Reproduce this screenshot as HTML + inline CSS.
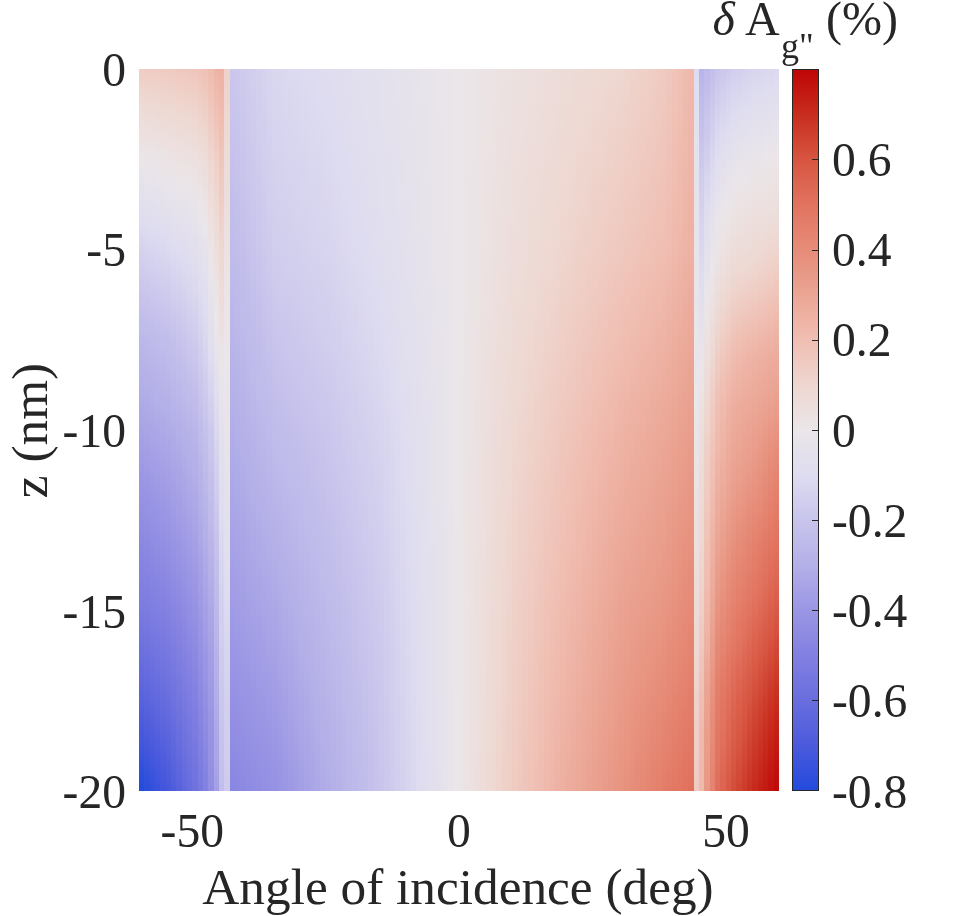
<!DOCTYPE html>
<html><head><meta charset="utf-8"><style>
html,body{margin:0;padding:0;background:#fff;}
body{width:958px;height:916px;overflow:hidden;position:relative;font-family:"Liberation Serif","Times New Roman",serif;color:#262626;}
svg{position:absolute;left:0;top:0;}
.t{position:absolute;font-size:48px;line-height:1;white-space:nowrap;}
</style></head><body>
<svg width="958" height="916" viewBox="0 0 958 916" shape-rendering="crispEdges">
<defs><linearGradient id="g0" x1="0" y1="0" x2="0" y2="1"><stop offset="0.000" stop-color="#efcdc4"/><stop offset="0.031" stop-color="#eed6ce"/><stop offset="0.062" stop-color="#eddcd8"/><stop offset="0.094" stop-color="#ece1e0"/><stop offset="0.125" stop-color="#ebe6e9"/><stop offset="0.156" stop-color="#e6e2eb"/><stop offset="0.188" stop-color="#e2dfee"/><stop offset="0.219" stop-color="#dddbf0"/><stop offset="0.250" stop-color="#d5d2ee"/><stop offset="0.281" stop-color="#cfcbed"/><stop offset="0.312" stop-color="#c8c4ec"/><stop offset="0.344" stop-color="#c2beeb"/><stop offset="0.375" stop-color="#bcb8ea"/><stop offset="0.406" stop-color="#b8b4e9"/><stop offset="0.438" stop-color="#b3afe8"/><stop offset="0.469" stop-color="#ada9e7"/><stop offset="0.500" stop-color="#a8a3e6"/><stop offset="0.531" stop-color="#a29de5"/><stop offset="0.562" stop-color="#9c97e4"/><stop offset="0.594" stop-color="#9792e3"/><stop offset="0.625" stop-color="#918de3"/><stop offset="0.656" stop-color="#8b88e2"/><stop offset="0.688" stop-color="#8683e1"/><stop offset="0.719" stop-color="#807fe1"/><stop offset="0.750" stop-color="#7a7be0"/><stop offset="0.781" stop-color="#7275df"/><stop offset="0.812" stop-color="#6a6fde"/><stop offset="0.844" stop-color="#6168dd"/><stop offset="0.875" stop-color="#5762dd"/><stop offset="0.906" stop-color="#4c5bdc"/><stop offset="0.938" stop-color="#3f56dc"/><stop offset="0.969" stop-color="#3150dc"/><stop offset="1.000" stop-color="#234bdc"/></linearGradient><linearGradient id="g1" x1="0" y1="0" x2="0" y2="1"><stop offset="0.000" stop-color="#efccc3"/><stop offset="0.031" stop-color="#eed5ce"/><stop offset="0.062" stop-color="#eddbd7"/><stop offset="0.094" stop-color="#ece0df"/><stop offset="0.125" stop-color="#ebe5e8"/><stop offset="0.156" stop-color="#e7e3eb"/><stop offset="0.188" stop-color="#e3e0ee"/><stop offset="0.219" stop-color="#dedcf0"/><stop offset="0.250" stop-color="#d7d4ef"/><stop offset="0.281" stop-color="#d0cded"/><stop offset="0.312" stop-color="#c9c5ec"/><stop offset="0.344" stop-color="#c3bfeb"/><stop offset="0.375" stop-color="#bdb9ea"/><stop offset="0.406" stop-color="#b9b5e9"/><stop offset="0.438" stop-color="#b4b0e8"/><stop offset="0.469" stop-color="#afaae7"/><stop offset="0.500" stop-color="#a9a5e6"/><stop offset="0.531" stop-color="#a49fe5"/><stop offset="0.562" stop-color="#9e99e4"/><stop offset="0.594" stop-color="#9894e4"/><stop offset="0.625" stop-color="#938fe3"/><stop offset="0.656" stop-color="#8d8ae2"/><stop offset="0.688" stop-color="#8885e2"/><stop offset="0.719" stop-color="#8280e1"/><stop offset="0.750" stop-color="#7c7ce0"/><stop offset="0.781" stop-color="#7576df"/><stop offset="0.812" stop-color="#6d71de"/><stop offset="0.844" stop-color="#646bde"/><stop offset="0.875" stop-color="#5b64dd"/><stop offset="0.906" stop-color="#515edc"/><stop offset="0.938" stop-color="#4558dc"/><stop offset="0.969" stop-color="#3853dc"/><stop offset="1.000" stop-color="#2a4edc"/></linearGradient><linearGradient id="g2" x1="0" y1="0" x2="0" y2="1"><stop offset="0.000" stop-color="#efccc3"/><stop offset="0.031" stop-color="#eed4cd"/><stop offset="0.062" stop-color="#eddbd6"/><stop offset="0.094" stop-color="#ece0de"/><stop offset="0.125" stop-color="#ebe5e7"/><stop offset="0.156" stop-color="#e8e3eb"/><stop offset="0.188" stop-color="#e3e0ed"/><stop offset="0.219" stop-color="#dfddf0"/><stop offset="0.250" stop-color="#d8d5ef"/><stop offset="0.281" stop-color="#d1ceee"/><stop offset="0.312" stop-color="#cbc7ec"/><stop offset="0.344" stop-color="#c4c0eb"/><stop offset="0.375" stop-color="#bebaea"/><stop offset="0.406" stop-color="#bab6e9"/><stop offset="0.438" stop-color="#b5b1e8"/><stop offset="0.469" stop-color="#b0ace7"/><stop offset="0.500" stop-color="#aaa6e6"/><stop offset="0.531" stop-color="#a5a1e6"/><stop offset="0.562" stop-color="#a09be5"/><stop offset="0.594" stop-color="#9a95e4"/><stop offset="0.625" stop-color="#9591e3"/><stop offset="0.656" stop-color="#8f8ce3"/><stop offset="0.688" stop-color="#8a87e2"/><stop offset="0.719" stop-color="#8482e1"/><stop offset="0.750" stop-color="#7e7de1"/><stop offset="0.781" stop-color="#7778e0"/><stop offset="0.812" stop-color="#6f72df"/><stop offset="0.844" stop-color="#676dde"/><stop offset="0.875" stop-color="#5e67dd"/><stop offset="0.906" stop-color="#5560dd"/><stop offset="0.938" stop-color="#4b5adc"/><stop offset="0.969" stop-color="#3e55dc"/><stop offset="1.000" stop-color="#3150dc"/></linearGradient><linearGradient id="g3" x1="0" y1="0" x2="0" y2="1"><stop offset="0.000" stop-color="#efccc2"/><stop offset="0.031" stop-color="#eed4cc"/><stop offset="0.062" stop-color="#eddad5"/><stop offset="0.094" stop-color="#ecdfde"/><stop offset="0.125" stop-color="#ebe4e6"/><stop offset="0.156" stop-color="#e8e4eb"/><stop offset="0.188" stop-color="#e4e0ed"/><stop offset="0.219" stop-color="#dfddef"/><stop offset="0.250" stop-color="#d9d7ef"/><stop offset="0.281" stop-color="#d3d0ee"/><stop offset="0.312" stop-color="#ccc8ed"/><stop offset="0.344" stop-color="#c6c2ec"/><stop offset="0.375" stop-color="#c0bcea"/><stop offset="0.406" stop-color="#bbb7e9"/><stop offset="0.438" stop-color="#b7b3e9"/><stop offset="0.469" stop-color="#b2aee8"/><stop offset="0.500" stop-color="#aca8e7"/><stop offset="0.531" stop-color="#a7a2e6"/><stop offset="0.562" stop-color="#a29de5"/><stop offset="0.594" stop-color="#9c97e4"/><stop offset="0.625" stop-color="#9792e4"/><stop offset="0.656" stop-color="#918ee3"/><stop offset="0.688" stop-color="#8c89e2"/><stop offset="0.719" stop-color="#8684e1"/><stop offset="0.750" stop-color="#807fe1"/><stop offset="0.781" stop-color="#797ae0"/><stop offset="0.812" stop-color="#7274df"/><stop offset="0.844" stop-color="#6a6fde"/><stop offset="0.875" stop-color="#6269de"/><stop offset="0.906" stop-color="#5963dd"/><stop offset="0.938" stop-color="#4f5ddc"/><stop offset="0.969" stop-color="#4558dc"/><stop offset="1.000" stop-color="#3953dc"/></linearGradient><linearGradient id="g4" x1="0" y1="0" x2="0" y2="1"><stop offset="0.000" stop-color="#efcbc2"/><stop offset="0.031" stop-color="#eed3cc"/><stop offset="0.062" stop-color="#eddad4"/><stop offset="0.094" stop-color="#ecdfdd"/><stop offset="0.125" stop-color="#ebe4e5"/><stop offset="0.156" stop-color="#e9e4ea"/><stop offset="0.188" stop-color="#e4e1ec"/><stop offset="0.219" stop-color="#e0deef"/><stop offset="0.250" stop-color="#dad8ef"/><stop offset="0.281" stop-color="#d4d1ee"/><stop offset="0.312" stop-color="#cdcaed"/><stop offset="0.344" stop-color="#c7c3ec"/><stop offset="0.375" stop-color="#c1bdeb"/><stop offset="0.406" stop-color="#bcb8ea"/><stop offset="0.438" stop-color="#b8b4e9"/><stop offset="0.469" stop-color="#b3afe8"/><stop offset="0.500" stop-color="#aea9e7"/><stop offset="0.531" stop-color="#a8a4e6"/><stop offset="0.562" stop-color="#a39fe5"/><stop offset="0.594" stop-color="#9e99e4"/><stop offset="0.625" stop-color="#9994e4"/><stop offset="0.656" stop-color="#938fe3"/><stop offset="0.688" stop-color="#8e8ae2"/><stop offset="0.719" stop-color="#8885e2"/><stop offset="0.750" stop-color="#8280e1"/><stop offset="0.781" stop-color="#7b7be0"/><stop offset="0.812" stop-color="#7476df"/><stop offset="0.844" stop-color="#6d71de"/><stop offset="0.875" stop-color="#656cde"/><stop offset="0.906" stop-color="#5d66dd"/><stop offset="0.938" stop-color="#5460dd"/><stop offset="0.969" stop-color="#4b5adc"/><stop offset="1.000" stop-color="#4056dc"/></linearGradient><linearGradient id="g5" x1="0" y1="0" x2="0" y2="1"><stop offset="0.000" stop-color="#efcac1"/><stop offset="0.031" stop-color="#eed3cb"/><stop offset="0.062" stop-color="#eed9d4"/><stop offset="0.094" stop-color="#eddedc"/><stop offset="0.125" stop-color="#ece3e4"/><stop offset="0.156" stop-color="#e9e5ea"/><stop offset="0.188" stop-color="#e5e2ec"/><stop offset="0.219" stop-color="#e1deee"/><stop offset="0.250" stop-color="#dcdaf0"/><stop offset="0.281" stop-color="#d5d2ee"/><stop offset="0.312" stop-color="#cfcbed"/><stop offset="0.344" stop-color="#c8c4ec"/><stop offset="0.375" stop-color="#c2beeb"/><stop offset="0.406" stop-color="#bebaea"/><stop offset="0.438" stop-color="#b9b5e9"/><stop offset="0.469" stop-color="#b4b0e8"/><stop offset="0.500" stop-color="#afabe7"/><stop offset="0.531" stop-color="#aaa6e6"/><stop offset="0.562" stop-color="#a5a0e6"/><stop offset="0.594" stop-color="#a09be5"/><stop offset="0.625" stop-color="#9b96e4"/><stop offset="0.656" stop-color="#9591e3"/><stop offset="0.688" stop-color="#908ce3"/><stop offset="0.719" stop-color="#8a87e2"/><stop offset="0.750" stop-color="#8482e1"/><stop offset="0.781" stop-color="#7e7de0"/><stop offset="0.812" stop-color="#7778e0"/><stop offset="0.844" stop-color="#7073df"/><stop offset="0.875" stop-color="#696ede"/><stop offset="0.906" stop-color="#6168dd"/><stop offset="0.938" stop-color="#5863dd"/><stop offset="0.969" stop-color="#505edc"/><stop offset="1.000" stop-color="#4758dc"/></linearGradient><linearGradient id="g6" x1="0" y1="0" x2="0" y2="1"><stop offset="0.000" stop-color="#efcac0"/><stop offset="0.031" stop-color="#eed2ca"/><stop offset="0.062" stop-color="#eed9d3"/><stop offset="0.094" stop-color="#eddedb"/><stop offset="0.125" stop-color="#ece2e3"/><stop offset="0.156" stop-color="#eae5ea"/><stop offset="0.188" stop-color="#e6e2ec"/><stop offset="0.219" stop-color="#e2dfee"/><stop offset="0.250" stop-color="#dedcf0"/><stop offset="0.281" stop-color="#d7d5ef"/><stop offset="0.312" stop-color="#d1ceee"/><stop offset="0.344" stop-color="#cac7ec"/><stop offset="0.375" stop-color="#c4c0eb"/><stop offset="0.406" stop-color="#c0bcea"/><stop offset="0.438" stop-color="#bbb7e9"/><stop offset="0.469" stop-color="#b7b3e9"/><stop offset="0.500" stop-color="#b2ade8"/><stop offset="0.531" stop-color="#ada8e7"/><stop offset="0.562" stop-color="#a8a3e6"/><stop offset="0.594" stop-color="#a39ee5"/><stop offset="0.625" stop-color="#9e99e4"/><stop offset="0.656" stop-color="#9894e4"/><stop offset="0.688" stop-color="#938fe3"/><stop offset="0.719" stop-color="#8e8ae2"/><stop offset="0.750" stop-color="#8885e2"/><stop offset="0.781" stop-color="#8280e1"/><stop offset="0.812" stop-color="#7b7be0"/><stop offset="0.844" stop-color="#7476df"/><stop offset="0.875" stop-color="#6e72df"/><stop offset="0.906" stop-color="#676dde"/><stop offset="0.938" stop-color="#5f68dd"/><stop offset="0.969" stop-color="#5862dd"/><stop offset="1.000" stop-color="#505ddc"/></linearGradient><linearGradient id="g7" x1="0" y1="0" x2="0" y2="1"><stop offset="0.000" stop-color="#efc8bf"/><stop offset="0.031" stop-color="#efd1c8"/><stop offset="0.062" stop-color="#eed8d2"/><stop offset="0.094" stop-color="#edddda"/><stop offset="0.125" stop-color="#ece2e2"/><stop offset="0.156" stop-color="#ebe6e9"/><stop offset="0.188" stop-color="#e7e3eb"/><stop offset="0.219" stop-color="#e3e0ed"/><stop offset="0.250" stop-color="#dfddf0"/><stop offset="0.281" stop-color="#d9d7ef"/><stop offset="0.312" stop-color="#d3d0ee"/><stop offset="0.344" stop-color="#cdc9ed"/><stop offset="0.375" stop-color="#c7c3ec"/><stop offset="0.406" stop-color="#c2beeb"/><stop offset="0.438" stop-color="#bdb9ea"/><stop offset="0.469" stop-color="#b9b5e9"/><stop offset="0.500" stop-color="#b4b0e8"/><stop offset="0.531" stop-color="#afabe7"/><stop offset="0.562" stop-color="#aaa6e6"/><stop offset="0.594" stop-color="#a6a1e6"/><stop offset="0.625" stop-color="#a19ce5"/><stop offset="0.656" stop-color="#9c97e4"/><stop offset="0.688" stop-color="#9692e3"/><stop offset="0.719" stop-color="#918de3"/><stop offset="0.750" stop-color="#8c88e2"/><stop offset="0.781" stop-color="#8583e1"/><stop offset="0.812" stop-color="#7f7ee1"/><stop offset="0.844" stop-color="#797ae0"/><stop offset="0.875" stop-color="#7375df"/><stop offset="0.906" stop-color="#6d71de"/><stop offset="0.938" stop-color="#666cde"/><stop offset="0.969" stop-color="#5f67dd"/><stop offset="1.000" stop-color="#5862dd"/></linearGradient><linearGradient id="g8" x1="0" y1="0" x2="0" y2="1"><stop offset="0.000" stop-color="#efc8bd"/><stop offset="0.031" stop-color="#efd0c7"/><stop offset="0.062" stop-color="#eed7d1"/><stop offset="0.094" stop-color="#eddcd9"/><stop offset="0.125" stop-color="#ece1e1"/><stop offset="0.156" stop-color="#ebe6e8"/><stop offset="0.188" stop-color="#e7e3eb"/><stop offset="0.219" stop-color="#e4e0ed"/><stop offset="0.250" stop-color="#e0ddef"/><stop offset="0.281" stop-color="#dbd9ef"/><stop offset="0.312" stop-color="#d5d2ee"/><stop offset="0.344" stop-color="#cfcced"/><stop offset="0.375" stop-color="#c9c5ec"/><stop offset="0.406" stop-color="#c4c0eb"/><stop offset="0.438" stop-color="#c0bcea"/><stop offset="0.469" stop-color="#bbb7e9"/><stop offset="0.500" stop-color="#b6b2e8"/><stop offset="0.531" stop-color="#b2aee8"/><stop offset="0.562" stop-color="#ada9e7"/><stop offset="0.594" stop-color="#a9a4e6"/><stop offset="0.625" stop-color="#a49fe5"/><stop offset="0.656" stop-color="#9f9ae5"/><stop offset="0.688" stop-color="#9a95e4"/><stop offset="0.719" stop-color="#9490e3"/><stop offset="0.750" stop-color="#8f8be3"/><stop offset="0.781" stop-color="#8986e2"/><stop offset="0.812" stop-color="#8481e1"/><stop offset="0.844" stop-color="#7e7de0"/><stop offset="0.875" stop-color="#7879e0"/><stop offset="0.906" stop-color="#7275df"/><stop offset="0.938" stop-color="#6c71de"/><stop offset="0.969" stop-color="#666cde"/><stop offset="1.000" stop-color="#5f68dd"/></linearGradient><linearGradient id="g9" x1="0" y1="0" x2="0" y2="1"><stop offset="0.000" stop-color="#efc6bc"/><stop offset="0.031" stop-color="#efcfc6"/><stop offset="0.062" stop-color="#eed7d0"/><stop offset="0.094" stop-color="#eddcd8"/><stop offset="0.125" stop-color="#ece1e0"/><stop offset="0.156" stop-color="#ebe5e7"/><stop offset="0.188" stop-color="#e8e4ea"/><stop offset="0.219" stop-color="#e5e1ec"/><stop offset="0.250" stop-color="#e1deee"/><stop offset="0.281" stop-color="#dddbf0"/><stop offset="0.312" stop-color="#d7d5ef"/><stop offset="0.344" stop-color="#d2cfee"/><stop offset="0.375" stop-color="#ccc8ed"/><stop offset="0.406" stop-color="#c7c3ec"/><stop offset="0.438" stop-color="#c2beeb"/><stop offset="0.469" stop-color="#bdb9ea"/><stop offset="0.500" stop-color="#b8b4e9"/><stop offset="0.531" stop-color="#b4b0e8"/><stop offset="0.562" stop-color="#b0ace7"/><stop offset="0.594" stop-color="#aca7e7"/><stop offset="0.625" stop-color="#a7a2e6"/><stop offset="0.656" stop-color="#a29de5"/><stop offset="0.688" stop-color="#9d98e4"/><stop offset="0.719" stop-color="#9893e4"/><stop offset="0.750" stop-color="#928fe3"/><stop offset="0.781" stop-color="#8d8ae2"/><stop offset="0.812" stop-color="#8885e2"/><stop offset="0.844" stop-color="#8280e1"/><stop offset="0.875" stop-color="#7d7ce0"/><stop offset="0.906" stop-color="#7879e0"/><stop offset="0.938" stop-color="#7275df"/><stop offset="0.969" stop-color="#6d71de"/><stop offset="1.000" stop-color="#676dde"/></linearGradient><linearGradient id="g10" x1="0" y1="0" x2="0" y2="1"><stop offset="0.000" stop-color="#efc6bb"/><stop offset="0.031" stop-color="#efcec5"/><stop offset="0.062" stop-color="#eed6ce"/><stop offset="0.094" stop-color="#eddbd7"/><stop offset="0.125" stop-color="#ece0df"/><stop offset="0.156" stop-color="#ebe4e6"/><stop offset="0.188" stop-color="#e9e4ea"/><stop offset="0.219" stop-color="#e5e2ec"/><stop offset="0.250" stop-color="#e2dfee"/><stop offset="0.281" stop-color="#dfdcf0"/><stop offset="0.312" stop-color="#dad7ef"/><stop offset="0.344" stop-color="#d4d1ee"/><stop offset="0.375" stop-color="#cfcbed"/><stop offset="0.406" stop-color="#c9c5ec"/><stop offset="0.438" stop-color="#c4c0eb"/><stop offset="0.469" stop-color="#bfbbea"/><stop offset="0.500" stop-color="#bab6e9"/><stop offset="0.531" stop-color="#b6b2e8"/><stop offset="0.562" stop-color="#b3afe8"/><stop offset="0.594" stop-color="#aeaae7"/><stop offset="0.625" stop-color="#aaa6e6"/><stop offset="0.656" stop-color="#a5a0e6"/><stop offset="0.688" stop-color="#a09be5"/><stop offset="0.719" stop-color="#9b96e4"/><stop offset="0.750" stop-color="#9692e3"/><stop offset="0.781" stop-color="#918de3"/><stop offset="0.812" stop-color="#8c89e2"/><stop offset="0.844" stop-color="#8784e2"/><stop offset="0.875" stop-color="#8280e1"/><stop offset="0.906" stop-color="#7d7ce0"/><stop offset="0.938" stop-color="#7879e0"/><stop offset="0.969" stop-color="#7375df"/><stop offset="1.000" stop-color="#6e72df"/></linearGradient><linearGradient id="g11" x1="0" y1="0" x2="0" y2="1"><stop offset="0.000" stop-color="#f0c3b8"/><stop offset="0.031" stop-color="#efcbc1"/><stop offset="0.062" stop-color="#eed3cb"/><stop offset="0.094" stop-color="#eed9d3"/><stop offset="0.125" stop-color="#eddedb"/><stop offset="0.156" stop-color="#ece2e2"/><stop offset="0.188" stop-color="#ebe6e8"/><stop offset="0.219" stop-color="#e8e4eb"/><stop offset="0.250" stop-color="#e4e1ec"/><stop offset="0.281" stop-color="#e1dfee"/><stop offset="0.312" stop-color="#dedcf0"/><stop offset="0.344" stop-color="#d9d7ef"/><stop offset="0.375" stop-color="#d4d1ee"/><stop offset="0.406" stop-color="#cfcced"/><stop offset="0.438" stop-color="#cac6ec"/><stop offset="0.469" stop-color="#c5c1eb"/><stop offset="0.500" stop-color="#c0bcea"/><stop offset="0.531" stop-color="#bcb8ea"/><stop offset="0.562" stop-color="#b8b4e9"/><stop offset="0.594" stop-color="#b5b1e8"/><stop offset="0.625" stop-color="#b0ace7"/><stop offset="0.656" stop-color="#aca7e7"/><stop offset="0.688" stop-color="#a7a2e6"/><stop offset="0.719" stop-color="#a29de5"/><stop offset="0.750" stop-color="#9e99e4"/><stop offset="0.781" stop-color="#9994e4"/><stop offset="0.812" stop-color="#9490e3"/><stop offset="0.844" stop-color="#8f8ce3"/><stop offset="0.875" stop-color="#8b88e2"/><stop offset="0.906" stop-color="#8684e1"/><stop offset="0.938" stop-color="#8180e1"/><stop offset="0.969" stop-color="#7d7ce0"/><stop offset="1.000" stop-color="#7879e0"/></linearGradient><linearGradient id="g12" x1="0" y1="0" x2="0" y2="1"><stop offset="0.000" stop-color="#f0c0b5"/><stop offset="0.031" stop-color="#efc8be"/><stop offset="0.062" stop-color="#efd0c7"/><stop offset="0.094" stop-color="#eed7d0"/><stop offset="0.125" stop-color="#eddcd8"/><stop offset="0.156" stop-color="#ecdfde"/><stop offset="0.188" stop-color="#ece3e4"/><stop offset="0.219" stop-color="#eae6e9"/><stop offset="0.250" stop-color="#e7e3eb"/><stop offset="0.281" stop-color="#e4e1ed"/><stop offset="0.312" stop-color="#e1deee"/><stop offset="0.344" stop-color="#dedcf0"/><stop offset="0.375" stop-color="#dad7ef"/><stop offset="0.406" stop-color="#d5d2ee"/><stop offset="0.438" stop-color="#d0cced"/><stop offset="0.469" stop-color="#cbc7ec"/><stop offset="0.500" stop-color="#c6c2ec"/><stop offset="0.531" stop-color="#c2beeb"/><stop offset="0.562" stop-color="#bebaea"/><stop offset="0.594" stop-color="#bab6e9"/><stop offset="0.625" stop-color="#b6b2e8"/><stop offset="0.656" stop-color="#b2aee8"/><stop offset="0.688" stop-color="#aeaae7"/><stop offset="0.719" stop-color="#a9a5e6"/><stop offset="0.750" stop-color="#a5a0e6"/><stop offset="0.781" stop-color="#a19ce5"/><stop offset="0.812" stop-color="#9c97e4"/><stop offset="0.844" stop-color="#9893e4"/><stop offset="0.875" stop-color="#948fe3"/><stop offset="0.906" stop-color="#8f8ce3"/><stop offset="0.938" stop-color="#8b88e2"/><stop offset="0.969" stop-color="#8684e2"/><stop offset="1.000" stop-color="#8280e1"/></linearGradient><linearGradient id="g13" x1="0" y1="0" x2="0" y2="1"><stop offset="0.000" stop-color="#f0bcaf"/><stop offset="0.031" stop-color="#f0c2b7"/><stop offset="0.062" stop-color="#efc9c0"/><stop offset="0.094" stop-color="#efd0c8"/><stop offset="0.125" stop-color="#eed7d0"/><stop offset="0.156" stop-color="#eddad6"/><stop offset="0.188" stop-color="#eddedb"/><stop offset="0.219" stop-color="#ece1e1"/><stop offset="0.250" stop-color="#ebe4e6"/><stop offset="0.281" stop-color="#eae5ea"/><stop offset="0.312" stop-color="#e7e3eb"/><stop offset="0.344" stop-color="#e4e1ec"/><stop offset="0.375" stop-color="#e2dfee"/><stop offset="0.406" stop-color="#dedcf0"/><stop offset="0.438" stop-color="#d8d6ef"/><stop offset="0.469" stop-color="#d2cfee"/><stop offset="0.500" stop-color="#ccc9ed"/><stop offset="0.531" stop-color="#c9c5ec"/><stop offset="0.562" stop-color="#c5c1eb"/><stop offset="0.594" stop-color="#c2beeb"/><stop offset="0.625" stop-color="#bebaea"/><stop offset="0.656" stop-color="#bab6e9"/><stop offset="0.688" stop-color="#b6b2e8"/><stop offset="0.719" stop-color="#b2ade8"/><stop offset="0.750" stop-color="#aca8e7"/><stop offset="0.781" stop-color="#a9a4e6"/><stop offset="0.812" stop-color="#a5a0e6"/><stop offset="0.844" stop-color="#a19ce5"/><stop offset="0.875" stop-color="#9e99e4"/><stop offset="0.906" stop-color="#9a95e4"/><stop offset="0.938" stop-color="#9793e4"/><stop offset="0.969" stop-color="#9490e3"/><stop offset="1.000" stop-color="#918de3"/></linearGradient><linearGradient id="g14" x1="0" y1="0" x2="0" y2="1"><stop offset="0.000" stop-color="#eeb4a6"/><stop offset="0.031" stop-color="#efbbae"/><stop offset="0.062" stop-color="#f0c2b6"/><stop offset="0.094" stop-color="#efc9bf"/><stop offset="0.125" stop-color="#efd0c7"/><stop offset="0.156" stop-color="#eed4cd"/><stop offset="0.188" stop-color="#eed8d2"/><stop offset="0.219" stop-color="#eddcd8"/><stop offset="0.250" stop-color="#ecdedc"/><stop offset="0.281" stop-color="#ece1e1"/><stop offset="0.312" stop-color="#ebe4e5"/><stop offset="0.344" stop-color="#ebe6e9"/><stop offset="0.375" stop-color="#e8e4ea"/><stop offset="0.406" stop-color="#e5e2ec"/><stop offset="0.438" stop-color="#e2dfee"/><stop offset="0.469" stop-color="#dfdcf0"/><stop offset="0.500" stop-color="#dad7ef"/><stop offset="0.531" stop-color="#d6d3ee"/><stop offset="0.562" stop-color="#d2cfee"/><stop offset="0.594" stop-color="#cecbed"/><stop offset="0.625" stop-color="#cac6ec"/><stop offset="0.656" stop-color="#c6c2ec"/><stop offset="0.688" stop-color="#c3bfeb"/><stop offset="0.719" stop-color="#c0bcea"/><stop offset="0.750" stop-color="#bcb8ea"/><stop offset="0.781" stop-color="#bab6e9"/><stop offset="0.812" stop-color="#b7b3e9"/><stop offset="0.844" stop-color="#b4b0e8"/><stop offset="0.875" stop-color="#b2ade8"/><stop offset="0.906" stop-color="#aeaae7"/><stop offset="0.938" stop-color="#aba7e7"/><stop offset="0.969" stop-color="#a8a4e6"/><stop offset="1.000" stop-color="#a5a0e6"/></linearGradient><linearGradient id="g15" x1="0" y1="0" x2="0" y2="1"><stop offset="0.000" stop-color="#eeb2a3"/><stop offset="0.031" stop-color="#eeb6a9"/><stop offset="0.062" stop-color="#f0bcaf"/><stop offset="0.094" stop-color="#f0c0b5"/><stop offset="0.125" stop-color="#efc6bb"/><stop offset="0.156" stop-color="#efcac0"/><stop offset="0.188" stop-color="#efcec6"/><stop offset="0.219" stop-color="#eed3cb"/><stop offset="0.250" stop-color="#eed7d0"/><stop offset="0.281" stop-color="#eddad4"/><stop offset="0.312" stop-color="#eddcd9"/><stop offset="0.344" stop-color="#ecdfdd"/><stop offset="0.375" stop-color="#ece2e2"/><stop offset="0.406" stop-color="#ebe4e6"/><stop offset="0.438" stop-color="#eae5ea"/><stop offset="0.469" stop-color="#e7e3eb"/><stop offset="0.500" stop-color="#e4e1ec"/><stop offset="0.531" stop-color="#e3e0ed"/><stop offset="0.562" stop-color="#e1deee"/><stop offset="0.594" stop-color="#e0ddef"/><stop offset="0.625" stop-color="#dedcf0"/><stop offset="0.656" stop-color="#dbd9f0"/><stop offset="0.688" stop-color="#d8d6ef"/><stop offset="0.719" stop-color="#d6d3ee"/><stop offset="0.750" stop-color="#d3d0ee"/><stop offset="0.781" stop-color="#d1ceee"/><stop offset="0.812" stop-color="#cfcbed"/><stop offset="0.844" stop-color="#ccc9ed"/><stop offset="0.875" stop-color="#cac6ec"/><stop offset="0.906" stop-color="#c8c4ec"/><stop offset="0.938" stop-color="#c6c2ec"/><stop offset="0.969" stop-color="#c4c0eb"/><stop offset="1.000" stop-color="#c2beeb"/></linearGradient><linearGradient id="g16" x1="0" y1="0" x2="0" y2="1"><stop offset="0.000" stop-color="#eed2ca"/><stop offset="0.031" stop-color="#eed5ce"/><stop offset="0.062" stop-color="#eed8d1"/><stop offset="0.094" stop-color="#eddad4"/><stop offset="0.125" stop-color="#eddcd8"/><stop offset="0.156" stop-color="#edddda"/><stop offset="0.188" stop-color="#ecdedc"/><stop offset="0.219" stop-color="#ece0df"/><stop offset="0.250" stop-color="#ece2e2"/><stop offset="0.281" stop-color="#ece3e3"/><stop offset="0.312" stop-color="#ebe4e5"/><stop offset="0.344" stop-color="#ebe5e7"/><stop offset="0.375" stop-color="#ebe6e9"/><stop offset="0.406" stop-color="#eae6e9"/><stop offset="0.438" stop-color="#eae5ea"/><stop offset="0.469" stop-color="#e9e4ea"/><stop offset="0.500" stop-color="#e8e4ea"/><stop offset="0.531" stop-color="#e7e3eb"/><stop offset="0.562" stop-color="#e6e2ec"/><stop offset="0.594" stop-color="#e4e1ec"/><stop offset="0.625" stop-color="#e3e0ed"/><stop offset="0.656" stop-color="#e2dfee"/><stop offset="0.688" stop-color="#e0deef"/><stop offset="0.719" stop-color="#dedcf0"/><stop offset="0.750" stop-color="#dcdaf0"/><stop offset="0.781" stop-color="#dad7ef"/><stop offset="0.812" stop-color="#d7d5ef"/><stop offset="0.844" stop-color="#d5d2ee"/><stop offset="0.875" stop-color="#d3d0ee"/><stop offset="0.906" stop-color="#d2cfee"/><stop offset="0.938" stop-color="#d1ceee"/><stop offset="0.969" stop-color="#d0cced"/><stop offset="1.000" stop-color="#cfcbed"/></linearGradient><linearGradient id="g17" x1="0" y1="0" x2="0" y2="1"><stop offset="0.000" stop-color="#cac6ec"/><stop offset="0.031" stop-color="#c9c5ec"/><stop offset="0.062" stop-color="#c8c4ec"/><stop offset="0.094" stop-color="#c6c2ec"/><stop offset="0.125" stop-color="#c5c1eb"/><stop offset="0.156" stop-color="#c4c0eb"/><stop offset="0.188" stop-color="#c2beeb"/><stop offset="0.219" stop-color="#c1bdeb"/><stop offset="0.250" stop-color="#c0bcea"/><stop offset="0.281" stop-color="#bebaea"/><stop offset="0.312" stop-color="#bcb8ea"/><stop offset="0.344" stop-color="#bbb7e9"/><stop offset="0.375" stop-color="#b9b5e9"/><stop offset="0.406" stop-color="#b7b3e9"/><stop offset="0.438" stop-color="#b6b2e8"/><stop offset="0.469" stop-color="#b4b0e8"/><stop offset="0.500" stop-color="#b2ade8"/><stop offset="0.531" stop-color="#afabe7"/><stop offset="0.562" stop-color="#ada9e7"/><stop offset="0.594" stop-color="#aba7e7"/><stop offset="0.625" stop-color="#a9a4e6"/><stop offset="0.656" stop-color="#a7a2e6"/><stop offset="0.688" stop-color="#a4a0e6"/><stop offset="0.719" stop-color="#a29de5"/><stop offset="0.750" stop-color="#a09be5"/><stop offset="0.781" stop-color="#9d98e4"/><stop offset="0.812" stop-color="#9a95e4"/><stop offset="0.844" stop-color="#9893e4"/><stop offset="0.875" stop-color="#9590e3"/><stop offset="0.906" stop-color="#928ee3"/><stop offset="0.938" stop-color="#8f8ce3"/><stop offset="0.969" stop-color="#8c89e2"/><stop offset="1.000" stop-color="#8a87e2"/></linearGradient><linearGradient id="g18" x1="0" y1="0" x2="0" y2="1"><stop offset="0.000" stop-color="#ccc8ed"/><stop offset="0.031" stop-color="#cbc7ed"/><stop offset="0.062" stop-color="#c9c6ec"/><stop offset="0.094" stop-color="#c8c4ec"/><stop offset="0.125" stop-color="#c7c3ec"/><stop offset="0.156" stop-color="#c6c2ec"/><stop offset="0.188" stop-color="#c4c0eb"/><stop offset="0.219" stop-color="#c3bfeb"/><stop offset="0.250" stop-color="#c2beeb"/><stop offset="0.281" stop-color="#c0bcea"/><stop offset="0.312" stop-color="#bebaea"/><stop offset="0.344" stop-color="#bdb9ea"/><stop offset="0.375" stop-color="#bbb7e9"/><stop offset="0.406" stop-color="#b9b5e9"/><stop offset="0.438" stop-color="#b7b3e9"/><stop offset="0.469" stop-color="#b6b2e8"/><stop offset="0.500" stop-color="#b4b0e8"/><stop offset="0.531" stop-color="#b1ade8"/><stop offset="0.562" stop-color="#afabe7"/><stop offset="0.594" stop-color="#ada9e7"/><stop offset="0.625" stop-color="#aba6e6"/><stop offset="0.656" stop-color="#a8a4e6"/><stop offset="0.688" stop-color="#a6a2e6"/><stop offset="0.719" stop-color="#a49fe5"/><stop offset="0.750" stop-color="#a29de5"/><stop offset="0.781" stop-color="#9f9ae5"/><stop offset="0.812" stop-color="#9c97e4"/><stop offset="0.844" stop-color="#9994e4"/><stop offset="0.875" stop-color="#9692e3"/><stop offset="0.906" stop-color="#948fe3"/><stop offset="0.938" stop-color="#918de3"/><stop offset="0.969" stop-color="#8e8ae2"/><stop offset="1.000" stop-color="#8b88e2"/></linearGradient><linearGradient id="g19" x1="0" y1="0" x2="0" y2="1"><stop offset="0.000" stop-color="#cecbed"/><stop offset="0.031" stop-color="#cdc9ed"/><stop offset="0.062" stop-color="#cbc8ed"/><stop offset="0.094" stop-color="#cac6ec"/><stop offset="0.125" stop-color="#c9c5ec"/><stop offset="0.156" stop-color="#c8c4ec"/><stop offset="0.188" stop-color="#c6c2ec"/><stop offset="0.219" stop-color="#c5c1eb"/><stop offset="0.250" stop-color="#c4c0eb"/><stop offset="0.281" stop-color="#c2beeb"/><stop offset="0.312" stop-color="#c0bcea"/><stop offset="0.344" stop-color="#bfbbea"/><stop offset="0.375" stop-color="#bdb9ea"/><stop offset="0.406" stop-color="#bbb7e9"/><stop offset="0.438" stop-color="#b9b5e9"/><stop offset="0.469" stop-color="#b7b3e9"/><stop offset="0.500" stop-color="#b6b2e8"/><stop offset="0.531" stop-color="#b4b0e8"/><stop offset="0.562" stop-color="#b1ade8"/><stop offset="0.594" stop-color="#afabe7"/><stop offset="0.625" stop-color="#aca8e7"/><stop offset="0.656" stop-color="#aaa6e6"/><stop offset="0.688" stop-color="#a8a3e6"/><stop offset="0.719" stop-color="#a5a1e6"/><stop offset="0.750" stop-color="#a39ee5"/><stop offset="0.781" stop-color="#a09ce5"/><stop offset="0.812" stop-color="#9e99e4"/><stop offset="0.844" stop-color="#9b96e4"/><stop offset="0.875" stop-color="#9893e4"/><stop offset="0.906" stop-color="#9591e3"/><stop offset="0.938" stop-color="#928ee3"/><stop offset="0.969" stop-color="#8f8ce3"/><stop offset="1.000" stop-color="#8d89e2"/></linearGradient><linearGradient id="g20" x1="0" y1="0" x2="0" y2="1"><stop offset="0.000" stop-color="#d0cded"/><stop offset="0.031" stop-color="#cfcbed"/><stop offset="0.062" stop-color="#cdcaed"/><stop offset="0.094" stop-color="#ccc9ed"/><stop offset="0.125" stop-color="#cbc7ed"/><stop offset="0.156" stop-color="#cac6ec"/><stop offset="0.188" stop-color="#c8c4ec"/><stop offset="0.219" stop-color="#c7c3ec"/><stop offset="0.250" stop-color="#c6c2ec"/><stop offset="0.281" stop-color="#c4c0eb"/><stop offset="0.312" stop-color="#c2beeb"/><stop offset="0.344" stop-color="#c0bcea"/><stop offset="0.375" stop-color="#bfbbea"/><stop offset="0.406" stop-color="#bdb9ea"/><stop offset="0.438" stop-color="#bbb7e9"/><stop offset="0.469" stop-color="#b9b5e9"/><stop offset="0.500" stop-color="#b7b3e9"/><stop offset="0.531" stop-color="#b5b1e8"/><stop offset="0.562" stop-color="#b3afe8"/><stop offset="0.594" stop-color="#b1ade7"/><stop offset="0.625" stop-color="#aeaae7"/><stop offset="0.656" stop-color="#aca8e7"/><stop offset="0.688" stop-color="#aaa5e6"/><stop offset="0.719" stop-color="#a7a3e6"/><stop offset="0.750" stop-color="#a5a0e6"/><stop offset="0.781" stop-color="#a29de5"/><stop offset="0.812" stop-color="#9f9ae5"/><stop offset="0.844" stop-color="#9c97e4"/><stop offset="0.875" stop-color="#9995e4"/><stop offset="0.906" stop-color="#9792e3"/><stop offset="0.938" stop-color="#9490e3"/><stop offset="0.969" stop-color="#918de3"/><stop offset="1.000" stop-color="#8e8be2"/></linearGradient><linearGradient id="g21" x1="0" y1="0" x2="0" y2="1"><stop offset="0.000" stop-color="#d2cfee"/><stop offset="0.031" stop-color="#d1cdee"/><stop offset="0.062" stop-color="#cfcced"/><stop offset="0.094" stop-color="#cecbed"/><stop offset="0.125" stop-color="#cdc9ed"/><stop offset="0.156" stop-color="#ccc8ed"/><stop offset="0.188" stop-color="#cac7ec"/><stop offset="0.219" stop-color="#c9c5ec"/><stop offset="0.250" stop-color="#c8c4ec"/><stop offset="0.281" stop-color="#c6c2ec"/><stop offset="0.312" stop-color="#c4c0eb"/><stop offset="0.344" stop-color="#c2beeb"/><stop offset="0.375" stop-color="#c0bcea"/><stop offset="0.406" stop-color="#bfbbea"/><stop offset="0.438" stop-color="#bdb9ea"/><stop offset="0.469" stop-color="#bbb7e9"/><stop offset="0.500" stop-color="#b9b5e9"/><stop offset="0.531" stop-color="#b7b3e9"/><stop offset="0.562" stop-color="#b5b1e8"/><stop offset="0.594" stop-color="#b3afe8"/><stop offset="0.625" stop-color="#b0ace7"/><stop offset="0.656" stop-color="#aeaae7"/><stop offset="0.688" stop-color="#aba7e7"/><stop offset="0.719" stop-color="#a9a4e6"/><stop offset="0.750" stop-color="#a6a2e6"/><stop offset="0.781" stop-color="#a39fe5"/><stop offset="0.812" stop-color="#a19ce5"/><stop offset="0.844" stop-color="#9e99e4"/><stop offset="0.875" stop-color="#9b96e4"/><stop offset="0.906" stop-color="#9894e4"/><stop offset="0.938" stop-color="#9591e3"/><stop offset="0.969" stop-color="#938fe3"/><stop offset="1.000" stop-color="#908ce3"/></linearGradient><linearGradient id="g22" x1="0" y1="0" x2="0" y2="1"><stop offset="0.000" stop-color="#d4d1ee"/><stop offset="0.031" stop-color="#d3d0ee"/><stop offset="0.062" stop-color="#d1ceee"/><stop offset="0.094" stop-color="#d0cded"/><stop offset="0.125" stop-color="#cfcced"/><stop offset="0.156" stop-color="#cecaed"/><stop offset="0.188" stop-color="#cdc9ed"/><stop offset="0.219" stop-color="#cbc8ed"/><stop offset="0.250" stop-color="#cac6ec"/><stop offset="0.281" stop-color="#c8c4ec"/><stop offset="0.312" stop-color="#c6c2ec"/><stop offset="0.344" stop-color="#c4c0eb"/><stop offset="0.375" stop-color="#c2beeb"/><stop offset="0.406" stop-color="#c0bcea"/><stop offset="0.438" stop-color="#bfbbea"/><stop offset="0.469" stop-color="#bdb9ea"/><stop offset="0.500" stop-color="#bbb7e9"/><stop offset="0.531" stop-color="#b9b5e9"/><stop offset="0.562" stop-color="#b7b3e9"/><stop offset="0.594" stop-color="#b5b1e8"/><stop offset="0.625" stop-color="#b2aee8"/><stop offset="0.656" stop-color="#b0abe7"/><stop offset="0.688" stop-color="#ada9e7"/><stop offset="0.719" stop-color="#aaa6e6"/><stop offset="0.750" stop-color="#a8a3e6"/><stop offset="0.781" stop-color="#a5a0e6"/><stop offset="0.812" stop-color="#a29de5"/><stop offset="0.844" stop-color="#9f9be5"/><stop offset="0.875" stop-color="#9d98e4"/><stop offset="0.906" stop-color="#9a95e4"/><stop offset="0.938" stop-color="#9792e4"/><stop offset="0.969" stop-color="#9490e3"/><stop offset="1.000" stop-color="#918de3"/></linearGradient><linearGradient id="g23" x1="0" y1="0" x2="0" y2="1"><stop offset="0.000" stop-color="#d6d3ee"/><stop offset="0.031" stop-color="#d5d2ee"/><stop offset="0.062" stop-color="#d3d0ee"/><stop offset="0.094" stop-color="#d2cfee"/><stop offset="0.125" stop-color="#d1ceee"/><stop offset="0.156" stop-color="#d0cded"/><stop offset="0.188" stop-color="#cfcbed"/><stop offset="0.219" stop-color="#cecaed"/><stop offset="0.250" stop-color="#ccc9ed"/><stop offset="0.281" stop-color="#cac6ec"/><stop offset="0.312" stop-color="#c8c4ec"/><stop offset="0.344" stop-color="#c6c2ec"/><stop offset="0.375" stop-color="#c4c0eb"/><stop offset="0.406" stop-color="#c2beeb"/><stop offset="0.438" stop-color="#c0bcea"/><stop offset="0.469" stop-color="#bebaea"/><stop offset="0.500" stop-color="#bcb8ea"/><stop offset="0.531" stop-color="#bab6e9"/><stop offset="0.562" stop-color="#b8b4e9"/><stop offset="0.594" stop-color="#b6b2e8"/><stop offset="0.625" stop-color="#b4b0e8"/><stop offset="0.656" stop-color="#b1ade8"/><stop offset="0.688" stop-color="#afaae7"/><stop offset="0.719" stop-color="#aca8e7"/><stop offset="0.750" stop-color="#a9a5e6"/><stop offset="0.781" stop-color="#a7a2e6"/><stop offset="0.812" stop-color="#a49fe5"/><stop offset="0.844" stop-color="#a19ce5"/><stop offset="0.875" stop-color="#9e99e4"/><stop offset="0.906" stop-color="#9b96e4"/><stop offset="0.938" stop-color="#9894e4"/><stop offset="0.969" stop-color="#9691e3"/><stop offset="1.000" stop-color="#938fe3"/></linearGradient><linearGradient id="g24" x1="0" y1="0" x2="0" y2="1"><stop offset="0.000" stop-color="#d8d5ef"/><stop offset="0.031" stop-color="#d7d4ef"/><stop offset="0.062" stop-color="#d5d3ee"/><stop offset="0.094" stop-color="#d4d1ee"/><stop offset="0.125" stop-color="#d3d0ee"/><stop offset="0.156" stop-color="#d2cfee"/><stop offset="0.188" stop-color="#d1ceee"/><stop offset="0.219" stop-color="#d0cced"/><stop offset="0.250" stop-color="#cfcbed"/><stop offset="0.281" stop-color="#ccc9ed"/><stop offset="0.312" stop-color="#cac6ec"/><stop offset="0.344" stop-color="#c8c4ec"/><stop offset="0.375" stop-color="#c6c2ec"/><stop offset="0.406" stop-color="#c4c0eb"/><stop offset="0.438" stop-color="#c2beeb"/><stop offset="0.469" stop-color="#c0bcea"/><stop offset="0.500" stop-color="#bebaea"/><stop offset="0.531" stop-color="#bcb8ea"/><stop offset="0.562" stop-color="#bab6e9"/><stop offset="0.594" stop-color="#b8b4e9"/><stop offset="0.625" stop-color="#b6b2e8"/><stop offset="0.656" stop-color="#b3afe8"/><stop offset="0.688" stop-color="#b0ace7"/><stop offset="0.719" stop-color="#aea9e7"/><stop offset="0.750" stop-color="#aba7e7"/><stop offset="0.781" stop-color="#a8a4e6"/><stop offset="0.812" stop-color="#a5a1e6"/><stop offset="0.844" stop-color="#a29ee5"/><stop offset="0.875" stop-color="#a09be5"/><stop offset="0.906" stop-color="#9d98e4"/><stop offset="0.938" stop-color="#9a95e4"/><stop offset="0.969" stop-color="#9793e4"/><stop offset="1.000" stop-color="#9490e3"/></linearGradient><linearGradient id="g25" x1="0" y1="0" x2="0" y2="1"><stop offset="0.000" stop-color="#dad7ef"/><stop offset="0.031" stop-color="#d8d6ef"/><stop offset="0.062" stop-color="#d7d5ef"/><stop offset="0.094" stop-color="#d6d4ef"/><stop offset="0.125" stop-color="#d5d2ee"/><stop offset="0.156" stop-color="#d4d1ee"/><stop offset="0.188" stop-color="#d3d0ee"/><stop offset="0.219" stop-color="#d2cfee"/><stop offset="0.250" stop-color="#d1ceee"/><stop offset="0.281" stop-color="#cfcbed"/><stop offset="0.312" stop-color="#ccc9ed"/><stop offset="0.344" stop-color="#cac6ec"/><stop offset="0.375" stop-color="#c8c4ec"/><stop offset="0.406" stop-color="#c6c2ec"/><stop offset="0.438" stop-color="#c4c0eb"/><stop offset="0.469" stop-color="#c2beeb"/><stop offset="0.500" stop-color="#c0bcea"/><stop offset="0.531" stop-color="#bebaea"/><stop offset="0.562" stop-color="#bcb8ea"/><stop offset="0.594" stop-color="#b9b5e9"/><stop offset="0.625" stop-color="#b7b3e9"/><stop offset="0.656" stop-color="#b5b1e8"/><stop offset="0.688" stop-color="#b2aee8"/><stop offset="0.719" stop-color="#afabe7"/><stop offset="0.750" stop-color="#aca8e7"/><stop offset="0.781" stop-color="#aaa5e6"/><stop offset="0.812" stop-color="#a7a2e6"/><stop offset="0.844" stop-color="#a49fe5"/><stop offset="0.875" stop-color="#a19ce5"/><stop offset="0.906" stop-color="#9e9ae5"/><stop offset="0.938" stop-color="#9c97e4"/><stop offset="0.969" stop-color="#9994e4"/><stop offset="1.000" stop-color="#9692e3"/></linearGradient><linearGradient id="g26" x1="0" y1="0" x2="0" y2="1"><stop offset="0.000" stop-color="#dad8ef"/><stop offset="0.031" stop-color="#d9d7ef"/><stop offset="0.062" stop-color="#d8d6ef"/><stop offset="0.094" stop-color="#d7d4ef"/><stop offset="0.125" stop-color="#d6d3ef"/><stop offset="0.156" stop-color="#d5d2ee"/><stop offset="0.188" stop-color="#d4d1ee"/><stop offset="0.219" stop-color="#d3d0ee"/><stop offset="0.250" stop-color="#d1ceee"/><stop offset="0.281" stop-color="#cfcced"/><stop offset="0.312" stop-color="#cdcaed"/><stop offset="0.344" stop-color="#cbc7ed"/><stop offset="0.375" stop-color="#c9c5ec"/><stop offset="0.406" stop-color="#c7c3ec"/><stop offset="0.438" stop-color="#c5c1eb"/><stop offset="0.469" stop-color="#c3bfeb"/><stop offset="0.500" stop-color="#c1bdeb"/><stop offset="0.531" stop-color="#bfbbea"/><stop offset="0.562" stop-color="#bdb9ea"/><stop offset="0.594" stop-color="#bab6e9"/><stop offset="0.625" stop-color="#b8b4e9"/><stop offset="0.656" stop-color="#b6b2e8"/><stop offset="0.688" stop-color="#b4b0e8"/><stop offset="0.719" stop-color="#b1ade8"/><stop offset="0.750" stop-color="#aeaae7"/><stop offset="0.781" stop-color="#aca7e7"/><stop offset="0.812" stop-color="#a9a5e6"/><stop offset="0.844" stop-color="#a6a2e6"/><stop offset="0.875" stop-color="#a49fe5"/><stop offset="0.906" stop-color="#a19ce5"/><stop offset="0.938" stop-color="#9e99e5"/><stop offset="0.969" stop-color="#9b96e4"/><stop offset="1.000" stop-color="#9994e4"/></linearGradient><linearGradient id="g27" x1="0" y1="0" x2="0" y2="1"><stop offset="0.000" stop-color="#dbd9ef"/><stop offset="0.031" stop-color="#dad7ef"/><stop offset="0.062" stop-color="#d9d6ef"/><stop offset="0.094" stop-color="#d8d5ef"/><stop offset="0.125" stop-color="#d7d4ef"/><stop offset="0.156" stop-color="#d5d3ee"/><stop offset="0.188" stop-color="#d4d1ee"/><stop offset="0.219" stop-color="#d3d0ee"/><stop offset="0.250" stop-color="#d2cfee"/><stop offset="0.281" stop-color="#d0cded"/><stop offset="0.312" stop-color="#cecaed"/><stop offset="0.344" stop-color="#ccc8ed"/><stop offset="0.375" stop-color="#cac6ec"/><stop offset="0.406" stop-color="#c8c4ec"/><stop offset="0.438" stop-color="#c6c2ec"/><stop offset="0.469" stop-color="#c4c0eb"/><stop offset="0.500" stop-color="#c2beeb"/><stop offset="0.531" stop-color="#c0bcea"/><stop offset="0.562" stop-color="#bebaea"/><stop offset="0.594" stop-color="#bcb8ea"/><stop offset="0.625" stop-color="#bab6e9"/><stop offset="0.656" stop-color="#b8b4e9"/><stop offset="0.688" stop-color="#b5b1e8"/><stop offset="0.719" stop-color="#b3afe8"/><stop offset="0.750" stop-color="#b0ace7"/><stop offset="0.781" stop-color="#aeaae7"/><stop offset="0.812" stop-color="#aba7e7"/><stop offset="0.844" stop-color="#a9a4e6"/><stop offset="0.875" stop-color="#a6a1e6"/><stop offset="0.906" stop-color="#a39fe5"/><stop offset="0.938" stop-color="#a19ce5"/><stop offset="0.969" stop-color="#9e99e4"/><stop offset="1.000" stop-color="#9c97e4"/></linearGradient><linearGradient id="g28" x1="0" y1="0" x2="0" y2="1"><stop offset="0.000" stop-color="#dcd9f0"/><stop offset="0.031" stop-color="#dad8ef"/><stop offset="0.062" stop-color="#d9d7ef"/><stop offset="0.094" stop-color="#d8d6ef"/><stop offset="0.125" stop-color="#d7d5ef"/><stop offset="0.156" stop-color="#d6d3ef"/><stop offset="0.188" stop-color="#d5d2ee"/><stop offset="0.219" stop-color="#d4d1ee"/><stop offset="0.250" stop-color="#d3d0ee"/><stop offset="0.281" stop-color="#d1ceee"/><stop offset="0.312" stop-color="#cfcbed"/><stop offset="0.344" stop-color="#cdc9ed"/><stop offset="0.375" stop-color="#cbc7ec"/><stop offset="0.406" stop-color="#c9c5ec"/><stop offset="0.438" stop-color="#c7c3ec"/><stop offset="0.469" stop-color="#c5c1eb"/><stop offset="0.500" stop-color="#c3bfeb"/><stop offset="0.531" stop-color="#c1bdeb"/><stop offset="0.562" stop-color="#bfbbea"/><stop offset="0.594" stop-color="#bdb9ea"/><stop offset="0.625" stop-color="#bbb7e9"/><stop offset="0.656" stop-color="#b9b5e9"/><stop offset="0.688" stop-color="#b7b3e9"/><stop offset="0.719" stop-color="#b5b1e8"/><stop offset="0.750" stop-color="#b2aee8"/><stop offset="0.781" stop-color="#b0ace7"/><stop offset="0.812" stop-color="#ada9e7"/><stop offset="0.844" stop-color="#aba7e7"/><stop offset="0.875" stop-color="#a8a4e6"/><stop offset="0.906" stop-color="#a6a1e6"/><stop offset="0.938" stop-color="#a39fe5"/><stop offset="0.969" stop-color="#a19ce5"/><stop offset="1.000" stop-color="#9e99e5"/></linearGradient><linearGradient id="g29" x1="0" y1="0" x2="0" y2="1"><stop offset="0.000" stop-color="#dcdaf0"/><stop offset="0.031" stop-color="#dbd9ef"/><stop offset="0.062" stop-color="#dad8ef"/><stop offset="0.094" stop-color="#d9d6ef"/><stop offset="0.125" stop-color="#d8d5ef"/><stop offset="0.156" stop-color="#d7d4ef"/><stop offset="0.188" stop-color="#d6d3ee"/><stop offset="0.219" stop-color="#d5d2ee"/><stop offset="0.250" stop-color="#d3d0ee"/><stop offset="0.281" stop-color="#d1ceee"/><stop offset="0.312" stop-color="#cfcced"/><stop offset="0.344" stop-color="#cecaed"/><stop offset="0.375" stop-color="#ccc8ed"/><stop offset="0.406" stop-color="#cac6ec"/><stop offset="0.438" stop-color="#c8c4ec"/><stop offset="0.469" stop-color="#c6c2ec"/><stop offset="0.500" stop-color="#c4c0eb"/><stop offset="0.531" stop-color="#c2beeb"/><stop offset="0.562" stop-color="#c0bcea"/><stop offset="0.594" stop-color="#bebaea"/><stop offset="0.625" stop-color="#bcb8ea"/><stop offset="0.656" stop-color="#bab6e9"/><stop offset="0.688" stop-color="#b8b4e9"/><stop offset="0.719" stop-color="#b6b2e8"/><stop offset="0.750" stop-color="#b4b0e8"/><stop offset="0.781" stop-color="#b2aee8"/><stop offset="0.812" stop-color="#b0abe7"/><stop offset="0.844" stop-color="#ada9e7"/><stop offset="0.875" stop-color="#aba6e7"/><stop offset="0.906" stop-color="#a8a4e6"/><stop offset="0.938" stop-color="#a6a1e6"/><stop offset="0.969" stop-color="#a39fe5"/><stop offset="1.000" stop-color="#a19ce5"/></linearGradient><linearGradient id="g30" x1="0" y1="0" x2="0" y2="1"><stop offset="0.000" stop-color="#dddbf0"/><stop offset="0.031" stop-color="#dcdaf0"/><stop offset="0.062" stop-color="#dbd8ef"/><stop offset="0.094" stop-color="#dad7ef"/><stop offset="0.125" stop-color="#d8d6ef"/><stop offset="0.156" stop-color="#d7d5ef"/><stop offset="0.188" stop-color="#d6d4ef"/><stop offset="0.219" stop-color="#d5d2ee"/><stop offset="0.250" stop-color="#d4d1ee"/><stop offset="0.281" stop-color="#d2cfee"/><stop offset="0.312" stop-color="#d0cdee"/><stop offset="0.344" stop-color="#cecbed"/><stop offset="0.375" stop-color="#ccc9ed"/><stop offset="0.406" stop-color="#cac7ec"/><stop offset="0.438" stop-color="#c9c5ec"/><stop offset="0.469" stop-color="#c7c3ec"/><stop offset="0.500" stop-color="#c5c1eb"/><stop offset="0.531" stop-color="#c3bfeb"/><stop offset="0.562" stop-color="#c1bdeb"/><stop offset="0.594" stop-color="#bfbbea"/><stop offset="0.625" stop-color="#bebaea"/><stop offset="0.656" stop-color="#bcb8ea"/><stop offset="0.688" stop-color="#bab6e9"/><stop offset="0.719" stop-color="#b8b4e9"/><stop offset="0.750" stop-color="#b6b2e8"/><stop offset="0.781" stop-color="#b4b0e8"/><stop offset="0.812" stop-color="#b2aee8"/><stop offset="0.844" stop-color="#afabe7"/><stop offset="0.875" stop-color="#ada9e7"/><stop offset="0.906" stop-color="#aba6e7"/><stop offset="0.938" stop-color="#a8a4e6"/><stop offset="0.969" stop-color="#a6a2e6"/><stop offset="1.000" stop-color="#a49fe5"/></linearGradient><linearGradient id="g31" x1="0" y1="0" x2="0" y2="1"><stop offset="0.000" stop-color="#dedcf0"/><stop offset="0.031" stop-color="#dcdaf0"/><stop offset="0.062" stop-color="#dbd9f0"/><stop offset="0.094" stop-color="#dad8ef"/><stop offset="0.125" stop-color="#d9d7ef"/><stop offset="0.156" stop-color="#d8d6ef"/><stop offset="0.188" stop-color="#d7d4ef"/><stop offset="0.219" stop-color="#d6d3ef"/><stop offset="0.250" stop-color="#d5d2ee"/><stop offset="0.281" stop-color="#d3d0ee"/><stop offset="0.312" stop-color="#d1ceee"/><stop offset="0.344" stop-color="#cfcced"/><stop offset="0.375" stop-color="#cdcaed"/><stop offset="0.406" stop-color="#cbc8ed"/><stop offset="0.438" stop-color="#cac6ec"/><stop offset="0.469" stop-color="#c8c4ec"/><stop offset="0.500" stop-color="#c6c2ec"/><stop offset="0.531" stop-color="#c4c0eb"/><stop offset="0.562" stop-color="#c2beeb"/><stop offset="0.594" stop-color="#c1bdeb"/><stop offset="0.625" stop-color="#bfbbea"/><stop offset="0.656" stop-color="#bdb9ea"/><stop offset="0.688" stop-color="#bbb7e9"/><stop offset="0.719" stop-color="#b9b5e9"/><stop offset="0.750" stop-color="#b8b4e9"/><stop offset="0.781" stop-color="#b6b2e8"/><stop offset="0.812" stop-color="#b4b0e8"/><stop offset="0.844" stop-color="#b2aee8"/><stop offset="0.875" stop-color="#b0abe7"/><stop offset="0.906" stop-color="#ada9e7"/><stop offset="0.938" stop-color="#aba7e7"/><stop offset="0.969" stop-color="#a9a4e6"/><stop offset="1.000" stop-color="#a6a2e6"/></linearGradient><linearGradient id="g32" x1="0" y1="0" x2="0" y2="1"><stop offset="0.000" stop-color="#dedcf0"/><stop offset="0.031" stop-color="#dddbf0"/><stop offset="0.062" stop-color="#dcdaf0"/><stop offset="0.094" stop-color="#dbd9ef"/><stop offset="0.125" stop-color="#dad7ef"/><stop offset="0.156" stop-color="#d9d6ef"/><stop offset="0.188" stop-color="#d8d5ef"/><stop offset="0.219" stop-color="#d7d4ef"/><stop offset="0.250" stop-color="#d5d3ee"/><stop offset="0.281" stop-color="#d4d1ee"/><stop offset="0.312" stop-color="#d2cfee"/><stop offset="0.344" stop-color="#d0cded"/><stop offset="0.375" stop-color="#cecbed"/><stop offset="0.406" stop-color="#ccc9ed"/><stop offset="0.438" stop-color="#cbc7ec"/><stop offset="0.469" stop-color="#c9c5ec"/><stop offset="0.500" stop-color="#c7c3ec"/><stop offset="0.531" stop-color="#c5c1eb"/><stop offset="0.562" stop-color="#c4c0eb"/><stop offset="0.594" stop-color="#c2beeb"/><stop offset="0.625" stop-color="#c0bcea"/><stop offset="0.656" stop-color="#bebaea"/><stop offset="0.688" stop-color="#bdb9ea"/><stop offset="0.719" stop-color="#bbb7e9"/><stop offset="0.750" stop-color="#b9b5e9"/><stop offset="0.781" stop-color="#b7b3e9"/><stop offset="0.812" stop-color="#b6b2e8"/><stop offset="0.844" stop-color="#b4b0e8"/><stop offset="0.875" stop-color="#b2aee8"/><stop offset="0.906" stop-color="#b0ace7"/><stop offset="0.938" stop-color="#aea9e7"/><stop offset="0.969" stop-color="#aba7e7"/><stop offset="1.000" stop-color="#a9a5e6"/></linearGradient><linearGradient id="g33" x1="0" y1="0" x2="0" y2="1"><stop offset="0.000" stop-color="#dfdcf0"/><stop offset="0.031" stop-color="#dedcf0"/><stop offset="0.062" stop-color="#dddbf0"/><stop offset="0.094" stop-color="#dcd9f0"/><stop offset="0.125" stop-color="#dad8ef"/><stop offset="0.156" stop-color="#d9d7ef"/><stop offset="0.188" stop-color="#d8d6ef"/><stop offset="0.219" stop-color="#d7d5ef"/><stop offset="0.250" stop-color="#d6d3ef"/><stop offset="0.281" stop-color="#d4d1ee"/><stop offset="0.312" stop-color="#d3d0ee"/><stop offset="0.344" stop-color="#d1ceee"/><stop offset="0.375" stop-color="#cfcced"/><stop offset="0.406" stop-color="#cdcaed"/><stop offset="0.438" stop-color="#ccc8ed"/><stop offset="0.469" stop-color="#cac6ec"/><stop offset="0.500" stop-color="#c8c4ec"/><stop offset="0.531" stop-color="#c6c2ec"/><stop offset="0.562" stop-color="#c5c1eb"/><stop offset="0.594" stop-color="#c3bfeb"/><stop offset="0.625" stop-color="#c1bdeb"/><stop offset="0.656" stop-color="#c0bcea"/><stop offset="0.688" stop-color="#bebaea"/><stop offset="0.719" stop-color="#bcb8ea"/><stop offset="0.750" stop-color="#bbb7e9"/><stop offset="0.781" stop-color="#b9b5e9"/><stop offset="0.812" stop-color="#b8b4e9"/><stop offset="0.844" stop-color="#b6b2e8"/><stop offset="0.875" stop-color="#b4b0e8"/><stop offset="0.906" stop-color="#b2aee8"/><stop offset="0.938" stop-color="#b0ace7"/><stop offset="0.969" stop-color="#aeaae7"/><stop offset="1.000" stop-color="#aca8e7"/></linearGradient><linearGradient id="g34" x1="0" y1="0" x2="0" y2="1"><stop offset="0.000" stop-color="#dfddf0"/><stop offset="0.031" stop-color="#dedcf0"/><stop offset="0.062" stop-color="#dddbf0"/><stop offset="0.094" stop-color="#dcdaf0"/><stop offset="0.125" stop-color="#dbd9ef"/><stop offset="0.156" stop-color="#dad8ef"/><stop offset="0.188" stop-color="#d9d6ef"/><stop offset="0.219" stop-color="#d8d5ef"/><stop offset="0.250" stop-color="#d7d4ef"/><stop offset="0.281" stop-color="#d5d2ee"/><stop offset="0.312" stop-color="#d3d0ee"/><stop offset="0.344" stop-color="#d2ceee"/><stop offset="0.375" stop-color="#d0cded"/><stop offset="0.406" stop-color="#cecbed"/><stop offset="0.438" stop-color="#cdc9ed"/><stop offset="0.469" stop-color="#cbc7ed"/><stop offset="0.500" stop-color="#c9c5ec"/><stop offset="0.531" stop-color="#c7c3ec"/><stop offset="0.562" stop-color="#c6c2ec"/><stop offset="0.594" stop-color="#c4c0eb"/><stop offset="0.625" stop-color="#c3bfeb"/><stop offset="0.656" stop-color="#c1bdeb"/><stop offset="0.688" stop-color="#c0bcea"/><stop offset="0.719" stop-color="#bebaea"/><stop offset="0.750" stop-color="#bcb8ea"/><stop offset="0.781" stop-color="#bbb7e9"/><stop offset="0.812" stop-color="#b9b5e9"/><stop offset="0.844" stop-color="#b8b4e9"/><stop offset="0.875" stop-color="#b6b2e8"/><stop offset="0.906" stop-color="#b5b1e8"/><stop offset="0.938" stop-color="#b3afe8"/><stop offset="0.969" stop-color="#b1ade7"/><stop offset="1.000" stop-color="#afabe7"/></linearGradient><linearGradient id="g35" x1="0" y1="0" x2="0" y2="1"><stop offset="0.000" stop-color="#dfddef"/><stop offset="0.031" stop-color="#dfdcf0"/><stop offset="0.062" stop-color="#dedcf0"/><stop offset="0.094" stop-color="#dddbf0"/><stop offset="0.125" stop-color="#dcdaf0"/><stop offset="0.156" stop-color="#dbd8ef"/><stop offset="0.188" stop-color="#dad7ef"/><stop offset="0.219" stop-color="#d8d6ef"/><stop offset="0.250" stop-color="#d7d5ef"/><stop offset="0.281" stop-color="#d6d3ee"/><stop offset="0.312" stop-color="#d4d1ee"/><stop offset="0.344" stop-color="#d2cfee"/><stop offset="0.375" stop-color="#d1ceee"/><stop offset="0.406" stop-color="#cfcced"/><stop offset="0.438" stop-color="#cecaed"/><stop offset="0.469" stop-color="#ccc8ed"/><stop offset="0.500" stop-color="#cac6ec"/><stop offset="0.531" stop-color="#c9c5ec"/><stop offset="0.562" stop-color="#c7c3ec"/><stop offset="0.594" stop-color="#c6c2ec"/><stop offset="0.625" stop-color="#c4c0eb"/><stop offset="0.656" stop-color="#c2beeb"/><stop offset="0.688" stop-color="#c1bdeb"/><stop offset="0.719" stop-color="#c0bcea"/><stop offset="0.750" stop-color="#bebaea"/><stop offset="0.781" stop-color="#bcb8ea"/><stop offset="0.812" stop-color="#bbb7e9"/><stop offset="0.844" stop-color="#bab6e9"/><stop offset="0.875" stop-color="#b8b4e9"/><stop offset="0.906" stop-color="#b6b2e8"/><stop offset="0.938" stop-color="#b5b1e8"/><stop offset="0.969" stop-color="#b3afe8"/><stop offset="1.000" stop-color="#b2ade8"/></linearGradient><linearGradient id="g36" x1="0" y1="0" x2="0" y2="1"><stop offset="0.000" stop-color="#e0ddef"/><stop offset="0.031" stop-color="#dfddef"/><stop offset="0.062" stop-color="#dfdcf0"/><stop offset="0.094" stop-color="#dedcf0"/><stop offset="0.125" stop-color="#dddbf0"/><stop offset="0.156" stop-color="#dcdaf0"/><stop offset="0.188" stop-color="#dbd8ef"/><stop offset="0.219" stop-color="#dad7ef"/><stop offset="0.250" stop-color="#d8d6ef"/><stop offset="0.281" stop-color="#d7d4ef"/><stop offset="0.312" stop-color="#d5d2ee"/><stop offset="0.344" stop-color="#d4d1ee"/><stop offset="0.375" stop-color="#d2cfee"/><stop offset="0.406" stop-color="#d0cdee"/><stop offset="0.438" stop-color="#cfcbed"/><stop offset="0.469" stop-color="#cdcaed"/><stop offset="0.500" stop-color="#ccc8ed"/><stop offset="0.531" stop-color="#cac6ec"/><stop offset="0.562" stop-color="#c8c4ec"/><stop offset="0.594" stop-color="#c7c3ec"/><stop offset="0.625" stop-color="#c5c1eb"/><stop offset="0.656" stop-color="#c4c0eb"/><stop offset="0.688" stop-color="#c2beeb"/><stop offset="0.719" stop-color="#c1bdeb"/><stop offset="0.750" stop-color="#c0bcea"/><stop offset="0.781" stop-color="#bebaea"/><stop offset="0.812" stop-color="#bdb9ea"/><stop offset="0.844" stop-color="#bbb7e9"/><stop offset="0.875" stop-color="#bab6e9"/><stop offset="0.906" stop-color="#b8b4e9"/><stop offset="0.938" stop-color="#b7b3e9"/><stop offset="0.969" stop-color="#b6b2e8"/><stop offset="1.000" stop-color="#b4b0e8"/></linearGradient><linearGradient id="g37" x1="0" y1="0" x2="0" y2="1"><stop offset="0.000" stop-color="#e0deef"/><stop offset="0.031" stop-color="#e0ddef"/><stop offset="0.062" stop-color="#dfddef"/><stop offset="0.094" stop-color="#dedcf0"/><stop offset="0.125" stop-color="#dedcf0"/><stop offset="0.156" stop-color="#dddbf0"/><stop offset="0.188" stop-color="#dcd9f0"/><stop offset="0.219" stop-color="#dbd8ef"/><stop offset="0.250" stop-color="#dad7ef"/><stop offset="0.281" stop-color="#d8d5ef"/><stop offset="0.312" stop-color="#d6d4ef"/><stop offset="0.344" stop-color="#d5d2ee"/><stop offset="0.375" stop-color="#d3d0ee"/><stop offset="0.406" stop-color="#d2ceee"/><stop offset="0.438" stop-color="#d0cded"/><stop offset="0.469" stop-color="#cecbed"/><stop offset="0.500" stop-color="#cdc9ed"/><stop offset="0.531" stop-color="#cbc8ed"/><stop offset="0.562" stop-color="#cac6ec"/><stop offset="0.594" stop-color="#c8c4ec"/><stop offset="0.625" stop-color="#c7c3ec"/><stop offset="0.656" stop-color="#c5c1eb"/><stop offset="0.688" stop-color="#c4c0eb"/><stop offset="0.719" stop-color="#c3bfeb"/><stop offset="0.750" stop-color="#c1bdeb"/><stop offset="0.781" stop-color="#c0bcea"/><stop offset="0.812" stop-color="#bebaea"/><stop offset="0.844" stop-color="#bdb9ea"/><stop offset="0.875" stop-color="#bcb8ea"/><stop offset="0.906" stop-color="#bab6e9"/><stop offset="0.938" stop-color="#b9b5e9"/><stop offset="0.969" stop-color="#b8b4e9"/><stop offset="1.000" stop-color="#b6b2e8"/></linearGradient><linearGradient id="g38" x1="0" y1="0" x2="0" y2="1"><stop offset="0.000" stop-color="#e1deee"/><stop offset="0.031" stop-color="#e0deef"/><stop offset="0.062" stop-color="#e0ddef"/><stop offset="0.094" stop-color="#dfddef"/><stop offset="0.125" stop-color="#dedcf0"/><stop offset="0.156" stop-color="#dedcf0"/><stop offset="0.188" stop-color="#dddbf0"/><stop offset="0.219" stop-color="#dcdaf0"/><stop offset="0.250" stop-color="#dbd8ef"/><stop offset="0.281" stop-color="#d9d7ef"/><stop offset="0.312" stop-color="#d8d5ef"/><stop offset="0.344" stop-color="#d6d3ef"/><stop offset="0.375" stop-color="#d4d2ee"/><stop offset="0.406" stop-color="#d3d0ee"/><stop offset="0.438" stop-color="#d1ceee"/><stop offset="0.469" stop-color="#d0cced"/><stop offset="0.500" stop-color="#cecbed"/><stop offset="0.531" stop-color="#cdc9ed"/><stop offset="0.562" stop-color="#cbc7ed"/><stop offset="0.594" stop-color="#cac6ec"/><stop offset="0.625" stop-color="#c8c4ec"/><stop offset="0.656" stop-color="#c7c3ec"/><stop offset="0.688" stop-color="#c6c2ec"/><stop offset="0.719" stop-color="#c4c0eb"/><stop offset="0.750" stop-color="#c3bfeb"/><stop offset="0.781" stop-color="#c2beeb"/><stop offset="0.812" stop-color="#c0bcea"/><stop offset="0.844" stop-color="#bfbbea"/><stop offset="0.875" stop-color="#bebaea"/><stop offset="0.906" stop-color="#bcb8ea"/><stop offset="0.938" stop-color="#bbb7e9"/><stop offset="0.969" stop-color="#bab6e9"/><stop offset="1.000" stop-color="#b9b5e9"/></linearGradient><linearGradient id="g39" x1="0" y1="0" x2="0" y2="1"><stop offset="0.000" stop-color="#e1dfee"/><stop offset="0.031" stop-color="#e1deee"/><stop offset="0.062" stop-color="#e0deef"/><stop offset="0.094" stop-color="#e0ddef"/><stop offset="0.125" stop-color="#dfddef"/><stop offset="0.156" stop-color="#dedcf0"/><stop offset="0.188" stop-color="#dedcf0"/><stop offset="0.219" stop-color="#dddbf0"/><stop offset="0.250" stop-color="#dcdaf0"/><stop offset="0.281" stop-color="#dad8ef"/><stop offset="0.312" stop-color="#d9d6ef"/><stop offset="0.344" stop-color="#d7d5ef"/><stop offset="0.375" stop-color="#d6d3ee"/><stop offset="0.406" stop-color="#d4d1ee"/><stop offset="0.438" stop-color="#d3d0ee"/><stop offset="0.469" stop-color="#d1ceee"/><stop offset="0.500" stop-color="#cfcced"/><stop offset="0.531" stop-color="#cecbed"/><stop offset="0.562" stop-color="#cdc9ed"/><stop offset="0.594" stop-color="#cbc7ed"/><stop offset="0.625" stop-color="#cac6ec"/><stop offset="0.656" stop-color="#c8c4ec"/><stop offset="0.688" stop-color="#c7c3ec"/><stop offset="0.719" stop-color="#c6c2ec"/><stop offset="0.750" stop-color="#c4c0eb"/><stop offset="0.781" stop-color="#c3bfeb"/><stop offset="0.812" stop-color="#c2beeb"/><stop offset="0.844" stop-color="#c1bdeb"/><stop offset="0.875" stop-color="#c0bcea"/><stop offset="0.906" stop-color="#bebaea"/><stop offset="0.938" stop-color="#bdb9ea"/><stop offset="0.969" stop-color="#bcb8ea"/><stop offset="1.000" stop-color="#bbb7e9"/></linearGradient><linearGradient id="g40" x1="0" y1="0" x2="0" y2="1"><stop offset="0.000" stop-color="#e2dfee"/><stop offset="0.031" stop-color="#e1dfee"/><stop offset="0.062" stop-color="#e1deef"/><stop offset="0.094" stop-color="#e0deef"/><stop offset="0.125" stop-color="#e0ddef"/><stop offset="0.156" stop-color="#dfddef"/><stop offset="0.188" stop-color="#dedcf0"/><stop offset="0.219" stop-color="#dedcf0"/><stop offset="0.250" stop-color="#dddbf0"/><stop offset="0.281" stop-color="#dbd9f0"/><stop offset="0.312" stop-color="#dad8ef"/><stop offset="0.344" stop-color="#d8d6ef"/><stop offset="0.375" stop-color="#d7d4ef"/><stop offset="0.406" stop-color="#d5d3ee"/><stop offset="0.438" stop-color="#d4d1ee"/><stop offset="0.469" stop-color="#d2cfee"/><stop offset="0.500" stop-color="#d1ceee"/><stop offset="0.531" stop-color="#cfcced"/><stop offset="0.562" stop-color="#cecbed"/><stop offset="0.594" stop-color="#cdc9ed"/><stop offset="0.625" stop-color="#cbc8ed"/><stop offset="0.656" stop-color="#cac6ec"/><stop offset="0.688" stop-color="#c9c5ec"/><stop offset="0.719" stop-color="#c7c3ec"/><stop offset="0.750" stop-color="#c6c2ec"/><stop offset="0.781" stop-color="#c5c1eb"/><stop offset="0.812" stop-color="#c4c0eb"/><stop offset="0.844" stop-color="#c3bfeb"/><stop offset="0.875" stop-color="#c2beeb"/><stop offset="0.906" stop-color="#c0bcea"/><stop offset="0.938" stop-color="#bfbbea"/><stop offset="0.969" stop-color="#bebaea"/><stop offset="1.000" stop-color="#bdb9ea"/></linearGradient><linearGradient id="g41" x1="0" y1="0" x2="0" y2="1"><stop offset="0.000" stop-color="#e2dfee"/><stop offset="0.031" stop-color="#e2dfee"/><stop offset="0.062" stop-color="#e1dfee"/><stop offset="0.094" stop-color="#e1deef"/><stop offset="0.125" stop-color="#e0deef"/><stop offset="0.156" stop-color="#e0ddef"/><stop offset="0.188" stop-color="#dfddef"/><stop offset="0.219" stop-color="#dfdcf0"/><stop offset="0.250" stop-color="#dedcf0"/><stop offset="0.281" stop-color="#dddaf0"/><stop offset="0.312" stop-color="#dbd9ef"/><stop offset="0.344" stop-color="#dad7ef"/><stop offset="0.375" stop-color="#d8d6ef"/><stop offset="0.406" stop-color="#d7d4ef"/><stop offset="0.438" stop-color="#d5d2ee"/><stop offset="0.469" stop-color="#d4d1ee"/><stop offset="0.500" stop-color="#d2cfee"/><stop offset="0.531" stop-color="#d1ceee"/><stop offset="0.562" stop-color="#cfcced"/><stop offset="0.594" stop-color="#cecbed"/><stop offset="0.625" stop-color="#cdc9ed"/><stop offset="0.656" stop-color="#ccc8ed"/><stop offset="0.688" stop-color="#cac6ec"/><stop offset="0.719" stop-color="#c9c5ec"/><stop offset="0.750" stop-color="#c8c4ec"/><stop offset="0.781" stop-color="#c7c3ec"/><stop offset="0.812" stop-color="#c6c2ec"/><stop offset="0.844" stop-color="#c4c0eb"/><stop offset="0.875" stop-color="#c3bfeb"/><stop offset="0.906" stop-color="#c2beeb"/><stop offset="0.938" stop-color="#c1bdeb"/><stop offset="0.969" stop-color="#c0bcea"/><stop offset="1.000" stop-color="#bfbbea"/></linearGradient><linearGradient id="g42" x1="0" y1="0" x2="0" y2="1"><stop offset="0.000" stop-color="#e3e0ed"/><stop offset="0.031" stop-color="#e2dfee"/><stop offset="0.062" stop-color="#e2dfee"/><stop offset="0.094" stop-color="#e1dfee"/><stop offset="0.125" stop-color="#e1deee"/><stop offset="0.156" stop-color="#e0deef"/><stop offset="0.188" stop-color="#e0ddef"/><stop offset="0.219" stop-color="#dfddef"/><stop offset="0.250" stop-color="#dfdcf0"/><stop offset="0.281" stop-color="#dedcf0"/><stop offset="0.312" stop-color="#dcdaf0"/><stop offset="0.344" stop-color="#dbd8ef"/><stop offset="0.375" stop-color="#d9d7ef"/><stop offset="0.406" stop-color="#d8d5ef"/><stop offset="0.438" stop-color="#d6d4ef"/><stop offset="0.469" stop-color="#d5d2ee"/><stop offset="0.500" stop-color="#d3d0ee"/><stop offset="0.531" stop-color="#d2cfee"/><stop offset="0.562" stop-color="#d1ceee"/><stop offset="0.594" stop-color="#d0cced"/><stop offset="0.625" stop-color="#cecbed"/><stop offset="0.656" stop-color="#cdcaed"/><stop offset="0.688" stop-color="#ccc8ed"/><stop offset="0.719" stop-color="#cbc7ec"/><stop offset="0.750" stop-color="#c9c5ec"/><stop offset="0.781" stop-color="#c8c4ec"/><stop offset="0.812" stop-color="#c7c3ec"/><stop offset="0.844" stop-color="#c6c2ec"/><stop offset="0.875" stop-color="#c5c1eb"/><stop offset="0.906" stop-color="#c4c0eb"/><stop offset="0.938" stop-color="#c3bfeb"/><stop offset="0.969" stop-color="#c2beeb"/><stop offset="1.000" stop-color="#c1bdeb"/></linearGradient><linearGradient id="g43" x1="0" y1="0" x2="0" y2="1"><stop offset="0.000" stop-color="#e3e0ed"/><stop offset="0.031" stop-color="#e3e0ed"/><stop offset="0.062" stop-color="#e2dfee"/><stop offset="0.094" stop-color="#e2dfee"/><stop offset="0.125" stop-color="#e1dfee"/><stop offset="0.156" stop-color="#e1deee"/><stop offset="0.188" stop-color="#e0deef"/><stop offset="0.219" stop-color="#e0ddef"/><stop offset="0.250" stop-color="#dfddef"/><stop offset="0.281" stop-color="#dedcf0"/><stop offset="0.312" stop-color="#dddbf0"/><stop offset="0.344" stop-color="#dcdaf0"/><stop offset="0.375" stop-color="#dad8ef"/><stop offset="0.406" stop-color="#d9d7ef"/><stop offset="0.438" stop-color="#d8d5ef"/><stop offset="0.469" stop-color="#d6d3ef"/><stop offset="0.500" stop-color="#d5d2ee"/><stop offset="0.531" stop-color="#d4d1ee"/><stop offset="0.562" stop-color="#d2cfee"/><stop offset="0.594" stop-color="#d1ceee"/><stop offset="0.625" stop-color="#d0cded"/><stop offset="0.656" stop-color="#cfcbed"/><stop offset="0.688" stop-color="#cecaed"/><stop offset="0.719" stop-color="#ccc9ed"/><stop offset="0.750" stop-color="#cbc7ed"/><stop offset="0.781" stop-color="#cac6ec"/><stop offset="0.812" stop-color="#c9c5ec"/><stop offset="0.844" stop-color="#c8c4ec"/><stop offset="0.875" stop-color="#c7c3ec"/><stop offset="0.906" stop-color="#c6c2ec"/><stop offset="0.938" stop-color="#c5c1eb"/><stop offset="0.969" stop-color="#c4c0eb"/><stop offset="1.000" stop-color="#c4c0eb"/></linearGradient><linearGradient id="g44" x1="0" y1="0" x2="0" y2="1"><stop offset="0.000" stop-color="#e4e1ed"/><stop offset="0.031" stop-color="#e3e0ed"/><stop offset="0.062" stop-color="#e3e0ed"/><stop offset="0.094" stop-color="#e2dfee"/><stop offset="0.125" stop-color="#e2dfee"/><stop offset="0.156" stop-color="#e1dfee"/><stop offset="0.188" stop-color="#e1deee"/><stop offset="0.219" stop-color="#e0deef"/><stop offset="0.250" stop-color="#e0deef"/><stop offset="0.281" stop-color="#dfddef"/><stop offset="0.312" stop-color="#dedcf0"/><stop offset="0.344" stop-color="#dddbf0"/><stop offset="0.375" stop-color="#dcd9f0"/><stop offset="0.406" stop-color="#dad8ef"/><stop offset="0.438" stop-color="#d9d6ef"/><stop offset="0.469" stop-color="#d7d5ef"/><stop offset="0.500" stop-color="#d6d3ef"/><stop offset="0.531" stop-color="#d5d2ee"/><stop offset="0.562" stop-color="#d4d1ee"/><stop offset="0.594" stop-color="#d3d0ee"/><stop offset="0.625" stop-color="#d1ceee"/><stop offset="0.656" stop-color="#d0cdee"/><stop offset="0.688" stop-color="#cfcced"/><stop offset="0.719" stop-color="#cecbed"/><stop offset="0.750" stop-color="#cdc9ed"/><stop offset="0.781" stop-color="#ccc8ed"/><stop offset="0.812" stop-color="#cbc7ed"/><stop offset="0.844" stop-color="#cac6ec"/><stop offset="0.875" stop-color="#c9c5ec"/><stop offset="0.906" stop-color="#c8c4ec"/><stop offset="0.938" stop-color="#c7c3ec"/><stop offset="0.969" stop-color="#c7c3ec"/><stop offset="1.000" stop-color="#c6c2ec"/></linearGradient><linearGradient id="g45" x1="0" y1="0" x2="0" y2="1"><stop offset="0.000" stop-color="#e4e1ec"/><stop offset="0.031" stop-color="#e4e1ed"/><stop offset="0.062" stop-color="#e4e0ed"/><stop offset="0.094" stop-color="#e3e0ed"/><stop offset="0.125" stop-color="#e3e0ee"/><stop offset="0.156" stop-color="#e2dfee"/><stop offset="0.188" stop-color="#e2dfee"/><stop offset="0.219" stop-color="#e1deee"/><stop offset="0.250" stop-color="#e1deef"/><stop offset="0.281" stop-color="#e0ddef"/><stop offset="0.312" stop-color="#dfddef"/><stop offset="0.344" stop-color="#dedcf0"/><stop offset="0.375" stop-color="#dddbf0"/><stop offset="0.406" stop-color="#dcd9f0"/><stop offset="0.438" stop-color="#dad8ef"/><stop offset="0.469" stop-color="#d9d6ef"/><stop offset="0.500" stop-color="#d7d5ef"/><stop offset="0.531" stop-color="#d6d4ef"/><stop offset="0.562" stop-color="#d5d2ee"/><stop offset="0.594" stop-color="#d4d1ee"/><stop offset="0.625" stop-color="#d3d0ee"/><stop offset="0.656" stop-color="#d2cfee"/><stop offset="0.688" stop-color="#d1ceee"/><stop offset="0.719" stop-color="#d0cced"/><stop offset="0.750" stop-color="#cfcbed"/><stop offset="0.781" stop-color="#cecaed"/><stop offset="0.812" stop-color="#cdc9ed"/><stop offset="0.844" stop-color="#ccc8ed"/><stop offset="0.875" stop-color="#cbc8ed"/><stop offset="0.906" stop-color="#cac7ec"/><stop offset="0.938" stop-color="#cac6ec"/><stop offset="0.969" stop-color="#c9c5ec"/><stop offset="1.000" stop-color="#c8c4ec"/></linearGradient><linearGradient id="g46" x1="0" y1="0" x2="0" y2="1"><stop offset="0.000" stop-color="#e5e1ec"/><stop offset="0.031" stop-color="#e4e1ec"/><stop offset="0.062" stop-color="#e4e1ed"/><stop offset="0.094" stop-color="#e4e0ed"/><stop offset="0.125" stop-color="#e3e0ed"/><stop offset="0.156" stop-color="#e3e0ed"/><stop offset="0.188" stop-color="#e2dfee"/><stop offset="0.219" stop-color="#e2dfee"/><stop offset="0.250" stop-color="#e1dfee"/><stop offset="0.281" stop-color="#e1deef"/><stop offset="0.312" stop-color="#e0ddef"/><stop offset="0.344" stop-color="#dfddef"/><stop offset="0.375" stop-color="#dedcf0"/><stop offset="0.406" stop-color="#dddbf0"/><stop offset="0.438" stop-color="#dcdaf0"/><stop offset="0.469" stop-color="#dbd8ef"/><stop offset="0.500" stop-color="#d9d7ef"/><stop offset="0.531" stop-color="#d8d6ef"/><stop offset="0.562" stop-color="#d7d5ef"/><stop offset="0.594" stop-color="#d6d4ef"/><stop offset="0.625" stop-color="#d5d3ee"/><stop offset="0.656" stop-color="#d4d1ee"/><stop offset="0.688" stop-color="#d3d0ee"/><stop offset="0.719" stop-color="#d2cfee"/><stop offset="0.750" stop-color="#d1ceee"/><stop offset="0.781" stop-color="#d0cdee"/><stop offset="0.812" stop-color="#d0cced"/><stop offset="0.844" stop-color="#cfcced"/><stop offset="0.875" stop-color="#cecbed"/><stop offset="0.906" stop-color="#cdcaed"/><stop offset="0.938" stop-color="#cdc9ed"/><stop offset="0.969" stop-color="#ccc8ed"/><stop offset="1.000" stop-color="#cbc7ed"/></linearGradient><linearGradient id="g47" x1="0" y1="0" x2="0" y2="1"><stop offset="0.000" stop-color="#e5e2ec"/><stop offset="0.031" stop-color="#e5e1ec"/><stop offset="0.062" stop-color="#e5e1ec"/><stop offset="0.094" stop-color="#e4e1ed"/><stop offset="0.125" stop-color="#e4e0ed"/><stop offset="0.156" stop-color="#e3e0ed"/><stop offset="0.188" stop-color="#e3e0ed"/><stop offset="0.219" stop-color="#e2dfee"/><stop offset="0.250" stop-color="#e2dfee"/><stop offset="0.281" stop-color="#e1dfee"/><stop offset="0.312" stop-color="#e1deef"/><stop offset="0.344" stop-color="#e0ddef"/><stop offset="0.375" stop-color="#dfddef"/><stop offset="0.406" stop-color="#dfdcf0"/><stop offset="0.438" stop-color="#dedcf0"/><stop offset="0.469" stop-color="#dddaf0"/><stop offset="0.500" stop-color="#dbd9f0"/><stop offset="0.531" stop-color="#dad8ef"/><stop offset="0.562" stop-color="#d9d7ef"/><stop offset="0.594" stop-color="#d9d6ef"/><stop offset="0.625" stop-color="#d8d5ef"/><stop offset="0.656" stop-color="#d7d4ef"/><stop offset="0.688" stop-color="#d6d3ee"/><stop offset="0.719" stop-color="#d5d2ee"/><stop offset="0.750" stop-color="#d4d1ee"/><stop offset="0.781" stop-color="#d3d0ee"/><stop offset="0.812" stop-color="#d2cfee"/><stop offset="0.844" stop-color="#d2cfee"/><stop offset="0.875" stop-color="#d1ceee"/><stop offset="0.906" stop-color="#d0cdee"/><stop offset="0.938" stop-color="#d0cced"/><stop offset="0.969" stop-color="#cfcced"/><stop offset="1.000" stop-color="#cecbed"/></linearGradient><linearGradient id="g48" x1="0" y1="0" x2="0" y2="1"><stop offset="0.000" stop-color="#e6e2ec"/><stop offset="0.031" stop-color="#e5e2ec"/><stop offset="0.062" stop-color="#e5e1ec"/><stop offset="0.094" stop-color="#e5e1ec"/><stop offset="0.125" stop-color="#e4e1ed"/><stop offset="0.156" stop-color="#e4e1ed"/><stop offset="0.188" stop-color="#e4e0ed"/><stop offset="0.219" stop-color="#e3e0ed"/><stop offset="0.250" stop-color="#e3e0ed"/><stop offset="0.281" stop-color="#e2dfee"/><stop offset="0.312" stop-color="#e1dfee"/><stop offset="0.344" stop-color="#e1deee"/><stop offset="0.375" stop-color="#e0deef"/><stop offset="0.406" stop-color="#e0ddef"/><stop offset="0.438" stop-color="#dfddf0"/><stop offset="0.469" stop-color="#dedcf0"/><stop offset="0.500" stop-color="#dddbf0"/><stop offset="0.531" stop-color="#dcdaf0"/><stop offset="0.562" stop-color="#dcd9f0"/><stop offset="0.594" stop-color="#dbd8ef"/><stop offset="0.625" stop-color="#dad8ef"/><stop offset="0.656" stop-color="#d9d7ef"/><stop offset="0.688" stop-color="#d8d6ef"/><stop offset="0.719" stop-color="#d7d5ef"/><stop offset="0.750" stop-color="#d7d4ef"/><stop offset="0.781" stop-color="#d6d3ef"/><stop offset="0.812" stop-color="#d5d2ee"/><stop offset="0.844" stop-color="#d5d2ee"/><stop offset="0.875" stop-color="#d4d1ee"/><stop offset="0.906" stop-color="#d3d0ee"/><stop offset="0.938" stop-color="#d3d0ee"/><stop offset="0.969" stop-color="#d2cfee"/><stop offset="1.000" stop-color="#d1ceee"/></linearGradient><linearGradient id="g49" x1="0" y1="0" x2="0" y2="1"><stop offset="0.000" stop-color="#e6e2ec"/><stop offset="0.031" stop-color="#e6e2ec"/><stop offset="0.062" stop-color="#e6e2ec"/><stop offset="0.094" stop-color="#e5e2ec"/><stop offset="0.125" stop-color="#e5e1ec"/><stop offset="0.156" stop-color="#e5e1ec"/><stop offset="0.188" stop-color="#e4e1ed"/><stop offset="0.219" stop-color="#e4e0ed"/><stop offset="0.250" stop-color="#e3e0ed"/><stop offset="0.281" stop-color="#e3e0ed"/><stop offset="0.312" stop-color="#e2dfee"/><stop offset="0.344" stop-color="#e2dfee"/><stop offset="0.375" stop-color="#e1deee"/><stop offset="0.406" stop-color="#e1deef"/><stop offset="0.438" stop-color="#e0deef"/><stop offset="0.469" stop-color="#dfddef"/><stop offset="0.500" stop-color="#dfddf0"/><stop offset="0.531" stop-color="#dedcf0"/><stop offset="0.562" stop-color="#dedcf0"/><stop offset="0.594" stop-color="#dddbf0"/><stop offset="0.625" stop-color="#dcdaf0"/><stop offset="0.656" stop-color="#dbd9f0"/><stop offset="0.688" stop-color="#dbd8ef"/><stop offset="0.719" stop-color="#dad8ef"/><stop offset="0.750" stop-color="#d9d7ef"/><stop offset="0.781" stop-color="#d9d6ef"/><stop offset="0.812" stop-color="#d8d5ef"/><stop offset="0.844" stop-color="#d7d5ef"/><stop offset="0.875" stop-color="#d7d4ef"/><stop offset="0.906" stop-color="#d6d3ef"/><stop offset="0.938" stop-color="#d6d3ee"/><stop offset="0.969" stop-color="#d5d2ee"/><stop offset="1.000" stop-color="#d4d1ee"/></linearGradient><linearGradient id="g50" x1="0" y1="0" x2="0" y2="1"><stop offset="0.000" stop-color="#e7e3eb"/><stop offset="0.031" stop-color="#e6e2eb"/><stop offset="0.062" stop-color="#e6e2ec"/><stop offset="0.094" stop-color="#e6e2ec"/><stop offset="0.125" stop-color="#e5e2ec"/><stop offset="0.156" stop-color="#e5e2ec"/><stop offset="0.188" stop-color="#e5e1ec"/><stop offset="0.219" stop-color="#e4e1ec"/><stop offset="0.250" stop-color="#e4e1ed"/><stop offset="0.281" stop-color="#e4e0ed"/><stop offset="0.312" stop-color="#e3e0ed"/><stop offset="0.344" stop-color="#e3e0ee"/><stop offset="0.375" stop-color="#e2dfee"/><stop offset="0.406" stop-color="#e2dfee"/><stop offset="0.438" stop-color="#e1deee"/><stop offset="0.469" stop-color="#e0deef"/><stop offset="0.500" stop-color="#e0deef"/><stop offset="0.531" stop-color="#e0ddef"/><stop offset="0.562" stop-color="#dfddef"/><stop offset="0.594" stop-color="#dfddf0"/><stop offset="0.625" stop-color="#dedcf0"/><stop offset="0.656" stop-color="#dedcf0"/><stop offset="0.688" stop-color="#dddbf0"/><stop offset="0.719" stop-color="#dcdaf0"/><stop offset="0.750" stop-color="#dcdaf0"/><stop offset="0.781" stop-color="#dbd9f0"/><stop offset="0.812" stop-color="#dbd8ef"/><stop offset="0.844" stop-color="#dad8ef"/><stop offset="0.875" stop-color="#dad7ef"/><stop offset="0.906" stop-color="#d9d7ef"/><stop offset="0.938" stop-color="#d8d6ef"/><stop offset="0.969" stop-color="#d8d5ef"/><stop offset="1.000" stop-color="#d7d5ef"/></linearGradient><linearGradient id="g51" x1="0" y1="0" x2="0" y2="1"><stop offset="0.000" stop-color="#e7e3eb"/><stop offset="0.031" stop-color="#e7e3eb"/><stop offset="0.062" stop-color="#e7e3eb"/><stop offset="0.094" stop-color="#e6e2ec"/><stop offset="0.125" stop-color="#e6e2ec"/><stop offset="0.156" stop-color="#e6e2ec"/><stop offset="0.188" stop-color="#e5e2ec"/><stop offset="0.219" stop-color="#e5e2ec"/><stop offset="0.250" stop-color="#e5e1ec"/><stop offset="0.281" stop-color="#e4e1ed"/><stop offset="0.312" stop-color="#e4e1ed"/><stop offset="0.344" stop-color="#e3e0ed"/><stop offset="0.375" stop-color="#e3e0ed"/><stop offset="0.406" stop-color="#e3dfee"/><stop offset="0.438" stop-color="#e2dfee"/><stop offset="0.469" stop-color="#e2dfee"/><stop offset="0.500" stop-color="#e1deee"/><stop offset="0.531" stop-color="#e1deef"/><stop offset="0.562" stop-color="#e0deef"/><stop offset="0.594" stop-color="#e0deef"/><stop offset="0.625" stop-color="#e0ddef"/><stop offset="0.656" stop-color="#dfddef"/><stop offset="0.688" stop-color="#dfddef"/><stop offset="0.719" stop-color="#dfdcf0"/><stop offset="0.750" stop-color="#dedcf0"/><stop offset="0.781" stop-color="#dedcf0"/><stop offset="0.812" stop-color="#dddbf0"/><stop offset="0.844" stop-color="#dddbf0"/><stop offset="0.875" stop-color="#dcdaf0"/><stop offset="0.906" stop-color="#dcdaf0"/><stop offset="0.938" stop-color="#dbd9f0"/><stop offset="0.969" stop-color="#dbd9ef"/><stop offset="1.000" stop-color="#dad8ef"/></linearGradient><linearGradient id="g52" x1="0" y1="0" x2="0" y2="1"><stop offset="0.000" stop-color="#e8e3eb"/><stop offset="0.031" stop-color="#e7e3eb"/><stop offset="0.062" stop-color="#e7e3eb"/><stop offset="0.094" stop-color="#e7e3eb"/><stop offset="0.125" stop-color="#e7e3eb"/><stop offset="0.156" stop-color="#e6e2eb"/><stop offset="0.188" stop-color="#e6e2ec"/><stop offset="0.219" stop-color="#e6e2ec"/><stop offset="0.250" stop-color="#e6e2ec"/><stop offset="0.281" stop-color="#e5e2ec"/><stop offset="0.312" stop-color="#e5e1ec"/><stop offset="0.344" stop-color="#e4e1ed"/><stop offset="0.375" stop-color="#e4e1ed"/><stop offset="0.406" stop-color="#e4e0ed"/><stop offset="0.438" stop-color="#e3e0ed"/><stop offset="0.469" stop-color="#e3e0ed"/><stop offset="0.500" stop-color="#e2dfee"/><stop offset="0.531" stop-color="#e2dfee"/><stop offset="0.562" stop-color="#e2dfee"/><stop offset="0.594" stop-color="#e1dfee"/><stop offset="0.625" stop-color="#e1deee"/><stop offset="0.656" stop-color="#e1deef"/><stop offset="0.688" stop-color="#e0deef"/><stop offset="0.719" stop-color="#e0deef"/><stop offset="0.750" stop-color="#e0ddef"/><stop offset="0.781" stop-color="#e0ddef"/><stop offset="0.812" stop-color="#dfddef"/><stop offset="0.844" stop-color="#dfddef"/><stop offset="0.875" stop-color="#dfddf0"/><stop offset="0.906" stop-color="#dfdcf0"/><stop offset="0.938" stop-color="#dedcf0"/><stop offset="0.969" stop-color="#dedcf0"/><stop offset="1.000" stop-color="#dedcf0"/></linearGradient><linearGradient id="g53" x1="0" y1="0" x2="0" y2="1"><stop offset="0.000" stop-color="#e8e4eb"/><stop offset="0.031" stop-color="#e8e4eb"/><stop offset="0.062" stop-color="#e8e3eb"/><stop offset="0.094" stop-color="#e7e3eb"/><stop offset="0.125" stop-color="#e7e3eb"/><stop offset="0.156" stop-color="#e7e3eb"/><stop offset="0.188" stop-color="#e7e3eb"/><stop offset="0.219" stop-color="#e7e3eb"/><stop offset="0.250" stop-color="#e6e2ec"/><stop offset="0.281" stop-color="#e6e2ec"/><stop offset="0.312" stop-color="#e6e2ec"/><stop offset="0.344" stop-color="#e5e2ec"/><stop offset="0.375" stop-color="#e5e1ec"/><stop offset="0.406" stop-color="#e5e1ec"/><stop offset="0.438" stop-color="#e4e1ed"/><stop offset="0.469" stop-color="#e4e0ed"/><stop offset="0.500" stop-color="#e3e0ed"/><stop offset="0.531" stop-color="#e3e0ed"/><stop offset="0.562" stop-color="#e3e0ed"/><stop offset="0.594" stop-color="#e3e0ed"/><stop offset="0.625" stop-color="#e2dfee"/><stop offset="0.656" stop-color="#e2dfee"/><stop offset="0.688" stop-color="#e2dfee"/><stop offset="0.719" stop-color="#e2dfee"/><stop offset="0.750" stop-color="#e1dfee"/><stop offset="0.781" stop-color="#e1deee"/><stop offset="0.812" stop-color="#e1deee"/><stop offset="0.844" stop-color="#e1deef"/><stop offset="0.875" stop-color="#e0deef"/><stop offset="0.906" stop-color="#e0deef"/><stop offset="0.938" stop-color="#e0deef"/><stop offset="0.969" stop-color="#e0ddef"/><stop offset="1.000" stop-color="#e0ddef"/></linearGradient><linearGradient id="g54" x1="0" y1="0" x2="0" y2="1"><stop offset="0.000" stop-color="#e9e4ea"/><stop offset="0.031" stop-color="#e8e4ea"/><stop offset="0.062" stop-color="#e8e4eb"/><stop offset="0.094" stop-color="#e8e4eb"/><stop offset="0.125" stop-color="#e8e4eb"/><stop offset="0.156" stop-color="#e8e3eb"/><stop offset="0.188" stop-color="#e7e3eb"/><stop offset="0.219" stop-color="#e7e3eb"/><stop offset="0.250" stop-color="#e7e3eb"/><stop offset="0.281" stop-color="#e7e3eb"/><stop offset="0.312" stop-color="#e6e2eb"/><stop offset="0.344" stop-color="#e6e2ec"/><stop offset="0.375" stop-color="#e6e2ec"/><stop offset="0.406" stop-color="#e6e2ec"/><stop offset="0.438" stop-color="#e5e2ec"/><stop offset="0.469" stop-color="#e5e1ec"/><stop offset="0.500" stop-color="#e5e1ec"/><stop offset="0.531" stop-color="#e4e1ed"/><stop offset="0.562" stop-color="#e4e1ed"/><stop offset="0.594" stop-color="#e4e1ed"/><stop offset="0.625" stop-color="#e4e0ed"/><stop offset="0.656" stop-color="#e4e0ed"/><stop offset="0.688" stop-color="#e3e0ed"/><stop offset="0.719" stop-color="#e3e0ed"/><stop offset="0.750" stop-color="#e3e0ed"/><stop offset="0.781" stop-color="#e3e0ed"/><stop offset="0.812" stop-color="#e3e0ee"/><stop offset="0.844" stop-color="#e2dfee"/><stop offset="0.875" stop-color="#e2dfee"/><stop offset="0.906" stop-color="#e2dfee"/><stop offset="0.938" stop-color="#e2dfee"/><stop offset="0.969" stop-color="#e2dfee"/><stop offset="1.000" stop-color="#e1dfee"/></linearGradient><linearGradient id="g55" x1="0" y1="0" x2="0" y2="1"><stop offset="0.000" stop-color="#e9e4ea"/><stop offset="0.031" stop-color="#e9e4ea"/><stop offset="0.062" stop-color="#e9e4ea"/><stop offset="0.094" stop-color="#e9e4ea"/><stop offset="0.125" stop-color="#e8e4ea"/><stop offset="0.156" stop-color="#e8e4ea"/><stop offset="0.188" stop-color="#e8e4eb"/><stop offset="0.219" stop-color="#e8e4eb"/><stop offset="0.250" stop-color="#e8e4eb"/><stop offset="0.281" stop-color="#e8e3eb"/><stop offset="0.312" stop-color="#e7e3eb"/><stop offset="0.344" stop-color="#e7e3eb"/><stop offset="0.375" stop-color="#e7e3eb"/><stop offset="0.406" stop-color="#e7e3eb"/><stop offset="0.438" stop-color="#e6e2ec"/><stop offset="0.469" stop-color="#e6e2ec"/><stop offset="0.500" stop-color="#e6e2ec"/><stop offset="0.531" stop-color="#e6e2ec"/><stop offset="0.562" stop-color="#e5e2ec"/><stop offset="0.594" stop-color="#e5e2ec"/><stop offset="0.625" stop-color="#e5e2ec"/><stop offset="0.656" stop-color="#e5e1ec"/><stop offset="0.688" stop-color="#e5e1ec"/><stop offset="0.719" stop-color="#e5e1ec"/><stop offset="0.750" stop-color="#e4e1ec"/><stop offset="0.781" stop-color="#e4e1ed"/><stop offset="0.812" stop-color="#e4e1ed"/><stop offset="0.844" stop-color="#e4e1ed"/><stop offset="0.875" stop-color="#e4e0ed"/><stop offset="0.906" stop-color="#e4e0ed"/><stop offset="0.938" stop-color="#e4e0ed"/><stop offset="0.969" stop-color="#e3e0ed"/><stop offset="1.000" stop-color="#e3e0ed"/></linearGradient><linearGradient id="g56" x1="0" y1="0" x2="0" y2="1"><stop offset="0.000" stop-color="#e9e5ea"/><stop offset="0.031" stop-color="#e9e5ea"/><stop offset="0.062" stop-color="#e9e5ea"/><stop offset="0.094" stop-color="#e9e4ea"/><stop offset="0.125" stop-color="#e9e4ea"/><stop offset="0.156" stop-color="#e9e4ea"/><stop offset="0.188" stop-color="#e9e4ea"/><stop offset="0.219" stop-color="#e9e4ea"/><stop offset="0.250" stop-color="#e8e4ea"/><stop offset="0.281" stop-color="#e8e4ea"/><stop offset="0.312" stop-color="#e8e4eb"/><stop offset="0.344" stop-color="#e8e4eb"/><stop offset="0.375" stop-color="#e8e3eb"/><stop offset="0.406" stop-color="#e8e3eb"/><stop offset="0.438" stop-color="#e7e3eb"/><stop offset="0.469" stop-color="#e7e3eb"/><stop offset="0.500" stop-color="#e7e3eb"/><stop offset="0.531" stop-color="#e7e3eb"/><stop offset="0.562" stop-color="#e7e3eb"/><stop offset="0.594" stop-color="#e7e3eb"/><stop offset="0.625" stop-color="#e6e2eb"/><stop offset="0.656" stop-color="#e6e2ec"/><stop offset="0.688" stop-color="#e6e2ec"/><stop offset="0.719" stop-color="#e6e2ec"/><stop offset="0.750" stop-color="#e6e2ec"/><stop offset="0.781" stop-color="#e6e2ec"/><stop offset="0.812" stop-color="#e6e2ec"/><stop offset="0.844" stop-color="#e6e2ec"/><stop offset="0.875" stop-color="#e5e2ec"/><stop offset="0.906" stop-color="#e5e2ec"/><stop offset="0.938" stop-color="#e5e2ec"/><stop offset="0.969" stop-color="#e5e1ec"/><stop offset="1.000" stop-color="#e5e1ec"/></linearGradient><linearGradient id="g57" x1="0" y1="0" x2="0" y2="1"><stop offset="0.000" stop-color="#eae5ea"/><stop offset="0.031" stop-color="#eae5ea"/><stop offset="0.062" stop-color="#eae5ea"/><stop offset="0.094" stop-color="#eae5ea"/><stop offset="0.125" stop-color="#e9e5ea"/><stop offset="0.156" stop-color="#e9e5ea"/><stop offset="0.188" stop-color="#e9e5ea"/><stop offset="0.219" stop-color="#e9e5ea"/><stop offset="0.250" stop-color="#e9e4ea"/><stop offset="0.281" stop-color="#e9e4ea"/><stop offset="0.312" stop-color="#e9e4ea"/><stop offset="0.344" stop-color="#e9e4ea"/><stop offset="0.375" stop-color="#e9e4ea"/><stop offset="0.406" stop-color="#e8e4ea"/><stop offset="0.438" stop-color="#e8e4ea"/><stop offset="0.469" stop-color="#e8e4ea"/><stop offset="0.500" stop-color="#e8e4eb"/><stop offset="0.531" stop-color="#e8e4eb"/><stop offset="0.562" stop-color="#e8e4eb"/><stop offset="0.594" stop-color="#e8e4eb"/><stop offset="0.625" stop-color="#e8e4eb"/><stop offset="0.656" stop-color="#e8e3eb"/><stop offset="0.688" stop-color="#e8e3eb"/><stop offset="0.719" stop-color="#e7e3eb"/><stop offset="0.750" stop-color="#e7e3eb"/><stop offset="0.781" stop-color="#e7e3eb"/><stop offset="0.812" stop-color="#e7e3eb"/><stop offset="0.844" stop-color="#e7e3eb"/><stop offset="0.875" stop-color="#e7e3eb"/><stop offset="0.906" stop-color="#e7e3eb"/><stop offset="0.938" stop-color="#e7e3eb"/><stop offset="0.969" stop-color="#e7e3eb"/><stop offset="1.000" stop-color="#e7e3eb"/></linearGradient><linearGradient id="g58" x1="0" y1="0" x2="0" y2="1"><stop offset="0.000" stop-color="#eae5e9"/><stop offset="0.031" stop-color="#eae5e9"/><stop offset="0.062" stop-color="#eae5e9"/><stop offset="0.094" stop-color="#eae5ea"/><stop offset="0.125" stop-color="#eae5ea"/><stop offset="0.156" stop-color="#eae5ea"/><stop offset="0.188" stop-color="#eae5ea"/><stop offset="0.219" stop-color="#eae5ea"/><stop offset="0.250" stop-color="#eae5ea"/><stop offset="0.281" stop-color="#eae5ea"/><stop offset="0.312" stop-color="#eae5ea"/><stop offset="0.344" stop-color="#eae5ea"/><stop offset="0.375" stop-color="#eae5ea"/><stop offset="0.406" stop-color="#e9e5ea"/><stop offset="0.438" stop-color="#e9e5ea"/><stop offset="0.469" stop-color="#e9e5ea"/><stop offset="0.500" stop-color="#e9e5ea"/><stop offset="0.531" stop-color="#e9e5ea"/><stop offset="0.562" stop-color="#e9e5ea"/><stop offset="0.594" stop-color="#e9e5ea"/><stop offset="0.625" stop-color="#e9e4ea"/><stop offset="0.656" stop-color="#e9e4ea"/><stop offset="0.688" stop-color="#e9e4ea"/><stop offset="0.719" stop-color="#e9e4ea"/><stop offset="0.750" stop-color="#e9e4ea"/><stop offset="0.781" stop-color="#e9e4ea"/><stop offset="0.812" stop-color="#e9e4ea"/><stop offset="0.844" stop-color="#e9e4ea"/><stop offset="0.875" stop-color="#e9e4ea"/><stop offset="0.906" stop-color="#e9e4ea"/><stop offset="0.938" stop-color="#e9e4ea"/><stop offset="0.969" stop-color="#e9e4ea"/><stop offset="1.000" stop-color="#e9e4ea"/></linearGradient><linearGradient id="g59" x1="0" y1="0" x2="0" y2="1"><stop offset="0.000" stop-color="#ebe6e9"/><stop offset="0.031" stop-color="#ebe6e9"/><stop offset="0.062" stop-color="#ebe6e9"/><stop offset="0.094" stop-color="#ebe6e9"/><stop offset="0.125" stop-color="#eae6e9"/><stop offset="0.156" stop-color="#eae6e9"/><stop offset="0.188" stop-color="#eae6e9"/><stop offset="0.219" stop-color="#eae6e9"/><stop offset="0.250" stop-color="#eae6e9"/><stop offset="0.281" stop-color="#eae6e9"/><stop offset="0.312" stop-color="#eae6e9"/><stop offset="0.344" stop-color="#eae6e9"/><stop offset="0.375" stop-color="#eae6e9"/><stop offset="0.406" stop-color="#eae6e9"/><stop offset="0.438" stop-color="#eae6e9"/><stop offset="0.469" stop-color="#eae6e9"/><stop offset="0.500" stop-color="#eae6e9"/><stop offset="0.531" stop-color="#eae6e9"/><stop offset="0.562" stop-color="#eae6e9"/><stop offset="0.594" stop-color="#eae6e9"/><stop offset="0.625" stop-color="#eae6e9"/><stop offset="0.656" stop-color="#eae5e9"/><stop offset="0.688" stop-color="#eae5e9"/><stop offset="0.719" stop-color="#eae5e9"/><stop offset="0.750" stop-color="#eae5e9"/><stop offset="0.781" stop-color="#eae5e9"/><stop offset="0.812" stop-color="#eae5e9"/><stop offset="0.844" stop-color="#eae5e9"/><stop offset="0.875" stop-color="#eae6e9"/><stop offset="0.906" stop-color="#eae6e9"/><stop offset="0.938" stop-color="#eae6e9"/><stop offset="0.969" stop-color="#eae6e9"/><stop offset="1.000" stop-color="#eae6e9"/></linearGradient><linearGradient id="g60" x1="0" y1="0" x2="0" y2="1"><stop offset="0.000" stop-color="#ebe6e9"/><stop offset="0.031" stop-color="#ebe6e9"/><stop offset="0.062" stop-color="#ebe6e9"/><stop offset="0.094" stop-color="#ebe6e9"/><stop offset="0.125" stop-color="#ebe6e9"/><stop offset="0.156" stop-color="#ebe6e9"/><stop offset="0.188" stop-color="#ebe6e9"/><stop offset="0.219" stop-color="#ebe6e9"/><stop offset="0.250" stop-color="#ebe6e9"/><stop offset="0.281" stop-color="#ebe6e9"/><stop offset="0.312" stop-color="#ebe6e9"/><stop offset="0.344" stop-color="#ebe6e9"/><stop offset="0.375" stop-color="#ebe6e8"/><stop offset="0.406" stop-color="#ebe6e8"/><stop offset="0.438" stop-color="#ebe5e8"/><stop offset="0.469" stop-color="#ebe5e8"/><stop offset="0.500" stop-color="#ebe5e8"/><stop offset="0.531" stop-color="#ebe5e8"/><stop offset="0.562" stop-color="#ebe5e8"/><stop offset="0.594" stop-color="#ebe5e8"/><stop offset="0.625" stop-color="#ebe5e8"/><stop offset="0.656" stop-color="#ebe5e8"/><stop offset="0.688" stop-color="#ebe5e8"/><stop offset="0.719" stop-color="#ebe5e8"/><stop offset="0.750" stop-color="#ebe5e8"/><stop offset="0.781" stop-color="#ebe5e8"/><stop offset="0.812" stop-color="#ebe5e7"/><stop offset="0.844" stop-color="#ebe5e7"/><stop offset="0.875" stop-color="#ebe5e7"/><stop offset="0.906" stop-color="#ebe5e7"/><stop offset="0.938" stop-color="#ebe5e7"/><stop offset="0.969" stop-color="#ebe5e7"/><stop offset="1.000" stop-color="#ebe4e6"/></linearGradient><linearGradient id="g61" x1="0" y1="0" x2="0" y2="1"><stop offset="0.000" stop-color="#ebe5e8"/><stop offset="0.031" stop-color="#ebe5e8"/><stop offset="0.062" stop-color="#ebe5e8"/><stop offset="0.094" stop-color="#ebe5e8"/><stop offset="0.125" stop-color="#ebe5e8"/><stop offset="0.156" stop-color="#ebe5e8"/><stop offset="0.188" stop-color="#ebe5e8"/><stop offset="0.219" stop-color="#ebe5e8"/><stop offset="0.250" stop-color="#ebe5e8"/><stop offset="0.281" stop-color="#ebe5e7"/><stop offset="0.312" stop-color="#ebe5e7"/><stop offset="0.344" stop-color="#ebe5e7"/><stop offset="0.375" stop-color="#ebe4e6"/><stop offset="0.406" stop-color="#ebe4e6"/><stop offset="0.438" stop-color="#ebe4e6"/><stop offset="0.469" stop-color="#ebe4e6"/><stop offset="0.500" stop-color="#ebe4e6"/><stop offset="0.531" stop-color="#ebe4e5"/><stop offset="0.562" stop-color="#ebe4e5"/><stop offset="0.594" stop-color="#ebe4e5"/><stop offset="0.625" stop-color="#ebe4e5"/><stop offset="0.656" stop-color="#ebe4e5"/><stop offset="0.688" stop-color="#ebe4e5"/><stop offset="0.719" stop-color="#ebe4e5"/><stop offset="0.750" stop-color="#ece3e5"/><stop offset="0.781" stop-color="#ece3e5"/><stop offset="0.812" stop-color="#ece3e4"/><stop offset="0.844" stop-color="#ece3e4"/><stop offset="0.875" stop-color="#ece3e4"/><stop offset="0.906" stop-color="#ece3e4"/><stop offset="0.938" stop-color="#ece3e3"/><stop offset="0.969" stop-color="#ece3e3"/><stop offset="1.000" stop-color="#ece2e3"/></linearGradient><linearGradient id="g62" x1="0" y1="0" x2="0" y2="1"><stop offset="0.000" stop-color="#ebe5e7"/><stop offset="0.031" stop-color="#ebe5e7"/><stop offset="0.062" stop-color="#ebe5e7"/><stop offset="0.094" stop-color="#ebe5e7"/><stop offset="0.125" stop-color="#ebe5e7"/><stop offset="0.156" stop-color="#ebe4e6"/><stop offset="0.188" stop-color="#ebe4e6"/><stop offset="0.219" stop-color="#ebe4e6"/><stop offset="0.250" stop-color="#ebe4e6"/><stop offset="0.281" stop-color="#ebe4e6"/><stop offset="0.312" stop-color="#ebe4e5"/><stop offset="0.344" stop-color="#ebe4e5"/><stop offset="0.375" stop-color="#ece3e5"/><stop offset="0.406" stop-color="#ece3e4"/><stop offset="0.438" stop-color="#ece3e4"/><stop offset="0.469" stop-color="#ece3e4"/><stop offset="0.500" stop-color="#ece3e3"/><stop offset="0.531" stop-color="#ece2e3"/><stop offset="0.562" stop-color="#ece2e3"/><stop offset="0.594" stop-color="#ece2e3"/><stop offset="0.625" stop-color="#ece2e2"/><stop offset="0.656" stop-color="#ece2e2"/><stop offset="0.688" stop-color="#ece2e2"/><stop offset="0.719" stop-color="#ece2e2"/><stop offset="0.750" stop-color="#ece2e2"/><stop offset="0.781" stop-color="#ece1e1"/><stop offset="0.812" stop-color="#ece1e1"/><stop offset="0.844" stop-color="#ece1e1"/><stop offset="0.875" stop-color="#ece1e1"/><stop offset="0.906" stop-color="#ece1e0"/><stop offset="0.938" stop-color="#ece1e0"/><stop offset="0.969" stop-color="#ece0e0"/><stop offset="1.000" stop-color="#ece0e0"/></linearGradient><linearGradient id="g63" x1="0" y1="0" x2="0" y2="1"><stop offset="0.000" stop-color="#ebe4e6"/><stop offset="0.031" stop-color="#ebe4e6"/><stop offset="0.062" stop-color="#ebe4e6"/><stop offset="0.094" stop-color="#ebe4e6"/><stop offset="0.125" stop-color="#ebe4e5"/><stop offset="0.156" stop-color="#ebe4e5"/><stop offset="0.188" stop-color="#ebe4e5"/><stop offset="0.219" stop-color="#ece3e5"/><stop offset="0.250" stop-color="#ece3e4"/><stop offset="0.281" stop-color="#ece3e4"/><stop offset="0.312" stop-color="#ece3e4"/><stop offset="0.344" stop-color="#ece3e3"/><stop offset="0.375" stop-color="#ece2e3"/><stop offset="0.406" stop-color="#ece2e2"/><stop offset="0.438" stop-color="#ece2e2"/><stop offset="0.469" stop-color="#ece1e1"/><stop offset="0.500" stop-color="#ece1e1"/><stop offset="0.531" stop-color="#ece1e1"/><stop offset="0.562" stop-color="#ece1e0"/><stop offset="0.594" stop-color="#ece1e0"/><stop offset="0.625" stop-color="#ece1e0"/><stop offset="0.656" stop-color="#ece0e0"/><stop offset="0.688" stop-color="#ece0df"/><stop offset="0.719" stop-color="#ece0df"/><stop offset="0.750" stop-color="#ece0df"/><stop offset="0.781" stop-color="#ece0de"/><stop offset="0.812" stop-color="#ecdfde"/><stop offset="0.844" stop-color="#ecdfde"/><stop offset="0.875" stop-color="#ecdfdd"/><stop offset="0.906" stop-color="#ecdfdd"/><stop offset="0.938" stop-color="#ecdfdd"/><stop offset="0.969" stop-color="#eddedc"/><stop offset="1.000" stop-color="#eddedc"/></linearGradient><linearGradient id="g64" x1="0" y1="0" x2="0" y2="1"><stop offset="0.000" stop-color="#ebe4e6"/><stop offset="0.031" stop-color="#ebe4e5"/><stop offset="0.062" stop-color="#ebe4e5"/><stop offset="0.094" stop-color="#ece3e5"/><stop offset="0.125" stop-color="#ece3e4"/><stop offset="0.156" stop-color="#ece3e4"/><stop offset="0.188" stop-color="#ece3e4"/><stop offset="0.219" stop-color="#ece3e3"/><stop offset="0.250" stop-color="#ece2e3"/><stop offset="0.281" stop-color="#ece2e2"/><stop offset="0.312" stop-color="#ece2e2"/><stop offset="0.344" stop-color="#ece1e1"/><stop offset="0.375" stop-color="#ece1e1"/><stop offset="0.406" stop-color="#ece1e0"/><stop offset="0.438" stop-color="#ece0e0"/><stop offset="0.469" stop-color="#ece0df"/><stop offset="0.500" stop-color="#ece0df"/><stop offset="0.531" stop-color="#ece0de"/><stop offset="0.562" stop-color="#ecdfde"/><stop offset="0.594" stop-color="#ecdfde"/><stop offset="0.625" stop-color="#ecdfdd"/><stop offset="0.656" stop-color="#ecdfdd"/><stop offset="0.688" stop-color="#ecdedc"/><stop offset="0.719" stop-color="#eddedc"/><stop offset="0.750" stop-color="#eddedc"/><stop offset="0.781" stop-color="#eddedb"/><stop offset="0.812" stop-color="#eddedb"/><stop offset="0.844" stop-color="#eddddb"/><stop offset="0.875" stop-color="#edddda"/><stop offset="0.906" stop-color="#edddda"/><stop offset="0.938" stop-color="#edddd9"/><stop offset="0.969" stop-color="#eddcd9"/><stop offset="1.000" stop-color="#eddcd8"/></linearGradient><linearGradient id="g65" x1="0" y1="0" x2="0" y2="1"><stop offset="0.000" stop-color="#ece3e5"/><stop offset="0.031" stop-color="#ece3e4"/><stop offset="0.062" stop-color="#ece3e4"/><stop offset="0.094" stop-color="#ece3e3"/><stop offset="0.125" stop-color="#ece2e3"/><stop offset="0.156" stop-color="#ece2e3"/><stop offset="0.188" stop-color="#ece2e2"/><stop offset="0.219" stop-color="#ece2e2"/><stop offset="0.250" stop-color="#ece2e2"/><stop offset="0.281" stop-color="#ece1e1"/><stop offset="0.312" stop-color="#ece1e0"/><stop offset="0.344" stop-color="#ece0e0"/><stop offset="0.375" stop-color="#ece0df"/><stop offset="0.406" stop-color="#ece0de"/><stop offset="0.438" stop-color="#ecdfde"/><stop offset="0.469" stop-color="#ecdfdd"/><stop offset="0.500" stop-color="#ecdedc"/><stop offset="0.531" stop-color="#eddedc"/><stop offset="0.562" stop-color="#eddedc"/><stop offset="0.594" stop-color="#eddedb"/><stop offset="0.625" stop-color="#eddddb"/><stop offset="0.656" stop-color="#edddda"/><stop offset="0.688" stop-color="#edddda"/><stop offset="0.719" stop-color="#edddd9"/><stop offset="0.750" stop-color="#eddcd9"/><stop offset="0.781" stop-color="#eddcd8"/><stop offset="0.812" stop-color="#eddcd8"/><stop offset="0.844" stop-color="#eddbd7"/><stop offset="0.875" stop-color="#eddbd7"/><stop offset="0.906" stop-color="#eddbd6"/><stop offset="0.938" stop-color="#eddbd6"/><stop offset="0.969" stop-color="#eddad5"/><stop offset="1.000" stop-color="#eddad5"/></linearGradient><linearGradient id="g66" x1="0" y1="0" x2="0" y2="1"><stop offset="0.000" stop-color="#ece3e4"/><stop offset="0.031" stop-color="#ece3e3"/><stop offset="0.062" stop-color="#ece2e3"/><stop offset="0.094" stop-color="#ece2e2"/><stop offset="0.125" stop-color="#ece2e2"/><stop offset="0.156" stop-color="#ece1e1"/><stop offset="0.188" stop-color="#ece1e1"/><stop offset="0.219" stop-color="#ece1e0"/><stop offset="0.250" stop-color="#ece1e0"/><stop offset="0.281" stop-color="#ece0df"/><stop offset="0.312" stop-color="#ece0df"/><stop offset="0.344" stop-color="#ecdfde"/><stop offset="0.375" stop-color="#ecdfdd"/><stop offset="0.406" stop-color="#eddedc"/><stop offset="0.438" stop-color="#eddedc"/><stop offset="0.469" stop-color="#eddedb"/><stop offset="0.500" stop-color="#edddda"/><stop offset="0.531" stop-color="#edddda"/><stop offset="0.562" stop-color="#eddcd9"/><stop offset="0.594" stop-color="#eddcd9"/><stop offset="0.625" stop-color="#eddcd8"/><stop offset="0.656" stop-color="#eddbd7"/><stop offset="0.688" stop-color="#eddbd7"/><stop offset="0.719" stop-color="#eddbd6"/><stop offset="0.750" stop-color="#eddad6"/><stop offset="0.781" stop-color="#eddad5"/><stop offset="0.812" stop-color="#eddad5"/><stop offset="0.844" stop-color="#eed9d4"/><stop offset="0.875" stop-color="#eed9d4"/><stop offset="0.906" stop-color="#eed9d3"/><stop offset="0.938" stop-color="#eed9d3"/><stop offset="0.969" stop-color="#eed8d2"/><stop offset="1.000" stop-color="#eed8d2"/></linearGradient><linearGradient id="g67" x1="0" y1="0" x2="0" y2="1"><stop offset="0.000" stop-color="#ece2e3"/><stop offset="0.031" stop-color="#ece2e2"/><stop offset="0.062" stop-color="#ece2e2"/><stop offset="0.094" stop-color="#ece1e1"/><stop offset="0.125" stop-color="#ece1e1"/><stop offset="0.156" stop-color="#ece1e0"/><stop offset="0.188" stop-color="#ece0e0"/><stop offset="0.219" stop-color="#ece0df"/><stop offset="0.250" stop-color="#ece0de"/><stop offset="0.281" stop-color="#ecdfde"/><stop offset="0.312" stop-color="#ecdfdd"/><stop offset="0.344" stop-color="#eddedc"/><stop offset="0.375" stop-color="#eddedb"/><stop offset="0.406" stop-color="#edddda"/><stop offset="0.438" stop-color="#edddda"/><stop offset="0.469" stop-color="#eddcd9"/><stop offset="0.500" stop-color="#eddcd8"/><stop offset="0.531" stop-color="#eddbd7"/><stop offset="0.562" stop-color="#eddbd7"/><stop offset="0.594" stop-color="#eddbd6"/><stop offset="0.625" stop-color="#eddad5"/><stop offset="0.656" stop-color="#eddad5"/><stop offset="0.688" stop-color="#eed9d4"/><stop offset="0.719" stop-color="#eed9d3"/><stop offset="0.750" stop-color="#eed9d3"/><stop offset="0.781" stop-color="#eed8d2"/><stop offset="0.812" stop-color="#eed8d2"/><stop offset="0.844" stop-color="#eed8d1"/><stop offset="0.875" stop-color="#eed7d0"/><stop offset="0.906" stop-color="#eed7d0"/><stop offset="0.938" stop-color="#eed6cf"/><stop offset="0.969" stop-color="#eed6ce"/><stop offset="1.000" stop-color="#eed5ce"/></linearGradient><linearGradient id="g68" x1="0" y1="0" x2="0" y2="1"><stop offset="0.000" stop-color="#ece2e2"/><stop offset="0.031" stop-color="#ece1e1"/><stop offset="0.062" stop-color="#ece1e1"/><stop offset="0.094" stop-color="#ece1e0"/><stop offset="0.125" stop-color="#ece0e0"/><stop offset="0.156" stop-color="#ece0df"/><stop offset="0.188" stop-color="#ece0de"/><stop offset="0.219" stop-color="#ecdfde"/><stop offset="0.250" stop-color="#ecdfdd"/><stop offset="0.281" stop-color="#eddedc"/><stop offset="0.312" stop-color="#eddedb"/><stop offset="0.344" stop-color="#edddda"/><stop offset="0.375" stop-color="#edddd9"/><stop offset="0.406" stop-color="#eddcd8"/><stop offset="0.438" stop-color="#eddcd8"/><stop offset="0.469" stop-color="#eddbd7"/><stop offset="0.500" stop-color="#eddad6"/><stop offset="0.531" stop-color="#eddad5"/><stop offset="0.562" stop-color="#eddad4"/><stop offset="0.594" stop-color="#eed9d4"/><stop offset="0.625" stop-color="#eed9d3"/><stop offset="0.656" stop-color="#eed8d2"/><stop offset="0.688" stop-color="#eed8d1"/><stop offset="0.719" stop-color="#eed7d0"/><stop offset="0.750" stop-color="#eed7d0"/><stop offset="0.781" stop-color="#eed6cf"/><stop offset="0.812" stop-color="#eed5ce"/><stop offset="0.844" stop-color="#eed5cd"/><stop offset="0.875" stop-color="#eed4cd"/><stop offset="0.906" stop-color="#eed3cc"/><stop offset="0.938" stop-color="#eed3cb"/><stop offset="0.969" stop-color="#eed2ca"/><stop offset="1.000" stop-color="#eed2c9"/></linearGradient><linearGradient id="g69" x1="0" y1="0" x2="0" y2="1"><stop offset="0.000" stop-color="#ece1e1"/><stop offset="0.031" stop-color="#ece1e0"/><stop offset="0.062" stop-color="#ece0e0"/><stop offset="0.094" stop-color="#ece0df"/><stop offset="0.125" stop-color="#ece0de"/><stop offset="0.156" stop-color="#ecdfde"/><stop offset="0.188" stop-color="#ecdfdd"/><stop offset="0.219" stop-color="#eddedc"/><stop offset="0.250" stop-color="#eddedc"/><stop offset="0.281" stop-color="#edddda"/><stop offset="0.312" stop-color="#edddda"/><stop offset="0.344" stop-color="#eddcd8"/><stop offset="0.375" stop-color="#eddcd8"/><stop offset="0.406" stop-color="#eddbd6"/><stop offset="0.438" stop-color="#eddad6"/><stop offset="0.469" stop-color="#eddad4"/><stop offset="0.500" stop-color="#eed9d4"/><stop offset="0.531" stop-color="#eed9d3"/><stop offset="0.562" stop-color="#eed8d2"/><stop offset="0.594" stop-color="#eed8d1"/><stop offset="0.625" stop-color="#eed7d0"/><stop offset="0.656" stop-color="#eed6cf"/><stop offset="0.688" stop-color="#eed5ce"/><stop offset="0.719" stop-color="#eed5cd"/><stop offset="0.750" stop-color="#eed4cc"/><stop offset="0.781" stop-color="#eed3cb"/><stop offset="0.812" stop-color="#eed2ca"/><stop offset="0.844" stop-color="#eed2ca"/><stop offset="0.875" stop-color="#eed1c9"/><stop offset="0.906" stop-color="#efd0c8"/><stop offset="0.938" stop-color="#efcfc7"/><stop offset="0.969" stop-color="#efcfc6"/><stop offset="1.000" stop-color="#efcec5"/></linearGradient><linearGradient id="g70" x1="0" y1="0" x2="0" y2="1"><stop offset="0.000" stop-color="#ece1e0"/><stop offset="0.031" stop-color="#ece0df"/><stop offset="0.062" stop-color="#ece0df"/><stop offset="0.094" stop-color="#ecdfde"/><stop offset="0.125" stop-color="#ecdfdd"/><stop offset="0.156" stop-color="#eddedc"/><stop offset="0.188" stop-color="#eddedc"/><stop offset="0.219" stop-color="#eddddb"/><stop offset="0.250" stop-color="#edddda"/><stop offset="0.281" stop-color="#eddcd9"/><stop offset="0.312" stop-color="#eddcd8"/><stop offset="0.344" stop-color="#eddbd7"/><stop offset="0.375" stop-color="#eddad6"/><stop offset="0.406" stop-color="#eddad5"/><stop offset="0.438" stop-color="#eed9d3"/><stop offset="0.469" stop-color="#eed8d2"/><stop offset="0.500" stop-color="#eed8d1"/><stop offset="0.531" stop-color="#eed7d0"/><stop offset="0.562" stop-color="#eed6cf"/><stop offset="0.594" stop-color="#eed5ce"/><stop offset="0.625" stop-color="#eed4cd"/><stop offset="0.656" stop-color="#eed4cc"/><stop offset="0.688" stop-color="#eed3cb"/><stop offset="0.719" stop-color="#eed2ca"/><stop offset="0.750" stop-color="#eed1c8"/><stop offset="0.781" stop-color="#efd0c8"/><stop offset="0.812" stop-color="#efcfc7"/><stop offset="0.844" stop-color="#efcec6"/><stop offset="0.875" stop-color="#efcec5"/><stop offset="0.906" stop-color="#efcdc4"/><stop offset="0.938" stop-color="#efccc3"/><stop offset="0.969" stop-color="#efcbc2"/><stop offset="1.000" stop-color="#efcac1"/></linearGradient><linearGradient id="g71" x1="0" y1="0" x2="0" y2="1"><stop offset="0.000" stop-color="#ece0df"/><stop offset="0.031" stop-color="#ece0df"/><stop offset="0.062" stop-color="#ecdfde"/><stop offset="0.094" stop-color="#ecdfdd"/><stop offset="0.125" stop-color="#eddedc"/><stop offset="0.156" stop-color="#eddedb"/><stop offset="0.188" stop-color="#edddda"/><stop offset="0.219" stop-color="#edddda"/><stop offset="0.250" stop-color="#eddcd9"/><stop offset="0.281" stop-color="#eddcd8"/><stop offset="0.312" stop-color="#eddbd6"/><stop offset="0.344" stop-color="#eddad5"/><stop offset="0.375" stop-color="#eed9d4"/><stop offset="0.406" stop-color="#eed9d3"/><stop offset="0.438" stop-color="#eed8d2"/><stop offset="0.469" stop-color="#eed7d1"/><stop offset="0.500" stop-color="#eed6cf"/><stop offset="0.531" stop-color="#eed5ce"/><stop offset="0.562" stop-color="#eed4cd"/><stop offset="0.594" stop-color="#eed3cc"/><stop offset="0.625" stop-color="#eed2ca"/><stop offset="0.656" stop-color="#eed1c9"/><stop offset="0.688" stop-color="#efd0c8"/><stop offset="0.719" stop-color="#efcfc7"/><stop offset="0.750" stop-color="#efcec6"/><stop offset="0.781" stop-color="#efcec5"/><stop offset="0.812" stop-color="#efcdc4"/><stop offset="0.844" stop-color="#efccc3"/><stop offset="0.875" stop-color="#efcbc2"/><stop offset="0.906" stop-color="#efcac0"/><stop offset="0.938" stop-color="#efc9bf"/><stop offset="0.969" stop-color="#efc8be"/><stop offset="1.000" stop-color="#efc8bd"/></linearGradient><linearGradient id="g72" x1="0" y1="0" x2="0" y2="1"><stop offset="0.000" stop-color="#ece0de"/><stop offset="0.031" stop-color="#ecdfde"/><stop offset="0.062" stop-color="#ecdfdd"/><stop offset="0.094" stop-color="#eddedc"/><stop offset="0.125" stop-color="#eddedb"/><stop offset="0.156" stop-color="#edddda"/><stop offset="0.188" stop-color="#edddd9"/><stop offset="0.219" stop-color="#eddcd8"/><stop offset="0.250" stop-color="#eddcd8"/><stop offset="0.281" stop-color="#eddbd6"/><stop offset="0.312" stop-color="#eddad5"/><stop offset="0.344" stop-color="#eed9d4"/><stop offset="0.375" stop-color="#eed8d2"/><stop offset="0.406" stop-color="#eed8d1"/><stop offset="0.438" stop-color="#eed7d0"/><stop offset="0.469" stop-color="#eed6ce"/><stop offset="0.500" stop-color="#eed4cd"/><stop offset="0.531" stop-color="#eed3cc"/><stop offset="0.562" stop-color="#eed2ca"/><stop offset="0.594" stop-color="#eed1c9"/><stop offset="0.625" stop-color="#efd0c8"/><stop offset="0.656" stop-color="#efcfc7"/><stop offset="0.688" stop-color="#efcec5"/><stop offset="0.719" stop-color="#efcdc4"/><stop offset="0.750" stop-color="#efccc3"/><stop offset="0.781" stop-color="#efcbc2"/><stop offset="0.812" stop-color="#efcac1"/><stop offset="0.844" stop-color="#efc9bf"/><stop offset="0.875" stop-color="#efc8be"/><stop offset="0.906" stop-color="#efc7bd"/><stop offset="0.938" stop-color="#efc6bc"/><stop offset="0.969" stop-color="#efc5bb"/><stop offset="1.000" stop-color="#efc4ba"/></linearGradient><linearGradient id="g73" x1="0" y1="0" x2="0" y2="1"><stop offset="0.000" stop-color="#ecdfde"/><stop offset="0.031" stop-color="#ecdfdd"/><stop offset="0.062" stop-color="#eddedc"/><stop offset="0.094" stop-color="#eddedb"/><stop offset="0.125" stop-color="#edddda"/><stop offset="0.156" stop-color="#eddcd9"/><stop offset="0.188" stop-color="#eddcd8"/><stop offset="0.219" stop-color="#eddbd7"/><stop offset="0.250" stop-color="#eddbd6"/><stop offset="0.281" stop-color="#eddad5"/><stop offset="0.312" stop-color="#eed9d4"/><stop offset="0.344" stop-color="#eed8d2"/><stop offset="0.375" stop-color="#eed8d1"/><stop offset="0.406" stop-color="#eed7d0"/><stop offset="0.438" stop-color="#eed5ce"/><stop offset="0.469" stop-color="#eed4cc"/><stop offset="0.500" stop-color="#eed3cb"/><stop offset="0.531" stop-color="#eed2c9"/><stop offset="0.562" stop-color="#efd0c8"/><stop offset="0.594" stop-color="#efcfc7"/><stop offset="0.625" stop-color="#efcec5"/><stop offset="0.656" stop-color="#efcdc4"/><stop offset="0.688" stop-color="#efccc3"/><stop offset="0.719" stop-color="#efcbc1"/><stop offset="0.750" stop-color="#efcac0"/><stop offset="0.781" stop-color="#efc9bf"/><stop offset="0.812" stop-color="#efc8be"/><stop offset="0.844" stop-color="#efc7bc"/><stop offset="0.875" stop-color="#efc6bb"/><stop offset="0.906" stop-color="#efc5ba"/><stop offset="0.938" stop-color="#f0c4b9"/><stop offset="0.969" stop-color="#f0c3b7"/><stop offset="1.000" stop-color="#f0c2b6"/></linearGradient><linearGradient id="g74" x1="0" y1="0" x2="0" y2="1"><stop offset="0.000" stop-color="#ecdfdd"/><stop offset="0.031" stop-color="#eddedc"/><stop offset="0.062" stop-color="#eddddb"/><stop offset="0.094" stop-color="#edddda"/><stop offset="0.125" stop-color="#eddcd9"/><stop offset="0.156" stop-color="#eddcd8"/><stop offset="0.188" stop-color="#eddbd7"/><stop offset="0.219" stop-color="#eddbd6"/><stop offset="0.250" stop-color="#eddad5"/><stop offset="0.281" stop-color="#eed9d4"/><stop offset="0.312" stop-color="#eed8d2"/><stop offset="0.344" stop-color="#eed7d1"/><stop offset="0.375" stop-color="#eed6cf"/><stop offset="0.406" stop-color="#eed5ce"/><stop offset="0.438" stop-color="#eed4cc"/><stop offset="0.469" stop-color="#eed2ca"/><stop offset="0.500" stop-color="#eed1c8"/><stop offset="0.531" stop-color="#efd0c7"/><stop offset="0.562" stop-color="#efcec6"/><stop offset="0.594" stop-color="#efcdc4"/><stop offset="0.625" stop-color="#efccc3"/><stop offset="0.656" stop-color="#efcbc1"/><stop offset="0.688" stop-color="#efcac0"/><stop offset="0.719" stop-color="#efc8bf"/><stop offset="0.750" stop-color="#efc7bd"/><stop offset="0.781" stop-color="#efc6bc"/><stop offset="0.812" stop-color="#efc5ba"/><stop offset="0.844" stop-color="#f0c4b9"/><stop offset="0.875" stop-color="#f0c3b8"/><stop offset="0.906" stop-color="#f0c2b7"/><stop offset="0.938" stop-color="#f0c1b5"/><stop offset="0.969" stop-color="#f0c0b4"/><stop offset="1.000" stop-color="#f0beb3"/></linearGradient><linearGradient id="g75" x1="0" y1="0" x2="0" y2="1"><stop offset="0.000" stop-color="#eddedc"/><stop offset="0.031" stop-color="#eddedb"/><stop offset="0.062" stop-color="#edddda"/><stop offset="0.094" stop-color="#eddcd9"/><stop offset="0.125" stop-color="#eddcd8"/><stop offset="0.156" stop-color="#eddbd7"/><stop offset="0.188" stop-color="#eddad6"/><stop offset="0.219" stop-color="#eddad5"/><stop offset="0.250" stop-color="#eed9d4"/><stop offset="0.281" stop-color="#eed8d2"/><stop offset="0.312" stop-color="#eed7d1"/><stop offset="0.344" stop-color="#eed6cf"/><stop offset="0.375" stop-color="#eed5cd"/><stop offset="0.406" stop-color="#eed3cc"/><stop offset="0.438" stop-color="#eed2ca"/><stop offset="0.469" stop-color="#efd0c8"/><stop offset="0.500" stop-color="#efcfc6"/><stop offset="0.531" stop-color="#efcec5"/><stop offset="0.562" stop-color="#efccc3"/><stop offset="0.594" stop-color="#efcbc2"/><stop offset="0.625" stop-color="#efcac0"/><stop offset="0.656" stop-color="#efc9bf"/><stop offset="0.688" stop-color="#efc7bd"/><stop offset="0.719" stop-color="#efc6bc"/><stop offset="0.750" stop-color="#efc5ba"/><stop offset="0.781" stop-color="#f0c4b9"/><stop offset="0.812" stop-color="#f0c3b7"/><stop offset="0.844" stop-color="#f0c1b6"/><stop offset="0.875" stop-color="#f0c0b5"/><stop offset="0.906" stop-color="#f0bfb3"/><stop offset="0.938" stop-color="#f0beb2"/><stop offset="0.969" stop-color="#f0bdb0"/><stop offset="1.000" stop-color="#f0bcaf"/></linearGradient><linearGradient id="g76" x1="0" y1="0" x2="0" y2="1"><stop offset="0.000" stop-color="#eddedb"/><stop offset="0.031" stop-color="#edddda"/><stop offset="0.062" stop-color="#eddcd9"/><stop offset="0.094" stop-color="#eddcd8"/><stop offset="0.125" stop-color="#eddbd7"/><stop offset="0.156" stop-color="#eddad6"/><stop offset="0.188" stop-color="#eddad5"/><stop offset="0.219" stop-color="#eed9d4"/><stop offset="0.250" stop-color="#eed8d2"/><stop offset="0.281" stop-color="#eed8d1"/><stop offset="0.312" stop-color="#eed6cf"/><stop offset="0.344" stop-color="#eed5cd"/><stop offset="0.375" stop-color="#eed3cc"/><stop offset="0.406" stop-color="#eed2ca"/><stop offset="0.438" stop-color="#efd0c8"/><stop offset="0.469" stop-color="#efcfc6"/><stop offset="0.500" stop-color="#efcdc4"/><stop offset="0.531" stop-color="#efccc2"/><stop offset="0.562" stop-color="#efcac1"/><stop offset="0.594" stop-color="#efc9bf"/><stop offset="0.625" stop-color="#efc8be"/><stop offset="0.656" stop-color="#efc6bc"/><stop offset="0.688" stop-color="#efc5bb"/><stop offset="0.719" stop-color="#f0c4b9"/><stop offset="0.750" stop-color="#f0c2b7"/><stop offset="0.781" stop-color="#f0c1b6"/><stop offset="0.812" stop-color="#f0c0b4"/><stop offset="0.844" stop-color="#f0bfb3"/><stop offset="0.875" stop-color="#f0beb1"/><stop offset="0.906" stop-color="#f0bcb0"/><stop offset="0.938" stop-color="#efbbae"/><stop offset="0.969" stop-color="#efbaad"/><stop offset="1.000" stop-color="#efb8ab"/></linearGradient><linearGradient id="g77" x1="0" y1="0" x2="0" y2="1"><stop offset="0.000" stop-color="#edddda"/><stop offset="0.031" stop-color="#eddcd9"/><stop offset="0.062" stop-color="#eddcd8"/><stop offset="0.094" stop-color="#eddbd7"/><stop offset="0.125" stop-color="#eddad6"/><stop offset="0.156" stop-color="#eddad5"/><stop offset="0.188" stop-color="#eed9d3"/><stop offset="0.219" stop-color="#eed8d2"/><stop offset="0.250" stop-color="#eed8d1"/><stop offset="0.281" stop-color="#eed7d0"/><stop offset="0.312" stop-color="#eed5ce"/><stop offset="0.344" stop-color="#eed3cc"/><stop offset="0.375" stop-color="#eed2ca"/><stop offset="0.406" stop-color="#efd0c8"/><stop offset="0.438" stop-color="#efcec6"/><stop offset="0.469" stop-color="#efcdc4"/><stop offset="0.500" stop-color="#efcbc2"/><stop offset="0.531" stop-color="#efcac0"/><stop offset="0.562" stop-color="#efc8be"/><stop offset="0.594" stop-color="#efc7bd"/><stop offset="0.625" stop-color="#efc6bb"/><stop offset="0.656" stop-color="#f0c4ba"/><stop offset="0.688" stop-color="#f0c3b8"/><stop offset="0.719" stop-color="#f0c2b6"/><stop offset="0.750" stop-color="#f0c0b5"/><stop offset="0.781" stop-color="#f0bfb3"/><stop offset="0.812" stop-color="#f0bdb1"/><stop offset="0.844" stop-color="#f0bcb0"/><stop offset="0.875" stop-color="#efbbae"/><stop offset="0.906" stop-color="#efb9ad"/><stop offset="0.938" stop-color="#efb8ab"/><stop offset="0.969" stop-color="#efb7a9"/><stop offset="1.000" stop-color="#eeb6a8"/></linearGradient><linearGradient id="g78" x1="0" y1="0" x2="0" y2="1"><stop offset="0.000" stop-color="#edddd9"/><stop offset="0.031" stop-color="#eddcd8"/><stop offset="0.062" stop-color="#eddbd7"/><stop offset="0.094" stop-color="#eddad6"/><stop offset="0.125" stop-color="#eddad5"/><stop offset="0.156" stop-color="#eed9d3"/><stop offset="0.188" stop-color="#eed8d2"/><stop offset="0.219" stop-color="#eed8d1"/><stop offset="0.250" stop-color="#eed7d0"/><stop offset="0.281" stop-color="#eed5ce"/><stop offset="0.312" stop-color="#eed4cc"/><stop offset="0.344" stop-color="#eed2ca"/><stop offset="0.375" stop-color="#efd0c8"/><stop offset="0.406" stop-color="#efcec6"/><stop offset="0.438" stop-color="#efcdc4"/><stop offset="0.469" stop-color="#efcbc2"/><stop offset="0.500" stop-color="#efc9c0"/><stop offset="0.531" stop-color="#efc8be"/><stop offset="0.562" stop-color="#efc6bc"/><stop offset="0.594" stop-color="#efc5ba"/><stop offset="0.625" stop-color="#f0c4b9"/><stop offset="0.656" stop-color="#f0c2b7"/><stop offset="0.688" stop-color="#f0c1b5"/><stop offset="0.719" stop-color="#f0bfb3"/><stop offset="0.750" stop-color="#f0beb2"/><stop offset="0.781" stop-color="#f0bcb0"/><stop offset="0.812" stop-color="#efbbae"/><stop offset="0.844" stop-color="#efbaad"/><stop offset="0.875" stop-color="#efb8ab"/><stop offset="0.906" stop-color="#efb7a9"/><stop offset="0.938" stop-color="#eeb5a8"/><stop offset="0.969" stop-color="#eeb4a6"/><stop offset="1.000" stop-color="#eeb2a4"/></linearGradient><linearGradient id="g79" x1="0" y1="0" x2="0" y2="1"><stop offset="0.000" stop-color="#eddcd8"/><stop offset="0.031" stop-color="#eddbd7"/><stop offset="0.062" stop-color="#eddbd6"/><stop offset="0.094" stop-color="#eddad5"/><stop offset="0.125" stop-color="#eed9d4"/><stop offset="0.156" stop-color="#eed8d2"/><stop offset="0.188" stop-color="#eed8d1"/><stop offset="0.219" stop-color="#eed7d0"/><stop offset="0.250" stop-color="#eed6ce"/><stop offset="0.281" stop-color="#eed4cc"/><stop offset="0.312" stop-color="#eed2ca"/><stop offset="0.344" stop-color="#efd0c8"/><stop offset="0.375" stop-color="#efcfc6"/><stop offset="0.406" stop-color="#efcdc4"/><stop offset="0.438" stop-color="#efcbc2"/><stop offset="0.469" stop-color="#efc9bf"/><stop offset="0.500" stop-color="#efc7bd"/><stop offset="0.531" stop-color="#efc6bb"/><stop offset="0.562" stop-color="#efc4ba"/><stop offset="0.594" stop-color="#f0c3b8"/><stop offset="0.625" stop-color="#f0c1b6"/><stop offset="0.656" stop-color="#f0c0b4"/><stop offset="0.688" stop-color="#f0beb2"/><stop offset="0.719" stop-color="#f0bdb1"/><stop offset="0.750" stop-color="#efbbaf"/><stop offset="0.781" stop-color="#efbaad"/><stop offset="0.812" stop-color="#efb8ab"/><stop offset="0.844" stop-color="#efb7aa"/><stop offset="0.875" stop-color="#eeb5a8"/><stop offset="0.906" stop-color="#eeb4a6"/><stop offset="0.938" stop-color="#eeb2a4"/><stop offset="0.969" stop-color="#edb1a2"/><stop offset="1.000" stop-color="#edb0a1"/></linearGradient><linearGradient id="g80" x1="0" y1="0" x2="0" y2="1"><stop offset="0.000" stop-color="#eddcd8"/><stop offset="0.031" stop-color="#eddbd6"/><stop offset="0.062" stop-color="#eddad5"/><stop offset="0.094" stop-color="#eed9d4"/><stop offset="0.125" stop-color="#eed8d2"/><stop offset="0.156" stop-color="#eed8d1"/><stop offset="0.188" stop-color="#eed7d0"/><stop offset="0.219" stop-color="#eed6ce"/><stop offset="0.250" stop-color="#eed4cd"/><stop offset="0.281" stop-color="#eed3cb"/><stop offset="0.312" stop-color="#eed1c8"/><stop offset="0.344" stop-color="#efcfc6"/><stop offset="0.375" stop-color="#efcdc4"/><stop offset="0.406" stop-color="#efcbc2"/><stop offset="0.438" stop-color="#efc9c0"/><stop offset="0.469" stop-color="#efc7bd"/><stop offset="0.500" stop-color="#efc6bb"/><stop offset="0.531" stop-color="#f0c4b9"/><stop offset="0.562" stop-color="#f0c2b7"/><stop offset="0.594" stop-color="#f0c1b5"/><stop offset="0.625" stop-color="#f0bfb4"/><stop offset="0.656" stop-color="#f0beb2"/><stop offset="0.688" stop-color="#f0bcb0"/><stop offset="0.719" stop-color="#efbbae"/><stop offset="0.750" stop-color="#efb9ac"/><stop offset="0.781" stop-color="#efb7aa"/><stop offset="0.812" stop-color="#eeb6a8"/><stop offset="0.844" stop-color="#eeb4a6"/><stop offset="0.875" stop-color="#eeb3a4"/><stop offset="0.906" stop-color="#edb1a3"/><stop offset="0.938" stop-color="#edb0a1"/><stop offset="0.969" stop-color="#edae9f"/><stop offset="1.000" stop-color="#ecac9d"/></linearGradient><linearGradient id="g81" x1="0" y1="0" x2="0" y2="1"><stop offset="0.000" stop-color="#eddbd7"/><stop offset="0.031" stop-color="#eddad5"/><stop offset="0.062" stop-color="#eed9d4"/><stop offset="0.094" stop-color="#eed9d3"/><stop offset="0.125" stop-color="#eed8d2"/><stop offset="0.156" stop-color="#eed7d0"/><stop offset="0.188" stop-color="#eed6cf"/><stop offset="0.219" stop-color="#eed5cd"/><stop offset="0.250" stop-color="#eed3cc"/><stop offset="0.281" stop-color="#eed1c9"/><stop offset="0.312" stop-color="#efcfc7"/><stop offset="0.344" stop-color="#efcdc5"/><stop offset="0.375" stop-color="#efccc2"/><stop offset="0.406" stop-color="#efcac0"/><stop offset="0.438" stop-color="#efc8be"/><stop offset="0.469" stop-color="#efc6bb"/><stop offset="0.500" stop-color="#f0c4b9"/><stop offset="0.531" stop-color="#f0c2b7"/><stop offset="0.562" stop-color="#f0c0b5"/><stop offset="0.594" stop-color="#f0bfb3"/><stop offset="0.625" stop-color="#f0bdb1"/><stop offset="0.656" stop-color="#f0bcaf"/><stop offset="0.688" stop-color="#efbaad"/><stop offset="0.719" stop-color="#efb8ab"/><stop offset="0.750" stop-color="#efb7a9"/><stop offset="0.781" stop-color="#eeb5a7"/><stop offset="0.812" stop-color="#eeb4a5"/><stop offset="0.844" stop-color="#eeb2a4"/><stop offset="0.875" stop-color="#edb0a2"/><stop offset="0.906" stop-color="#edafa0"/><stop offset="0.938" stop-color="#edad9e"/><stop offset="0.969" stop-color="#ecac9c"/><stop offset="1.000" stop-color="#ecaa9a"/></linearGradient><linearGradient id="g82" x1="0" y1="0" x2="0" y2="1"><stop offset="0.000" stop-color="#eddbd6"/><stop offset="0.031" stop-color="#eddad5"/><stop offset="0.062" stop-color="#eed9d3"/><stop offset="0.094" stop-color="#eed8d2"/><stop offset="0.125" stop-color="#eed7d0"/><stop offset="0.156" stop-color="#eed6cf"/><stop offset="0.188" stop-color="#eed5cd"/><stop offset="0.219" stop-color="#eed3cc"/><stop offset="0.250" stop-color="#eed2ca"/><stop offset="0.281" stop-color="#efd0c8"/><stop offset="0.312" stop-color="#efcec5"/><stop offset="0.344" stop-color="#efccc3"/><stop offset="0.375" stop-color="#efcac0"/><stop offset="0.406" stop-color="#efc8be"/><stop offset="0.438" stop-color="#efc6bc"/><stop offset="0.469" stop-color="#f0c4b9"/><stop offset="0.500" stop-color="#f0c2b7"/><stop offset="0.531" stop-color="#f0c0b5"/><stop offset="0.562" stop-color="#f0bfb3"/><stop offset="0.594" stop-color="#f0bdb1"/><stop offset="0.625" stop-color="#efbbaf"/><stop offset="0.656" stop-color="#efbaad"/><stop offset="0.688" stop-color="#efb8ab"/><stop offset="0.719" stop-color="#eeb6a9"/><stop offset="0.750" stop-color="#eeb4a7"/><stop offset="0.781" stop-color="#eeb3a5"/><stop offset="0.812" stop-color="#edb1a3"/><stop offset="0.844" stop-color="#edb0a1"/><stop offset="0.875" stop-color="#edae9f"/><stop offset="0.906" stop-color="#ecac9d"/><stop offset="0.938" stop-color="#ecab9b"/><stop offset="0.969" stop-color="#eca999"/><stop offset="1.000" stop-color="#eca897"/></linearGradient><linearGradient id="g83" x1="0" y1="0" x2="0" y2="1"><stop offset="0.000" stop-color="#eddad5"/><stop offset="0.031" stop-color="#eed9d4"/><stop offset="0.062" stop-color="#eed8d2"/><stop offset="0.094" stop-color="#eed8d1"/><stop offset="0.125" stop-color="#eed6cf"/><stop offset="0.156" stop-color="#eed5ce"/><stop offset="0.188" stop-color="#eed4cc"/><stop offset="0.219" stop-color="#eed2ca"/><stop offset="0.250" stop-color="#eed1c8"/><stop offset="0.281" stop-color="#efcfc6"/><stop offset="0.312" stop-color="#efcdc4"/><stop offset="0.344" stop-color="#efcbc1"/><stop offset="0.375" stop-color="#efc8bf"/><stop offset="0.406" stop-color="#efc6bc"/><stop offset="0.438" stop-color="#efc4ba"/><stop offset="0.469" stop-color="#f0c2b7"/><stop offset="0.500" stop-color="#f0c0b5"/><stop offset="0.531" stop-color="#f0beb3"/><stop offset="0.562" stop-color="#f0bdb0"/><stop offset="0.594" stop-color="#efbbae"/><stop offset="0.625" stop-color="#efb9ac"/><stop offset="0.656" stop-color="#efb8aa"/><stop offset="0.688" stop-color="#eeb6a8"/><stop offset="0.719" stop-color="#eeb4a6"/><stop offset="0.750" stop-color="#eeb2a4"/><stop offset="0.781" stop-color="#edb1a2"/><stop offset="0.812" stop-color="#edafa0"/><stop offset="0.844" stop-color="#edad9e"/><stop offset="0.875" stop-color="#ecac9c"/><stop offset="0.906" stop-color="#ecaa9a"/><stop offset="0.938" stop-color="#eca898"/><stop offset="0.969" stop-color="#eba796"/><stop offset="1.000" stop-color="#eba594"/></linearGradient><linearGradient id="g84" x1="0" y1="0" x2="0" y2="1"><stop offset="0.000" stop-color="#eddad4"/><stop offset="0.031" stop-color="#eed9d3"/><stop offset="0.062" stop-color="#eed8d2"/><stop offset="0.094" stop-color="#eed7d0"/><stop offset="0.125" stop-color="#eed6ce"/><stop offset="0.156" stop-color="#eed4cc"/><stop offset="0.188" stop-color="#eed2cb"/><stop offset="0.219" stop-color="#eed1c9"/><stop offset="0.250" stop-color="#efd0c7"/><stop offset="0.281" stop-color="#efcdc4"/><stop offset="0.312" stop-color="#efcbc2"/><stop offset="0.344" stop-color="#efc9bf"/><stop offset="0.375" stop-color="#efc7bd"/><stop offset="0.406" stop-color="#efc5ba"/><stop offset="0.438" stop-color="#f0c3b8"/><stop offset="0.469" stop-color="#f0c1b5"/><stop offset="0.500" stop-color="#f0beb3"/><stop offset="0.531" stop-color="#f0bdb0"/><stop offset="0.562" stop-color="#efbbae"/><stop offset="0.594" stop-color="#efb9ac"/><stop offset="0.625" stop-color="#efb7aa"/><stop offset="0.656" stop-color="#eeb5a8"/><stop offset="0.688" stop-color="#eeb4a6"/><stop offset="0.719" stop-color="#eeb2a3"/><stop offset="0.750" stop-color="#edb0a1"/><stop offset="0.781" stop-color="#edae9f"/><stop offset="0.812" stop-color="#edad9d"/><stop offset="0.844" stop-color="#ecab9b"/><stop offset="0.875" stop-color="#eca999"/><stop offset="0.906" stop-color="#eca897"/><stop offset="0.938" stop-color="#eba695"/><stop offset="0.969" stop-color="#eba493"/><stop offset="1.000" stop-color="#eaa291"/></linearGradient><linearGradient id="g85" x1="0" y1="0" x2="0" y2="1"><stop offset="0.000" stop-color="#eed9d4"/><stop offset="0.031" stop-color="#eed8d2"/><stop offset="0.062" stop-color="#eed7d1"/><stop offset="0.094" stop-color="#eed6cf"/><stop offset="0.125" stop-color="#eed4cd"/><stop offset="0.156" stop-color="#eed3cb"/><stop offset="0.188" stop-color="#eed1c9"/><stop offset="0.219" stop-color="#efd0c7"/><stop offset="0.250" stop-color="#efcec6"/><stop offset="0.281" stop-color="#efccc3"/><stop offset="0.312" stop-color="#efcac0"/><stop offset="0.344" stop-color="#efc8be"/><stop offset="0.375" stop-color="#efc6bb"/><stop offset="0.406" stop-color="#f0c3b8"/><stop offset="0.438" stop-color="#f0c1b6"/><stop offset="0.469" stop-color="#f0bfb3"/><stop offset="0.500" stop-color="#f0bdb0"/><stop offset="0.531" stop-color="#efbbae"/><stop offset="0.562" stop-color="#efb9ac"/><stop offset="0.594" stop-color="#efb7aa"/><stop offset="0.625" stop-color="#eeb5a8"/><stop offset="0.656" stop-color="#eeb3a5"/><stop offset="0.688" stop-color="#eeb2a3"/><stop offset="0.719" stop-color="#edb0a1"/><stop offset="0.750" stop-color="#edae9e"/><stop offset="0.781" stop-color="#ecac9c"/><stop offset="0.812" stop-color="#ecaa9a"/><stop offset="0.844" stop-color="#eca998"/><stop offset="0.875" stop-color="#eba796"/><stop offset="0.906" stop-color="#eba594"/><stop offset="0.938" stop-color="#eba392"/><stop offset="0.969" stop-color="#eaa290"/><stop offset="1.000" stop-color="#eaa08e"/></linearGradient><linearGradient id="g86" x1="0" y1="0" x2="0" y2="1"><stop offset="0.000" stop-color="#eed9d3"/><stop offset="0.031" stop-color="#eed8d1"/><stop offset="0.062" stop-color="#eed7d0"/><stop offset="0.094" stop-color="#eed5ce"/><stop offset="0.125" stop-color="#eed4cc"/><stop offset="0.156" stop-color="#eed2ca"/><stop offset="0.188" stop-color="#efd0c8"/><stop offset="0.219" stop-color="#efcfc6"/><stop offset="0.250" stop-color="#efcdc4"/><stop offset="0.281" stop-color="#efcbc1"/><stop offset="0.312" stop-color="#efc8bf"/><stop offset="0.344" stop-color="#efc6bc"/><stop offset="0.375" stop-color="#f0c4b9"/><stop offset="0.406" stop-color="#f0c2b6"/><stop offset="0.438" stop-color="#f0c0b4"/><stop offset="0.469" stop-color="#f0bdb1"/><stop offset="0.500" stop-color="#efbbae"/><stop offset="0.531" stop-color="#efb9ac"/><stop offset="0.562" stop-color="#efb7aa"/><stop offset="0.594" stop-color="#eeb5a7"/><stop offset="0.625" stop-color="#eeb3a5"/><stop offset="0.656" stop-color="#edb1a3"/><stop offset="0.688" stop-color="#edafa0"/><stop offset="0.719" stop-color="#edad9e"/><stop offset="0.750" stop-color="#ecac9c"/><stop offset="0.781" stop-color="#ecaa9a"/><stop offset="0.812" stop-color="#eca898"/><stop offset="0.844" stop-color="#eba696"/><stop offset="0.875" stop-color="#eba493"/><stop offset="0.906" stop-color="#eba391"/><stop offset="0.938" stop-color="#eaa190"/><stop offset="0.969" stop-color="#ea9f8e"/><stop offset="1.000" stop-color="#ea9e8c"/></linearGradient><linearGradient id="g87" x1="0" y1="0" x2="0" y2="1"><stop offset="0.000" stop-color="#eed8d2"/><stop offset="0.031" stop-color="#eed7d1"/><stop offset="0.062" stop-color="#eed6cf"/><stop offset="0.094" stop-color="#eed4cd"/><stop offset="0.125" stop-color="#eed2cb"/><stop offset="0.156" stop-color="#eed1c9"/><stop offset="0.188" stop-color="#efcfc7"/><stop offset="0.219" stop-color="#efcdc5"/><stop offset="0.250" stop-color="#efccc2"/><stop offset="0.281" stop-color="#efc9c0"/><stop offset="0.312" stop-color="#efc7bd"/><stop offset="0.344" stop-color="#efc5ba"/><stop offset="0.375" stop-color="#f0c2b7"/><stop offset="0.406" stop-color="#f0c0b5"/><stop offset="0.438" stop-color="#f0beb2"/><stop offset="0.469" stop-color="#f0bcaf"/><stop offset="0.500" stop-color="#efb9ac"/><stop offset="0.531" stop-color="#efb7aa"/><stop offset="0.562" stop-color="#eeb5a8"/><stop offset="0.594" stop-color="#eeb3a5"/><stop offset="0.625" stop-color="#edb1a3"/><stop offset="0.656" stop-color="#edafa0"/><stop offset="0.688" stop-color="#edad9e"/><stop offset="0.719" stop-color="#ecab9c"/><stop offset="0.750" stop-color="#eca999"/><stop offset="0.781" stop-color="#eba797"/><stop offset="0.812" stop-color="#eba695"/><stop offset="0.844" stop-color="#eba493"/><stop offset="0.875" stop-color="#eaa291"/><stop offset="0.906" stop-color="#eaa08f"/><stop offset="0.938" stop-color="#ea9f8d"/><stop offset="0.969" stop-color="#e99d8b"/><stop offset="1.000" stop-color="#e99b89"/></linearGradient><linearGradient id="g88" x1="0" y1="0" x2="0" y2="1"><stop offset="0.000" stop-color="#eed8d2"/><stop offset="0.031" stop-color="#eed7d0"/><stop offset="0.062" stop-color="#eed5ce"/><stop offset="0.094" stop-color="#eed3cc"/><stop offset="0.125" stop-color="#eed2c9"/><stop offset="0.156" stop-color="#efd0c7"/><stop offset="0.188" stop-color="#efcec5"/><stop offset="0.219" stop-color="#efccc3"/><stop offset="0.250" stop-color="#efcac1"/><stop offset="0.281" stop-color="#efc8be"/><stop offset="0.312" stop-color="#efc6bb"/><stop offset="0.344" stop-color="#f0c3b8"/><stop offset="0.375" stop-color="#f0c1b6"/><stop offset="0.406" stop-color="#f0bfb3"/><stop offset="0.438" stop-color="#f0bcb0"/><stop offset="0.469" stop-color="#efbaad"/><stop offset="0.500" stop-color="#efb8aa"/><stop offset="0.531" stop-color="#eeb5a8"/><stop offset="0.562" stop-color="#eeb3a5"/><stop offset="0.594" stop-color="#edb1a3"/><stop offset="0.625" stop-color="#edafa0"/><stop offset="0.656" stop-color="#edad9e"/><stop offset="0.688" stop-color="#ecab9b"/><stop offset="0.719" stop-color="#eca999"/><stop offset="0.750" stop-color="#eba796"/><stop offset="0.781" stop-color="#eba594"/><stop offset="0.812" stop-color="#eba392"/><stop offset="0.844" stop-color="#eaa290"/><stop offset="0.875" stop-color="#eaa08e"/><stop offset="0.906" stop-color="#ea9e8c"/><stop offset="0.938" stop-color="#e99c8a"/><stop offset="0.969" stop-color="#e99a88"/><stop offset="1.000" stop-color="#e89886"/></linearGradient><linearGradient id="g89" x1="0" y1="0" x2="0" y2="1"><stop offset="0.000" stop-color="#eed7d1"/><stop offset="0.031" stop-color="#eed6cf"/><stop offset="0.062" stop-color="#eed4cd"/><stop offset="0.094" stop-color="#eed2ca"/><stop offset="0.125" stop-color="#efd0c8"/><stop offset="0.156" stop-color="#efcfc6"/><stop offset="0.188" stop-color="#efcdc4"/><stop offset="0.219" stop-color="#efcbc2"/><stop offset="0.250" stop-color="#efc9c0"/><stop offset="0.281" stop-color="#efc7bd"/><stop offset="0.312" stop-color="#efc4ba"/><stop offset="0.344" stop-color="#f0c2b7"/><stop offset="0.375" stop-color="#f0c0b4"/><stop offset="0.406" stop-color="#f0bdb1"/><stop offset="0.438" stop-color="#efbbae"/><stop offset="0.469" stop-color="#efb8ab"/><stop offset="0.500" stop-color="#eeb6a8"/><stop offset="0.531" stop-color="#eeb4a6"/><stop offset="0.562" stop-color="#eeb2a3"/><stop offset="0.594" stop-color="#edafa0"/><stop offset="0.625" stop-color="#edad9e"/><stop offset="0.656" stop-color="#ecab9b"/><stop offset="0.688" stop-color="#eca999"/><stop offset="0.719" stop-color="#eba796"/><stop offset="0.750" stop-color="#eba594"/><stop offset="0.781" stop-color="#eba392"/><stop offset="0.812" stop-color="#eaa190"/><stop offset="0.844" stop-color="#ea9f8e"/><stop offset="0.875" stop-color="#e99d8b"/><stop offset="0.906" stop-color="#e99c89"/><stop offset="0.938" stop-color="#e99a87"/><stop offset="0.969" stop-color="#e89885"/><stop offset="1.000" stop-color="#e89683"/></linearGradient><linearGradient id="g90" x1="0" y1="0" x2="0" y2="1"><stop offset="0.000" stop-color="#eed7d0"/><stop offset="0.031" stop-color="#eed5ce"/><stop offset="0.062" stop-color="#eed3cc"/><stop offset="0.094" stop-color="#eed1c9"/><stop offset="0.125" stop-color="#efd0c7"/><stop offset="0.156" stop-color="#efcec5"/><stop offset="0.188" stop-color="#efccc2"/><stop offset="0.219" stop-color="#efcac0"/><stop offset="0.250" stop-color="#efc8be"/><stop offset="0.281" stop-color="#efc6bb"/><stop offset="0.312" stop-color="#f0c3b8"/><stop offset="0.344" stop-color="#f0c0b5"/><stop offset="0.375" stop-color="#f0beb2"/><stop offset="0.406" stop-color="#f0bcaf"/><stop offset="0.438" stop-color="#efb9ac"/><stop offset="0.469" stop-color="#eeb6a9"/><stop offset="0.500" stop-color="#eeb4a6"/><stop offset="0.531" stop-color="#eeb2a3"/><stop offset="0.562" stop-color="#edb0a1"/><stop offset="0.594" stop-color="#edad9e"/><stop offset="0.625" stop-color="#ecab9c"/><stop offset="0.656" stop-color="#eca999"/><stop offset="0.688" stop-color="#eba796"/><stop offset="0.719" stop-color="#eba594"/><stop offset="0.750" stop-color="#eaa291"/><stop offset="0.781" stop-color="#eaa18f"/><stop offset="0.812" stop-color="#ea9f8d"/><stop offset="0.844" stop-color="#e99d8b"/><stop offset="0.875" stop-color="#e99b89"/><stop offset="0.906" stop-color="#e99987"/><stop offset="0.938" stop-color="#e89785"/><stop offset="0.969" stop-color="#e89582"/><stop offset="1.000" stop-color="#e89480"/></linearGradient><linearGradient id="g91" x1="0" y1="0" x2="0" y2="1"><stop offset="0.000" stop-color="#eed5ce"/><stop offset="0.031" stop-color="#eed4cc"/><stop offset="0.062" stop-color="#eed2ca"/><stop offset="0.094" stop-color="#efd0c8"/><stop offset="0.125" stop-color="#efcec5"/><stop offset="0.156" stop-color="#efccc3"/><stop offset="0.188" stop-color="#efcac1"/><stop offset="0.219" stop-color="#efc9bf"/><stop offset="0.250" stop-color="#efc7bc"/><stop offset="0.281" stop-color="#f0c4b9"/><stop offset="0.312" stop-color="#f0c2b6"/><stop offset="0.344" stop-color="#f0bfb3"/><stop offset="0.375" stop-color="#f0bdb0"/><stop offset="0.406" stop-color="#efbaad"/><stop offset="0.438" stop-color="#efb8aa"/><stop offset="0.469" stop-color="#eeb5a7"/><stop offset="0.500" stop-color="#eeb2a4"/><stop offset="0.531" stop-color="#edb0a2"/><stop offset="0.562" stop-color="#edae9f"/><stop offset="0.594" stop-color="#ecac9c"/><stop offset="0.625" stop-color="#ecaa9a"/><stop offset="0.656" stop-color="#eca897"/><stop offset="0.688" stop-color="#eba594"/><stop offset="0.719" stop-color="#eba392"/><stop offset="0.750" stop-color="#eaa18f"/><stop offset="0.781" stop-color="#ea9f8d"/><stop offset="0.812" stop-color="#e99d8b"/><stop offset="0.844" stop-color="#e99b89"/><stop offset="0.875" stop-color="#e99986"/><stop offset="0.906" stop-color="#e89784"/><stop offset="0.938" stop-color="#e89582"/><stop offset="0.969" stop-color="#e79380"/><stop offset="1.000" stop-color="#e7917d"/></linearGradient><linearGradient id="g92" x1="0" y1="0" x2="0" y2="1"><stop offset="0.000" stop-color="#eed4cc"/><stop offset="0.031" stop-color="#eed2ca"/><stop offset="0.062" stop-color="#efd0c8"/><stop offset="0.094" stop-color="#efcec6"/><stop offset="0.125" stop-color="#efcdc4"/><stop offset="0.156" stop-color="#efcbc1"/><stop offset="0.188" stop-color="#efc9bf"/><stop offset="0.219" stop-color="#efc7bd"/><stop offset="0.250" stop-color="#efc6bb"/><stop offset="0.281" stop-color="#f0c3b8"/><stop offset="0.312" stop-color="#f0c0b5"/><stop offset="0.344" stop-color="#f0beb2"/><stop offset="0.375" stop-color="#efbbaf"/><stop offset="0.406" stop-color="#efb9ac"/><stop offset="0.438" stop-color="#eeb6a8"/><stop offset="0.469" stop-color="#eeb3a5"/><stop offset="0.500" stop-color="#edb1a2"/><stop offset="0.531" stop-color="#edafa0"/><stop offset="0.562" stop-color="#ecac9d"/><stop offset="0.594" stop-color="#ecaa9a"/><stop offset="0.625" stop-color="#eca898"/><stop offset="0.656" stop-color="#eba695"/><stop offset="0.688" stop-color="#eba493"/><stop offset="0.719" stop-color="#eaa290"/><stop offset="0.750" stop-color="#ea9f8e"/><stop offset="0.781" stop-color="#e99d8b"/><stop offset="0.812" stop-color="#e99b89"/><stop offset="0.844" stop-color="#e99986"/><stop offset="0.875" stop-color="#e89784"/><stop offset="0.906" stop-color="#e89481"/><stop offset="0.938" stop-color="#e7927f"/><stop offset="0.969" stop-color="#e7907d"/><stop offset="1.000" stop-color="#e68e7a"/></linearGradient><linearGradient id="g93" x1="0" y1="0" x2="0" y2="1"><stop offset="0.000" stop-color="#eed2ca"/><stop offset="0.031" stop-color="#efd1c8"/><stop offset="0.062" stop-color="#efcfc6"/><stop offset="0.094" stop-color="#efcdc4"/><stop offset="0.125" stop-color="#efcbc2"/><stop offset="0.156" stop-color="#efcac0"/><stop offset="0.188" stop-color="#efc8be"/><stop offset="0.219" stop-color="#efc6bc"/><stop offset="0.250" stop-color="#f0c4ba"/><stop offset="0.281" stop-color="#f0c2b6"/><stop offset="0.312" stop-color="#f0bfb3"/><stop offset="0.344" stop-color="#f0bcb0"/><stop offset="0.375" stop-color="#efbaad"/><stop offset="0.406" stop-color="#efb7aa"/><stop offset="0.438" stop-color="#eeb5a7"/><stop offset="0.469" stop-color="#eeb2a4"/><stop offset="0.500" stop-color="#edafa0"/><stop offset="0.531" stop-color="#edad9e"/><stop offset="0.562" stop-color="#ecab9b"/><stop offset="0.594" stop-color="#eca998"/><stop offset="0.625" stop-color="#eba796"/><stop offset="0.656" stop-color="#eba493"/><stop offset="0.688" stop-color="#eaa291"/><stop offset="0.719" stop-color="#eaa08e"/><stop offset="0.750" stop-color="#ea9e8c"/><stop offset="0.781" stop-color="#e99b89"/><stop offset="0.812" stop-color="#e99987"/><stop offset="0.844" stop-color="#e89784"/><stop offset="0.875" stop-color="#e89481"/><stop offset="0.906" stop-color="#e7927f"/><stop offset="0.938" stop-color="#e7907c"/><stop offset="0.969" stop-color="#e68d7a"/><stop offset="1.000" stop-color="#e68b77"/></linearGradient><linearGradient id="g94" x1="0" y1="0" x2="0" y2="1"><stop offset="0.000" stop-color="#eed1c8"/><stop offset="0.031" stop-color="#efcfc6"/><stop offset="0.062" stop-color="#efcdc4"/><stop offset="0.094" stop-color="#efccc2"/><stop offset="0.125" stop-color="#efcac0"/><stop offset="0.156" stop-color="#efc8be"/><stop offset="0.188" stop-color="#efc6bc"/><stop offset="0.219" stop-color="#efc5ba"/><stop offset="0.250" stop-color="#f0c3b8"/><stop offset="0.281" stop-color="#f0c0b5"/><stop offset="0.312" stop-color="#f0beb2"/><stop offset="0.344" stop-color="#efbbae"/><stop offset="0.375" stop-color="#efb8ab"/><stop offset="0.406" stop-color="#eeb6a8"/><stop offset="0.438" stop-color="#eeb3a5"/><stop offset="0.469" stop-color="#edb0a2"/><stop offset="0.500" stop-color="#edae9e"/><stop offset="0.531" stop-color="#ecac9c"/><stop offset="0.562" stop-color="#eca999"/><stop offset="0.594" stop-color="#eba797"/><stop offset="0.625" stop-color="#eba594"/><stop offset="0.656" stop-color="#eba392"/><stop offset="0.688" stop-color="#eaa18f"/><stop offset="0.719" stop-color="#ea9e8d"/><stop offset="0.750" stop-color="#e99c8a"/><stop offset="0.781" stop-color="#e99a87"/><stop offset="0.812" stop-color="#e89785"/><stop offset="0.844" stop-color="#e89582"/><stop offset="0.875" stop-color="#e7927f"/><stop offset="0.906" stop-color="#e7907c"/><stop offset="0.938" stop-color="#e68d79"/><stop offset="0.969" stop-color="#e68b77"/><stop offset="1.000" stop-color="#e58874"/></linearGradient><linearGradient id="g95" x1="0" y1="0" x2="0" y2="1"><stop offset="0.000" stop-color="#efcfc7"/><stop offset="0.031" stop-color="#efcec5"/><stop offset="0.062" stop-color="#efccc3"/><stop offset="0.094" stop-color="#efcac1"/><stop offset="0.125" stop-color="#efc8bf"/><stop offset="0.156" stop-color="#efc7bd"/><stop offset="0.188" stop-color="#efc5bb"/><stop offset="0.219" stop-color="#f0c3b9"/><stop offset="0.250" stop-color="#f0c2b6"/><stop offset="0.281" stop-color="#f0bfb3"/><stop offset="0.312" stop-color="#f0bcb0"/><stop offset="0.344" stop-color="#efbaad"/><stop offset="0.375" stop-color="#efb7aa"/><stop offset="0.406" stop-color="#eeb4a6"/><stop offset="0.438" stop-color="#eeb2a3"/><stop offset="0.469" stop-color="#edafa0"/><stop offset="0.500" stop-color="#ecac9d"/><stop offset="0.531" stop-color="#ecaa9a"/><stop offset="0.562" stop-color="#eca897"/><stop offset="0.594" stop-color="#eba695"/><stop offset="0.625" stop-color="#eba392"/><stop offset="0.656" stop-color="#eaa190"/><stop offset="0.688" stop-color="#ea9f8d"/><stop offset="0.719" stop-color="#e99d8b"/><stop offset="0.750" stop-color="#e99b88"/><stop offset="0.781" stop-color="#e89885"/><stop offset="0.812" stop-color="#e89582"/><stop offset="0.844" stop-color="#e79380"/><stop offset="0.875" stop-color="#e7907d"/><stop offset="0.906" stop-color="#e68d7a"/><stop offset="0.938" stop-color="#e68b77"/><stop offset="0.969" stop-color="#e58874"/><stop offset="1.000" stop-color="#e58571"/></linearGradient><linearGradient id="g96" x1="0" y1="0" x2="0" y2="1"><stop offset="0.000" stop-color="#efcec5"/><stop offset="0.031" stop-color="#efccc3"/><stop offset="0.062" stop-color="#efcac1"/><stop offset="0.094" stop-color="#efc9bf"/><stop offset="0.125" stop-color="#efc7bd"/><stop offset="0.156" stop-color="#efc5bb"/><stop offset="0.188" stop-color="#f0c4b9"/><stop offset="0.219" stop-color="#f0c2b7"/><stop offset="0.250" stop-color="#f0c0b5"/><stop offset="0.281" stop-color="#f0beb2"/><stop offset="0.312" stop-color="#efbbae"/><stop offset="0.344" stop-color="#efb8ab"/><stop offset="0.375" stop-color="#eeb6a8"/><stop offset="0.406" stop-color="#eeb3a5"/><stop offset="0.438" stop-color="#edb0a1"/><stop offset="0.469" stop-color="#edad9e"/><stop offset="0.500" stop-color="#ecab9b"/><stop offset="0.531" stop-color="#eca898"/><stop offset="0.562" stop-color="#eba696"/><stop offset="0.594" stop-color="#eba493"/><stop offset="0.625" stop-color="#eaa290"/><stop offset="0.656" stop-color="#eaa08e"/><stop offset="0.688" stop-color="#ea9e8c"/><stop offset="0.719" stop-color="#e99b89"/><stop offset="0.750" stop-color="#e99987"/><stop offset="0.781" stop-color="#e89684"/><stop offset="0.812" stop-color="#e89480"/><stop offset="0.844" stop-color="#e7917d"/><stop offset="0.875" stop-color="#e68e7a"/><stop offset="0.906" stop-color="#e68b77"/><stop offset="0.938" stop-color="#e58874"/><stop offset="0.969" stop-color="#e58571"/><stop offset="1.000" stop-color="#e4836f"/></linearGradient><linearGradient id="g97" x1="0" y1="0" x2="0" y2="1"><stop offset="0.000" stop-color="#efccc3"/><stop offset="0.031" stop-color="#efcac1"/><stop offset="0.062" stop-color="#efc9bf"/><stop offset="0.094" stop-color="#efc7bd"/><stop offset="0.125" stop-color="#efc6bb"/><stop offset="0.156" stop-color="#f0c4b9"/><stop offset="0.188" stop-color="#f0c2b7"/><stop offset="0.219" stop-color="#f0c1b5"/><stop offset="0.250" stop-color="#f0bfb4"/><stop offset="0.281" stop-color="#f0bcb0"/><stop offset="0.312" stop-color="#efbaad"/><stop offset="0.344" stop-color="#efb7aa"/><stop offset="0.375" stop-color="#eeb4a6"/><stop offset="0.406" stop-color="#edb1a3"/><stop offset="0.438" stop-color="#edafa0"/><stop offset="0.469" stop-color="#ecac9c"/><stop offset="0.500" stop-color="#eca999"/><stop offset="0.531" stop-color="#eba796"/><stop offset="0.562" stop-color="#eba594"/><stop offset="0.594" stop-color="#eaa291"/><stop offset="0.625" stop-color="#eaa08f"/><stop offset="0.656" stop-color="#ea9e8c"/><stop offset="0.688" stop-color="#e99c8a"/><stop offset="0.719" stop-color="#e99a87"/><stop offset="0.750" stop-color="#e89885"/><stop offset="0.781" stop-color="#e89582"/><stop offset="0.812" stop-color="#e7927e"/><stop offset="0.844" stop-color="#e78f7b"/><stop offset="0.875" stop-color="#e68c78"/><stop offset="0.906" stop-color="#e58975"/><stop offset="0.938" stop-color="#e58672"/><stop offset="0.969" stop-color="#e4836f"/><stop offset="1.000" stop-color="#e4806c"/></linearGradient><linearGradient id="g98" x1="0" y1="0" x2="0" y2="1"><stop offset="0.000" stop-color="#efcac1"/><stop offset="0.031" stop-color="#efc9bf"/><stop offset="0.062" stop-color="#efc7bd"/><stop offset="0.094" stop-color="#efc6bb"/><stop offset="0.125" stop-color="#f0c4ba"/><stop offset="0.156" stop-color="#f0c3b8"/><stop offset="0.188" stop-color="#f0c1b6"/><stop offset="0.219" stop-color="#f0c0b4"/><stop offset="0.250" stop-color="#f0beb2"/><stop offset="0.281" stop-color="#efbbaf"/><stop offset="0.312" stop-color="#efb8ab"/><stop offset="0.344" stop-color="#eeb6a8"/><stop offset="0.375" stop-color="#eeb3a4"/><stop offset="0.406" stop-color="#edb0a1"/><stop offset="0.438" stop-color="#edad9e"/><stop offset="0.469" stop-color="#ecaa9a"/><stop offset="0.500" stop-color="#eca897"/><stop offset="0.531" stop-color="#eba594"/><stop offset="0.562" stop-color="#eba392"/><stop offset="0.594" stop-color="#eaa18f"/><stop offset="0.625" stop-color="#ea9f8d"/><stop offset="0.656" stop-color="#e99d8b"/><stop offset="0.688" stop-color="#e99a88"/><stop offset="0.719" stop-color="#e89886"/><stop offset="0.750" stop-color="#e89683"/><stop offset="0.781" stop-color="#e79380"/><stop offset="0.812" stop-color="#e7907c"/><stop offset="0.844" stop-color="#e68d79"/><stop offset="0.875" stop-color="#e68a76"/><stop offset="0.906" stop-color="#e58672"/><stop offset="0.938" stop-color="#e4836f"/><stop offset="0.969" stop-color="#e4806c"/><stop offset="1.000" stop-color="#e37d69"/></linearGradient><linearGradient id="g99" x1="0" y1="0" x2="0" y2="1"><stop offset="0.000" stop-color="#efc7bd"/><stop offset="0.031" stop-color="#efc6bb"/><stop offset="0.062" stop-color="#f0c4b9"/><stop offset="0.094" stop-color="#f0c3b8"/><stop offset="0.125" stop-color="#f0c1b6"/><stop offset="0.156" stop-color="#f0c0b4"/><stop offset="0.188" stop-color="#f0beb2"/><stop offset="0.219" stop-color="#f0bdb1"/><stop offset="0.250" stop-color="#f0bcaf"/><stop offset="0.281" stop-color="#efb9ac"/><stop offset="0.312" stop-color="#eeb6a8"/><stop offset="0.344" stop-color="#eeb3a5"/><stop offset="0.375" stop-color="#edb0a2"/><stop offset="0.406" stop-color="#edae9e"/><stop offset="0.438" stop-color="#ecab9b"/><stop offset="0.469" stop-color="#eca898"/><stop offset="0.500" stop-color="#eba695"/><stop offset="0.531" stop-color="#eba392"/><stop offset="0.562" stop-color="#eaa190"/><stop offset="0.594" stop-color="#ea9f8d"/><stop offset="0.625" stop-color="#e99c8a"/><stop offset="0.656" stop-color="#e99a88"/><stop offset="0.688" stop-color="#e89885"/><stop offset="0.719" stop-color="#e89683"/><stop offset="0.750" stop-color="#e89480"/><stop offset="0.781" stop-color="#e7907d"/><stop offset="0.812" stop-color="#e68d79"/><stop offset="0.844" stop-color="#e68a76"/><stop offset="0.875" stop-color="#e58773"/><stop offset="0.906" stop-color="#e48470"/><stop offset="0.938" stop-color="#e4816d"/><stop offset="0.969" stop-color="#e37e6a"/><stop offset="1.000" stop-color="#e27a66"/></linearGradient><linearGradient id="g100" x1="0" y1="0" x2="0" y2="1"><stop offset="0.000" stop-color="#f0c4b9"/><stop offset="0.031" stop-color="#f0c2b7"/><stop offset="0.062" stop-color="#f0c1b5"/><stop offset="0.094" stop-color="#f0c0b4"/><stop offset="0.125" stop-color="#f0beb2"/><stop offset="0.156" stop-color="#f0bdb1"/><stop offset="0.188" stop-color="#f0bcaf"/><stop offset="0.219" stop-color="#efbaae"/><stop offset="0.250" stop-color="#efb9ac"/><stop offset="0.281" stop-color="#eeb6a9"/><stop offset="0.312" stop-color="#eeb4a6"/><stop offset="0.344" stop-color="#edb1a2"/><stop offset="0.375" stop-color="#edae9f"/><stop offset="0.406" stop-color="#ecac9c"/><stop offset="0.438" stop-color="#eca999"/><stop offset="0.469" stop-color="#eba695"/><stop offset="0.500" stop-color="#eba492"/><stop offset="0.531" stop-color="#eaa190"/><stop offset="0.562" stop-color="#ea9f8d"/><stop offset="0.594" stop-color="#e99d8b"/><stop offset="0.625" stop-color="#e99a88"/><stop offset="0.656" stop-color="#e89885"/><stop offset="0.688" stop-color="#e89683"/><stop offset="0.719" stop-color="#e79380"/><stop offset="0.750" stop-color="#e7917e"/><stop offset="0.781" stop-color="#e68e7a"/><stop offset="0.812" stop-color="#e68b77"/><stop offset="0.844" stop-color="#e58874"/><stop offset="0.875" stop-color="#e48470"/><stop offset="0.906" stop-color="#e4816d"/><stop offset="0.938" stop-color="#e37e6a"/><stop offset="0.969" stop-color="#e37b67"/><stop offset="1.000" stop-color="#e27864"/></linearGradient><linearGradient id="g101" x1="0" y1="0" x2="0" y2="1"><stop offset="0.000" stop-color="#f0c0b4"/><stop offset="0.031" stop-color="#f0bfb3"/><stop offset="0.062" stop-color="#f0beb2"/><stop offset="0.094" stop-color="#f0bcb0"/><stop offset="0.125" stop-color="#efbbaf"/><stop offset="0.156" stop-color="#efbaad"/><stop offset="0.188" stop-color="#efb9ac"/><stop offset="0.219" stop-color="#efb8aa"/><stop offset="0.250" stop-color="#eeb6a9"/><stop offset="0.281" stop-color="#eeb4a6"/><stop offset="0.312" stop-color="#edb1a3"/><stop offset="0.344" stop-color="#edafa0"/><stop offset="0.375" stop-color="#ecac9c"/><stop offset="0.406" stop-color="#eca999"/><stop offset="0.438" stop-color="#eba796"/><stop offset="0.469" stop-color="#eba493"/><stop offset="0.500" stop-color="#eaa290"/><stop offset="0.531" stop-color="#ea9f8d"/><stop offset="0.562" stop-color="#e99d8b"/><stop offset="0.594" stop-color="#e99a88"/><stop offset="0.625" stop-color="#e89885"/><stop offset="0.656" stop-color="#e89683"/><stop offset="0.688" stop-color="#e79380"/><stop offset="0.719" stop-color="#e7917d"/><stop offset="0.750" stop-color="#e68e7b"/><stop offset="0.781" stop-color="#e68b77"/><stop offset="0.812" stop-color="#e58874"/><stop offset="0.844" stop-color="#e58571"/><stop offset="0.875" stop-color="#e4826e"/><stop offset="0.906" stop-color="#e37f6b"/><stop offset="0.938" stop-color="#e37c68"/><stop offset="0.969" stop-color="#e27965"/><stop offset="1.000" stop-color="#e27662"/></linearGradient><linearGradient id="g102" x1="0" y1="0" x2="0" y2="1"><stop offset="0.000" stop-color="#f0bcb0"/><stop offset="0.031" stop-color="#efbbaf"/><stop offset="0.062" stop-color="#efbaae"/><stop offset="0.094" stop-color="#efb9ac"/><stop offset="0.125" stop-color="#efb8ab"/><stop offset="0.156" stop-color="#efb7aa"/><stop offset="0.188" stop-color="#eeb6a9"/><stop offset="0.219" stop-color="#eeb5a7"/><stop offset="0.250" stop-color="#eeb4a6"/><stop offset="0.281" stop-color="#edb1a3"/><stop offset="0.312" stop-color="#edafa0"/><stop offset="0.344" stop-color="#ecac9d"/><stop offset="0.375" stop-color="#ecaa9a"/><stop offset="0.406" stop-color="#eba797"/><stop offset="0.438" stop-color="#eba594"/><stop offset="0.469" stop-color="#eaa291"/><stop offset="0.500" stop-color="#eaa08e"/><stop offset="0.531" stop-color="#e99d8b"/><stop offset="0.562" stop-color="#e99b88"/><stop offset="0.594" stop-color="#e89886"/><stop offset="0.625" stop-color="#e89683"/><stop offset="0.656" stop-color="#e79380"/><stop offset="0.688" stop-color="#e7917d"/><stop offset="0.719" stop-color="#e68e7b"/><stop offset="0.750" stop-color="#e68c78"/><stop offset="0.781" stop-color="#e58975"/><stop offset="0.812" stop-color="#e58672"/><stop offset="0.844" stop-color="#e4836f"/><stop offset="0.875" stop-color="#e4806c"/><stop offset="0.906" stop-color="#e37c68"/><stop offset="0.938" stop-color="#e27965"/><stop offset="0.969" stop-color="#e27662"/><stop offset="1.000" stop-color="#e1735f"/></linearGradient><linearGradient id="g103" x1="0" y1="0" x2="0" y2="1"><stop offset="0.000" stop-color="#efb9ac"/><stop offset="0.031" stop-color="#efb8ab"/><stop offset="0.062" stop-color="#efb7aa"/><stop offset="0.094" stop-color="#eeb6a9"/><stop offset="0.125" stop-color="#eeb5a8"/><stop offset="0.156" stop-color="#eeb4a6"/><stop offset="0.188" stop-color="#eeb3a5"/><stop offset="0.219" stop-color="#eeb2a4"/><stop offset="0.250" stop-color="#eeb2a3"/><stop offset="0.281" stop-color="#edafa0"/><stop offset="0.312" stop-color="#ecac9d"/><stop offset="0.344" stop-color="#ecaa9a"/><stop offset="0.375" stop-color="#eca897"/><stop offset="0.406" stop-color="#eba594"/><stop offset="0.438" stop-color="#eaa291"/><stop offset="0.469" stop-color="#eaa08e"/><stop offset="0.500" stop-color="#ea9e8c"/><stop offset="0.531" stop-color="#e99b89"/><stop offset="0.562" stop-color="#e89886"/><stop offset="0.594" stop-color="#e89683"/><stop offset="0.625" stop-color="#e89480"/><stop offset="0.656" stop-color="#e7917e"/><stop offset="0.688" stop-color="#e68e7b"/><stop offset="0.719" stop-color="#e68c78"/><stop offset="0.750" stop-color="#e68a76"/><stop offset="0.781" stop-color="#e58672"/><stop offset="0.812" stop-color="#e4836f"/><stop offset="0.844" stop-color="#e4806c"/><stop offset="0.875" stop-color="#e37d69"/><stop offset="0.906" stop-color="#e27a66"/><stop offset="0.938" stop-color="#e27763"/><stop offset="0.969" stop-color="#e17460"/><stop offset="1.000" stop-color="#e0705c"/></linearGradient><linearGradient id="g104" x1="0" y1="0" x2="0" y2="1"><stop offset="0.000" stop-color="#dedcf0"/><stop offset="0.031" stop-color="#e0deef"/><stop offset="0.062" stop-color="#e2dfee"/><stop offset="0.094" stop-color="#e4e0ed"/><stop offset="0.125" stop-color="#e6e2ec"/><stop offset="0.156" stop-color="#e6e2eb"/><stop offset="0.188" stop-color="#e7e3eb"/><stop offset="0.219" stop-color="#e8e3eb"/><stop offset="0.250" stop-color="#e8e4eb"/><stop offset="0.281" stop-color="#e9e4ea"/><stop offset="0.312" stop-color="#e9e4ea"/><stop offset="0.344" stop-color="#e9e5ea"/><stop offset="0.375" stop-color="#eae5ea"/><stop offset="0.406" stop-color="#eae5ea"/><stop offset="0.438" stop-color="#ebe6e9"/><stop offset="0.469" stop-color="#ebe6e9"/><stop offset="0.500" stop-color="#ebe5e7"/><stop offset="0.531" stop-color="#ebe4e5"/><stop offset="0.562" stop-color="#ece3e3"/><stop offset="0.594" stop-color="#ece1e1"/><stop offset="0.625" stop-color="#ece0df"/><stop offset="0.656" stop-color="#ecdfde"/><stop offset="0.688" stop-color="#eddedb"/><stop offset="0.719" stop-color="#eddcd8"/><stop offset="0.750" stop-color="#eddbd7"/><stop offset="0.781" stop-color="#eddad5"/><stop offset="0.812" stop-color="#eed8d2"/><stop offset="0.844" stop-color="#eed6cf"/><stop offset="0.875" stop-color="#eed2ca"/><stop offset="0.906" stop-color="#efd0c8"/><stop offset="0.938" stop-color="#efcfc6"/><stop offset="0.969" stop-color="#efcdc4"/><stop offset="1.000" stop-color="#efcac1"/></linearGradient><linearGradient id="g105" x1="0" y1="0" x2="0" y2="1"><stop offset="0.000" stop-color="#b8b4e9"/><stop offset="0.031" stop-color="#bdb9ea"/><stop offset="0.062" stop-color="#c2beeb"/><stop offset="0.094" stop-color="#c6c2ec"/><stop offset="0.125" stop-color="#ccc8ed"/><stop offset="0.156" stop-color="#d0cded"/><stop offset="0.188" stop-color="#d4d1ee"/><stop offset="0.219" stop-color="#d7d5ef"/><stop offset="0.250" stop-color="#dad8ef"/><stop offset="0.281" stop-color="#dedcf0"/><stop offset="0.312" stop-color="#e1deee"/><stop offset="0.344" stop-color="#e4e0ed"/><stop offset="0.375" stop-color="#e7e3eb"/><stop offset="0.406" stop-color="#eae5ea"/><stop offset="0.438" stop-color="#ebe4e6"/><stop offset="0.469" stop-color="#ece1e0"/><stop offset="0.500" stop-color="#ecdedc"/><stop offset="0.531" stop-color="#eddcd9"/><stop offset="0.562" stop-color="#eddbd7"/><stop offset="0.594" stop-color="#eddad5"/><stop offset="0.625" stop-color="#eed9d3"/><stop offset="0.656" stop-color="#eed8d1"/><stop offset="0.688" stop-color="#eed5ce"/><stop offset="0.719" stop-color="#eed3cb"/><stop offset="0.750" stop-color="#efcfc6"/><stop offset="0.781" stop-color="#efcac1"/><stop offset="0.812" stop-color="#efc6bc"/><stop offset="0.844" stop-color="#f0c2b7"/><stop offset="0.875" stop-color="#f0beb2"/><stop offset="0.906" stop-color="#efbbae"/><stop offset="0.938" stop-color="#efb9ac"/><stop offset="0.969" stop-color="#efb9ac"/><stop offset="1.000" stop-color="#efb9ac"/></linearGradient><linearGradient id="g106" x1="0" y1="0" x2="0" y2="1"><stop offset="0.000" stop-color="#bebaea"/><stop offset="0.031" stop-color="#c3bfeb"/><stop offset="0.062" stop-color="#c8c4ec"/><stop offset="0.094" stop-color="#cdc9ed"/><stop offset="0.125" stop-color="#d2cfee"/><stop offset="0.156" stop-color="#d8d6ef"/><stop offset="0.188" stop-color="#dedcf0"/><stop offset="0.219" stop-color="#e1deee"/><stop offset="0.250" stop-color="#e3e0ed"/><stop offset="0.281" stop-color="#e6e2ec"/><stop offset="0.312" stop-color="#eae5ea"/><stop offset="0.344" stop-color="#ebe4e6"/><stop offset="0.375" stop-color="#ece1e1"/><stop offset="0.406" stop-color="#eddedc"/><stop offset="0.438" stop-color="#eddbd7"/><stop offset="0.469" stop-color="#eed8d1"/><stop offset="0.500" stop-color="#eed4cc"/><stop offset="0.531" stop-color="#efcfc7"/><stop offset="0.562" stop-color="#efcdc4"/><stop offset="0.594" stop-color="#efcac0"/><stop offset="0.625" stop-color="#efc6bb"/><stop offset="0.656" stop-color="#f0c2b6"/><stop offset="0.688" stop-color="#f0bfb3"/><stop offset="0.719" stop-color="#f0bcb0"/><stop offset="0.750" stop-color="#efb8ab"/><stop offset="0.781" stop-color="#eeb4a6"/><stop offset="0.812" stop-color="#edae9f"/><stop offset="0.844" stop-color="#eba797"/><stop offset="0.875" stop-color="#eba392"/><stop offset="0.906" stop-color="#eaa08e"/><stop offset="0.938" stop-color="#e99d8b"/><stop offset="0.969" stop-color="#e99b88"/><stop offset="1.000" stop-color="#e89886"/></linearGradient><linearGradient id="g107" x1="0" y1="0" x2="0" y2="1"><stop offset="0.000" stop-color="#c3bfeb"/><stop offset="0.031" stop-color="#c8c4ec"/><stop offset="0.062" stop-color="#cecbed"/><stop offset="0.094" stop-color="#d4d1ee"/><stop offset="0.125" stop-color="#dad7ef"/><stop offset="0.156" stop-color="#dfddef"/><stop offset="0.188" stop-color="#e3e0ed"/><stop offset="0.219" stop-color="#e6e2ec"/><stop offset="0.250" stop-color="#e8e4eb"/><stop offset="0.281" stop-color="#ebe6e9"/><stop offset="0.312" stop-color="#ece2e3"/><stop offset="0.344" stop-color="#ecdfdd"/><stop offset="0.375" stop-color="#eddbd7"/><stop offset="0.406" stop-color="#eed7d1"/><stop offset="0.438" stop-color="#eed1c9"/><stop offset="0.469" stop-color="#efccc3"/><stop offset="0.500" stop-color="#efc8be"/><stop offset="0.531" stop-color="#f0c3b9"/><stop offset="0.562" stop-color="#f0c0b4"/><stop offset="0.594" stop-color="#f0bcb0"/><stop offset="0.625" stop-color="#efb8aa"/><stop offset="0.656" stop-color="#eeb3a5"/><stop offset="0.688" stop-color="#edafa0"/><stop offset="0.719" stop-color="#ecab9b"/><stop offset="0.750" stop-color="#eba695"/><stop offset="0.781" stop-color="#eaa18f"/><stop offset="0.812" stop-color="#e99b89"/><stop offset="0.844" stop-color="#e89582"/><stop offset="0.875" stop-color="#e7907d"/><stop offset="0.906" stop-color="#e68d79"/><stop offset="0.938" stop-color="#e68a76"/><stop offset="0.969" stop-color="#e58672"/><stop offset="1.000" stop-color="#e4836f"/></linearGradient><linearGradient id="g108" x1="0" y1="0" x2="0" y2="1"><stop offset="0.000" stop-color="#c8c4ec"/><stop offset="0.031" stop-color="#cecbed"/><stop offset="0.062" stop-color="#d5d2ee"/><stop offset="0.094" stop-color="#dbd9ef"/><stop offset="0.125" stop-color="#e0deef"/><stop offset="0.156" stop-color="#e4e0ed"/><stop offset="0.188" stop-color="#e8e3eb"/><stop offset="0.219" stop-color="#eae5e9"/><stop offset="0.250" stop-color="#ebe4e6"/><stop offset="0.281" stop-color="#ece1e1"/><stop offset="0.312" stop-color="#edddda"/><stop offset="0.344" stop-color="#eed9d3"/><stop offset="0.375" stop-color="#eed3cb"/><stop offset="0.406" stop-color="#efccc3"/><stop offset="0.438" stop-color="#efc5bb"/><stop offset="0.469" stop-color="#f0bfb4"/><stop offset="0.500" stop-color="#f0bcaf"/><stop offset="0.531" stop-color="#efb8aa"/><stop offset="0.562" stop-color="#eeb3a5"/><stop offset="0.594" stop-color="#edae9f"/><stop offset="0.625" stop-color="#ecaa9a"/><stop offset="0.656" stop-color="#eba594"/><stop offset="0.688" stop-color="#ea9f8e"/><stop offset="0.719" stop-color="#e99a87"/><stop offset="0.750" stop-color="#e89481"/><stop offset="0.781" stop-color="#e68e7a"/><stop offset="0.812" stop-color="#e58874"/><stop offset="0.844" stop-color="#e4826e"/><stop offset="0.875" stop-color="#e37d69"/><stop offset="0.906" stop-color="#e27a66"/><stop offset="0.938" stop-color="#e27662"/><stop offset="0.969" stop-color="#e1725e"/><stop offset="1.000" stop-color="#df6d59"/></linearGradient><linearGradient id="g109" x1="0" y1="0" x2="0" y2="1"><stop offset="0.000" stop-color="#cbc7ed"/><stop offset="0.031" stop-color="#d1ceee"/><stop offset="0.062" stop-color="#d8d5ef"/><stop offset="0.094" stop-color="#dedcf0"/><stop offset="0.125" stop-color="#e2dfee"/><stop offset="0.156" stop-color="#e6e2ec"/><stop offset="0.188" stop-color="#e9e5ea"/><stop offset="0.219" stop-color="#ebe5e7"/><stop offset="0.250" stop-color="#ece2e2"/><stop offset="0.281" stop-color="#eddedc"/><stop offset="0.312" stop-color="#eddad5"/><stop offset="0.344" stop-color="#eed5ce"/><stop offset="0.375" stop-color="#efcdc4"/><stop offset="0.406" stop-color="#efc6bc"/><stop offset="0.438" stop-color="#f0bfb4"/><stop offset="0.469" stop-color="#efbaad"/><stop offset="0.500" stop-color="#eeb6a8"/><stop offset="0.531" stop-color="#eeb2a3"/><stop offset="0.562" stop-color="#edad9e"/><stop offset="0.594" stop-color="#eca998"/><stop offset="0.625" stop-color="#eba392"/><stop offset="0.656" stop-color="#ea9e8c"/><stop offset="0.688" stop-color="#e99986"/><stop offset="0.719" stop-color="#e79380"/><stop offset="0.750" stop-color="#e68d7a"/><stop offset="0.781" stop-color="#e58874"/><stop offset="0.812" stop-color="#e4826e"/><stop offset="0.844" stop-color="#e37b67"/><stop offset="0.875" stop-color="#e27662"/><stop offset="0.906" stop-color="#e1735f"/><stop offset="0.938" stop-color="#df6e5a"/><stop offset="0.969" stop-color="#dd6854"/><stop offset="1.000" stop-color="#dc634f"/></linearGradient><linearGradient id="g110" x1="0" y1="0" x2="0" y2="1"><stop offset="0.000" stop-color="#cecaed"/><stop offset="0.031" stop-color="#d5d2ee"/><stop offset="0.062" stop-color="#dbd9f0"/><stop offset="0.094" stop-color="#e0deef"/><stop offset="0.125" stop-color="#e4e1ed"/><stop offset="0.156" stop-color="#e8e3eb"/><stop offset="0.188" stop-color="#ebe6e9"/><stop offset="0.219" stop-color="#ece3e3"/><stop offset="0.250" stop-color="#ece0de"/><stop offset="0.281" stop-color="#eddcd8"/><stop offset="0.312" stop-color="#eed7d0"/><stop offset="0.344" stop-color="#efd0c7"/><stop offset="0.375" stop-color="#efc8be"/><stop offset="0.406" stop-color="#f0c0b5"/><stop offset="0.438" stop-color="#efbaad"/><stop offset="0.469" stop-color="#eeb4a6"/><stop offset="0.500" stop-color="#edb0a1"/><stop offset="0.531" stop-color="#ecac9c"/><stop offset="0.562" stop-color="#eba797"/><stop offset="0.594" stop-color="#eba391"/><stop offset="0.625" stop-color="#e99d8b"/><stop offset="0.656" stop-color="#e89785"/><stop offset="0.688" stop-color="#e7927f"/><stop offset="0.719" stop-color="#e68c78"/><stop offset="0.750" stop-color="#e58773"/><stop offset="0.781" stop-color="#e4826e"/><stop offset="0.812" stop-color="#e37b67"/><stop offset="0.844" stop-color="#e17561"/><stop offset="0.875" stop-color="#e06f5b"/><stop offset="0.906" stop-color="#de6a56"/><stop offset="0.938" stop-color="#dc6551"/><stop offset="0.969" stop-color="#da5f4b"/><stop offset="1.000" stop-color="#d85945"/></linearGradient><linearGradient id="g111" x1="0" y1="0" x2="0" y2="1"><stop offset="0.000" stop-color="#d1ceee"/><stop offset="0.031" stop-color="#d8d5ef"/><stop offset="0.062" stop-color="#dedcf0"/><stop offset="0.094" stop-color="#e2dfee"/><stop offset="0.125" stop-color="#e6e2eb"/><stop offset="0.156" stop-color="#eae5ea"/><stop offset="0.188" stop-color="#ebe4e5"/><stop offset="0.219" stop-color="#ece0e0"/><stop offset="0.250" stop-color="#edddda"/><stop offset="0.281" stop-color="#eed9d3"/><stop offset="0.312" stop-color="#eed3cb"/><stop offset="0.344" stop-color="#efcac1"/><stop offset="0.375" stop-color="#f0c2b7"/><stop offset="0.406" stop-color="#efbbae"/><stop offset="0.438" stop-color="#eeb4a6"/><stop offset="0.469" stop-color="#edae9f"/><stop offset="0.500" stop-color="#ecaa9a"/><stop offset="0.531" stop-color="#eba695"/><stop offset="0.562" stop-color="#eaa290"/><stop offset="0.594" stop-color="#e99d8b"/><stop offset="0.625" stop-color="#e89784"/><stop offset="0.656" stop-color="#e7917d"/><stop offset="0.688" stop-color="#e68b77"/><stop offset="0.719" stop-color="#e58672"/><stop offset="0.750" stop-color="#e4816d"/><stop offset="0.781" stop-color="#e37c68"/><stop offset="0.812" stop-color="#e17561"/><stop offset="0.844" stop-color="#df6d59"/><stop offset="0.875" stop-color="#dd6753"/><stop offset="0.906" stop-color="#db614d"/><stop offset="0.938" stop-color="#d95c48"/><stop offset="0.969" stop-color="#d75541"/><stop offset="1.000" stop-color="#d44d3a"/></linearGradient><linearGradient id="g112" x1="0" y1="0" x2="0" y2="1"><stop offset="0.000" stop-color="#d2cfee"/><stop offset="0.031" stop-color="#d9d7ef"/><stop offset="0.062" stop-color="#dfddef"/><stop offset="0.094" stop-color="#e3e0ed"/><stop offset="0.125" stop-color="#e7e3eb"/><stop offset="0.156" stop-color="#eae6e9"/><stop offset="0.188" stop-color="#ece3e4"/><stop offset="0.219" stop-color="#ece0df"/><stop offset="0.250" stop-color="#eddcd9"/><stop offset="0.281" stop-color="#eed8d2"/><stop offset="0.312" stop-color="#eed1c9"/><stop offset="0.344" stop-color="#efc8be"/><stop offset="0.375" stop-color="#f0c0b4"/><stop offset="0.406" stop-color="#efb8ab"/><stop offset="0.438" stop-color="#eeb2a3"/><stop offset="0.469" stop-color="#ecac9c"/><stop offset="0.500" stop-color="#eca897"/><stop offset="0.531" stop-color="#eba492"/><stop offset="0.562" stop-color="#ea9f8d"/><stop offset="0.594" stop-color="#e99a87"/><stop offset="0.625" stop-color="#e79380"/><stop offset="0.656" stop-color="#e68d79"/><stop offset="0.688" stop-color="#e58773"/><stop offset="0.719" stop-color="#e4826e"/><stop offset="0.750" stop-color="#e37c68"/><stop offset="0.781" stop-color="#e27763"/><stop offset="0.812" stop-color="#e0705c"/><stop offset="0.844" stop-color="#dd6753"/><stop offset="0.875" stop-color="#db604c"/><stop offset="0.906" stop-color="#d95b47"/><stop offset="0.938" stop-color="#d75541"/><stop offset="0.969" stop-color="#d44c39"/><stop offset="1.000" stop-color="#d14432"/></linearGradient><linearGradient id="g113" x1="0" y1="0" x2="0" y2="1"><stop offset="0.000" stop-color="#d4d1ee"/><stop offset="0.031" stop-color="#dbd8ef"/><stop offset="0.062" stop-color="#e0deef"/><stop offset="0.094" stop-color="#e4e1ed"/><stop offset="0.125" stop-color="#e8e4eb"/><stop offset="0.156" stop-color="#ebe6e9"/><stop offset="0.188" stop-color="#ece2e3"/><stop offset="0.219" stop-color="#ecdfdd"/><stop offset="0.250" stop-color="#eddcd8"/><stop offset="0.281" stop-color="#eed7d1"/><stop offset="0.312" stop-color="#efcfc7"/><stop offset="0.344" stop-color="#efc6bc"/><stop offset="0.375" stop-color="#f0bdb1"/><stop offset="0.406" stop-color="#eeb6a8"/><stop offset="0.438" stop-color="#edb0a1"/><stop offset="0.469" stop-color="#ecaa9a"/><stop offset="0.500" stop-color="#eba695"/><stop offset="0.531" stop-color="#eaa190"/><stop offset="0.562" stop-color="#e99c8a"/><stop offset="0.594" stop-color="#e89684"/><stop offset="0.625" stop-color="#e7907c"/><stop offset="0.656" stop-color="#e58975"/><stop offset="0.688" stop-color="#e48470"/><stop offset="0.719" stop-color="#e37e6a"/><stop offset="0.750" stop-color="#e27864"/><stop offset="0.781" stop-color="#e1725e"/><stop offset="0.812" stop-color="#de6a56"/><stop offset="0.844" stop-color="#db614d"/><stop offset="0.875" stop-color="#d95a46"/><stop offset="0.906" stop-color="#d75440"/><stop offset="0.938" stop-color="#d44c39"/><stop offset="0.969" stop-color="#d04332"/><stop offset="1.000" stop-color="#cd3b2a"/></linearGradient><linearGradient id="g114" x1="0" y1="0" x2="0" y2="1"><stop offset="0.000" stop-color="#d6d3ee"/><stop offset="0.031" stop-color="#dcdaf0"/><stop offset="0.062" stop-color="#e1deef"/><stop offset="0.094" stop-color="#e5e1ec"/><stop offset="0.125" stop-color="#e8e4ea"/><stop offset="0.156" stop-color="#ebe5e8"/><stop offset="0.188" stop-color="#ece2e2"/><stop offset="0.219" stop-color="#eddedc"/><stop offset="0.250" stop-color="#eddbd6"/><stop offset="0.281" stop-color="#eed6cf"/><stop offset="0.312" stop-color="#efcdc4"/><stop offset="0.344" stop-color="#efc4ba"/><stop offset="0.375" stop-color="#efbbae"/><stop offset="0.406" stop-color="#eeb3a5"/><stop offset="0.438" stop-color="#edae9e"/><stop offset="0.469" stop-color="#eca898"/><stop offset="0.500" stop-color="#eba392"/><stop offset="0.531" stop-color="#ea9f8d"/><stop offset="0.562" stop-color="#e99987"/><stop offset="0.594" stop-color="#e79380"/><stop offset="0.625" stop-color="#e68c78"/><stop offset="0.656" stop-color="#e58672"/><stop offset="0.688" stop-color="#e4806c"/><stop offset="0.719" stop-color="#e27a66"/><stop offset="0.750" stop-color="#e17460"/><stop offset="0.781" stop-color="#df6c58"/><stop offset="0.812" stop-color="#dc6450"/><stop offset="0.844" stop-color="#d95b47"/><stop offset="0.875" stop-color="#d65440"/><stop offset="0.906" stop-color="#d34b38"/><stop offset="0.938" stop-color="#d04331"/><stop offset="0.969" stop-color="#cd3a2a"/><stop offset="1.000" stop-color="#ca3222"/></linearGradient><linearGradient id="g115" x1="0" y1="0" x2="0" y2="1"><stop offset="0.000" stop-color="#d7d5ef"/><stop offset="0.031" stop-color="#dedcf0"/><stop offset="0.062" stop-color="#e2dfee"/><stop offset="0.094" stop-color="#e5e2ec"/><stop offset="0.125" stop-color="#e9e5ea"/><stop offset="0.156" stop-color="#ebe4e6"/><stop offset="0.188" stop-color="#ece1e0"/><stop offset="0.219" stop-color="#eddddb"/><stop offset="0.250" stop-color="#eddad5"/><stop offset="0.281" stop-color="#eed5cd"/><stop offset="0.312" stop-color="#efccc2"/><stop offset="0.344" stop-color="#f0c2b7"/><stop offset="0.375" stop-color="#efb9ac"/><stop offset="0.406" stop-color="#edb1a3"/><stop offset="0.438" stop-color="#ecac9c"/><stop offset="0.469" stop-color="#eba695"/><stop offset="0.500" stop-color="#eaa190"/><stop offset="0.531" stop-color="#e99c8a"/><stop offset="0.562" stop-color="#e89683"/><stop offset="0.594" stop-color="#e7907d"/><stop offset="0.625" stop-color="#e58975"/><stop offset="0.656" stop-color="#e4826e"/><stop offset="0.688" stop-color="#e37c68"/><stop offset="0.719" stop-color="#e27763"/><stop offset="0.750" stop-color="#e06f5b"/><stop offset="0.781" stop-color="#dd6652"/><stop offset="0.812" stop-color="#da5e4a"/><stop offset="0.844" stop-color="#d75541"/><stop offset="0.875" stop-color="#d34b39"/><stop offset="0.906" stop-color="#d04231"/><stop offset="0.938" stop-color="#cd3a29"/><stop offset="0.969" stop-color="#ca3122"/><stop offset="1.000" stop-color="#c7291c"/></linearGradient><linearGradient id="g116" x1="0" y1="0" x2="0" y2="1"><stop offset="0.000" stop-color="#d8d6ef"/><stop offset="0.031" stop-color="#dedcf0"/><stop offset="0.062" stop-color="#e2dfee"/><stop offset="0.094" stop-color="#e6e2ec"/><stop offset="0.125" stop-color="#eae5ea"/><stop offset="0.156" stop-color="#ebe4e5"/><stop offset="0.188" stop-color="#ece0e0"/><stop offset="0.219" stop-color="#edddda"/><stop offset="0.250" stop-color="#eed9d4"/><stop offset="0.281" stop-color="#eed3cb"/><stop offset="0.312" stop-color="#efcac0"/><stop offset="0.344" stop-color="#f0c0b5"/><stop offset="0.375" stop-color="#efb7a9"/><stop offset="0.406" stop-color="#edafa0"/><stop offset="0.438" stop-color="#ecaa9a"/><stop offset="0.469" stop-color="#eba493"/><stop offset="0.500" stop-color="#ea9e8c"/><stop offset="0.531" stop-color="#e89885"/><stop offset="0.562" stop-color="#e7927f"/><stop offset="0.594" stop-color="#e68c78"/><stop offset="0.625" stop-color="#e58571"/><stop offset="0.656" stop-color="#e37e6a"/><stop offset="0.688" stop-color="#e27864"/><stop offset="0.719" stop-color="#e1725e"/><stop offset="0.750" stop-color="#de6a56"/><stop offset="0.781" stop-color="#db614d"/><stop offset="0.812" stop-color="#d85945"/><stop offset="0.844" stop-color="#d44e3b"/><stop offset="0.875" stop-color="#d14432"/><stop offset="0.906" stop-color="#cd3b2a"/><stop offset="0.938" stop-color="#ca3222"/><stop offset="0.969" stop-color="#c7291c"/><stop offset="1.000" stop-color="#c52116"/></linearGradient><linearGradient id="g117" x1="0" y1="0" x2="0" y2="1"><stop offset="0.000" stop-color="#dad7ef"/><stop offset="0.031" stop-color="#dfddef"/><stop offset="0.062" stop-color="#e3e0ed"/><stop offset="0.094" stop-color="#e7e3eb"/><stop offset="0.125" stop-color="#eae6e9"/><stop offset="0.156" stop-color="#ece3e4"/><stop offset="0.188" stop-color="#ece0df"/><stop offset="0.219" stop-color="#eddcd9"/><stop offset="0.250" stop-color="#eed8d2"/><stop offset="0.281" stop-color="#eed1c9"/><stop offset="0.312" stop-color="#efc8be"/><stop offset="0.344" stop-color="#f0beb3"/><stop offset="0.375" stop-color="#eeb5a7"/><stop offset="0.406" stop-color="#edad9e"/><stop offset="0.438" stop-color="#eca897"/><stop offset="0.469" stop-color="#eaa290"/><stop offset="0.500" stop-color="#e99b89"/><stop offset="0.531" stop-color="#e89481"/><stop offset="0.562" stop-color="#e68e7a"/><stop offset="0.594" stop-color="#e58773"/><stop offset="0.625" stop-color="#e4816d"/><stop offset="0.656" stop-color="#e27a66"/><stop offset="0.688" stop-color="#e17460"/><stop offset="0.719" stop-color="#df6d59"/><stop offset="0.750" stop-color="#dc6551"/><stop offset="0.781" stop-color="#d95c48"/><stop offset="0.812" stop-color="#d6533f"/><stop offset="0.844" stop-color="#d24735"/><stop offset="0.875" stop-color="#ce3d2c"/><stop offset="0.906" stop-color="#ca3323"/><stop offset="0.938" stop-color="#c72a1c"/><stop offset="0.969" stop-color="#c52117"/><stop offset="1.000" stop-color="#c31912"/></linearGradient><linearGradient id="g118" x1="0" y1="0" x2="0" y2="1"><stop offset="0.000" stop-color="#dbd8ef"/><stop offset="0.031" stop-color="#e0ddef"/><stop offset="0.062" stop-color="#e4e0ed"/><stop offset="0.094" stop-color="#e7e3eb"/><stop offset="0.125" stop-color="#ebe6e9"/><stop offset="0.156" stop-color="#ece3e3"/><stop offset="0.188" stop-color="#ece0de"/><stop offset="0.219" stop-color="#eddcd8"/><stop offset="0.250" stop-color="#eed7d0"/><stop offset="0.281" stop-color="#efcfc7"/><stop offset="0.312" stop-color="#efc6bc"/><stop offset="0.344" stop-color="#f0bdb0"/><stop offset="0.375" stop-color="#eeb3a5"/><stop offset="0.406" stop-color="#ecab9c"/><stop offset="0.438" stop-color="#eba695"/><stop offset="0.469" stop-color="#eaa08e"/><stop offset="0.500" stop-color="#e89885"/><stop offset="0.531" stop-color="#e7907c"/><stop offset="0.562" stop-color="#e58975"/><stop offset="0.594" stop-color="#e4836f"/><stop offset="0.625" stop-color="#e37d69"/><stop offset="0.656" stop-color="#e27662"/><stop offset="0.688" stop-color="#e06f5b"/><stop offset="0.719" stop-color="#dd6854"/><stop offset="0.750" stop-color="#da5f4b"/><stop offset="0.781" stop-color="#d85743"/><stop offset="0.812" stop-color="#d44c39"/><stop offset="0.844" stop-color="#cf402f"/><stop offset="0.875" stop-color="#cb3525"/><stop offset="0.906" stop-color="#c82b1d"/><stop offset="0.938" stop-color="#c52217"/><stop offset="0.969" stop-color="#c31912"/><stop offset="1.000" stop-color="#c1110c"/></linearGradient><linearGradient id="g119" x1="0" y1="0" x2="0" y2="1"><stop offset="0.000" stop-color="#dcdaf0"/><stop offset="0.031" stop-color="#e0deef"/><stop offset="0.062" stop-color="#e4e1ed"/><stop offset="0.094" stop-color="#e8e4eb"/><stop offset="0.125" stop-color="#ebe5e8"/><stop offset="0.156" stop-color="#ece2e2"/><stop offset="0.188" stop-color="#ecdfde"/><stop offset="0.219" stop-color="#eddbd7"/><stop offset="0.250" stop-color="#eed6ce"/><stop offset="0.281" stop-color="#efcdc4"/><stop offset="0.312" stop-color="#f0c4b9"/><stop offset="0.344" stop-color="#efbbae"/><stop offset="0.375" stop-color="#edb1a3"/><stop offset="0.406" stop-color="#ecaa9a"/><stop offset="0.438" stop-color="#eba493"/><stop offset="0.469" stop-color="#ea9d8c"/><stop offset="0.500" stop-color="#e89582"/><stop offset="0.531" stop-color="#e68c78"/><stop offset="0.562" stop-color="#e58571"/><stop offset="0.594" stop-color="#e37f6b"/><stop offset="0.625" stop-color="#e27965"/><stop offset="0.656" stop-color="#e1735f"/><stop offset="0.688" stop-color="#de6b57"/><stop offset="0.719" stop-color="#dc634f"/><stop offset="0.750" stop-color="#d95a46"/><stop offset="0.781" stop-color="#d5503d"/><stop offset="0.812" stop-color="#d14533"/><stop offset="0.844" stop-color="#cd3929"/><stop offset="0.875" stop-color="#c82e1f"/><stop offset="0.906" stop-color="#c62318"/><stop offset="0.938" stop-color="#c31a12"/><stop offset="0.969" stop-color="#c1110d"/><stop offset="1.000" stop-color="#bf0908"/></linearGradient></defs><rect x="139.00" y="69.00" width="5.68" height="721.60" fill="url(#g0)"/><rect x="144.33" y="69.00" width="5.68" height="721.60" fill="url(#g1)"/><rect x="149.67" y="69.00" width="5.68" height="721.60" fill="url(#g2)"/><rect x="155.00" y="69.00" width="5.68" height="721.60" fill="url(#g3)"/><rect x="160.33" y="69.00" width="5.68" height="721.60" fill="url(#g4)"/><rect x="165.67" y="69.00" width="5.68" height="721.60" fill="url(#g5)"/><rect x="171.00" y="69.00" width="5.68" height="721.60" fill="url(#g6)"/><rect x="176.33" y="69.00" width="5.68" height="721.60" fill="url(#g7)"/><rect x="181.67" y="69.00" width="5.68" height="721.60" fill="url(#g8)"/><rect x="187.00" y="69.00" width="5.68" height="721.60" fill="url(#g9)"/><rect x="192.33" y="69.00" width="5.68" height="721.60" fill="url(#g10)"/><rect x="197.67" y="69.00" width="5.68" height="721.60" fill="url(#g11)"/><rect x="203.00" y="69.00" width="5.68" height="721.60" fill="url(#g12)"/><rect x="208.33" y="69.00" width="5.68" height="721.60" fill="url(#g13)"/><rect x="213.67" y="69.00" width="5.68" height="721.60" fill="url(#g14)"/><rect x="219.00" y="69.00" width="5.68" height="721.60" fill="url(#g15)"/><rect x="224.33" y="69.00" width="5.68" height="721.60" fill="url(#g16)"/><rect x="229.67" y="69.00" width="5.68" height="721.60" fill="url(#g17)"/><rect x="235.00" y="69.00" width="5.68" height="721.60" fill="url(#g18)"/><rect x="240.33" y="69.00" width="5.68" height="721.60" fill="url(#g19)"/><rect x="245.67" y="69.00" width="5.68" height="721.60" fill="url(#g20)"/><rect x="251.00" y="69.00" width="5.68" height="721.60" fill="url(#g21)"/><rect x="256.33" y="69.00" width="5.68" height="721.60" fill="url(#g22)"/><rect x="261.67" y="69.00" width="5.68" height="721.60" fill="url(#g23)"/><rect x="267.00" y="69.00" width="5.68" height="721.60" fill="url(#g24)"/><rect x="272.33" y="69.00" width="5.68" height="721.60" fill="url(#g25)"/><rect x="277.67" y="69.00" width="5.68" height="721.60" fill="url(#g26)"/><rect x="283.00" y="69.00" width="5.68" height="721.60" fill="url(#g27)"/><rect x="288.33" y="69.00" width="5.68" height="721.60" fill="url(#g28)"/><rect x="293.67" y="69.00" width="5.68" height="721.60" fill="url(#g29)"/><rect x="299.00" y="69.00" width="5.68" height="721.60" fill="url(#g30)"/><rect x="304.33" y="69.00" width="5.68" height="721.60" fill="url(#g31)"/><rect x="309.67" y="69.00" width="5.68" height="721.60" fill="url(#g32)"/><rect x="315.00" y="69.00" width="5.68" height="721.60" fill="url(#g33)"/><rect x="320.33" y="69.00" width="5.68" height="721.60" fill="url(#g34)"/><rect x="325.67" y="69.00" width="5.68" height="721.60" fill="url(#g35)"/><rect x="331.00" y="69.00" width="5.68" height="721.60" fill="url(#g36)"/><rect x="336.33" y="69.00" width="5.68" height="721.60" fill="url(#g37)"/><rect x="341.67" y="69.00" width="5.68" height="721.60" fill="url(#g38)"/><rect x="347.00" y="69.00" width="5.68" height="721.60" fill="url(#g39)"/><rect x="352.33" y="69.00" width="5.68" height="721.60" fill="url(#g40)"/><rect x="357.67" y="69.00" width="5.68" height="721.60" fill="url(#g41)"/><rect x="363.00" y="69.00" width="5.68" height="721.60" fill="url(#g42)"/><rect x="368.33" y="69.00" width="5.68" height="721.60" fill="url(#g43)"/><rect x="373.67" y="69.00" width="5.68" height="721.60" fill="url(#g44)"/><rect x="379.00" y="69.00" width="5.68" height="721.60" fill="url(#g45)"/><rect x="384.33" y="69.00" width="5.68" height="721.60" fill="url(#g46)"/><rect x="389.67" y="69.00" width="5.68" height="721.60" fill="url(#g47)"/><rect x="395.00" y="69.00" width="5.68" height="721.60" fill="url(#g48)"/><rect x="400.33" y="69.00" width="5.68" height="721.60" fill="url(#g49)"/><rect x="405.67" y="69.00" width="5.68" height="721.60" fill="url(#g50)"/><rect x="411.00" y="69.00" width="5.68" height="721.60" fill="url(#g51)"/><rect x="416.33" y="69.00" width="5.68" height="721.60" fill="url(#g52)"/><rect x="421.67" y="69.00" width="5.68" height="721.60" fill="url(#g53)"/><rect x="427.00" y="69.00" width="5.68" height="721.60" fill="url(#g54)"/><rect x="432.33" y="69.00" width="5.68" height="721.60" fill="url(#g55)"/><rect x="437.67" y="69.00" width="5.68" height="721.60" fill="url(#g56)"/><rect x="443.00" y="69.00" width="5.68" height="721.60" fill="url(#g57)"/><rect x="448.33" y="69.00" width="5.68" height="721.60" fill="url(#g58)"/><rect x="453.67" y="69.00" width="5.68" height="721.60" fill="url(#g59)"/><rect x="459.00" y="69.00" width="5.68" height="721.60" fill="url(#g60)"/><rect x="464.33" y="69.00" width="5.68" height="721.60" fill="url(#g61)"/><rect x="469.67" y="69.00" width="5.68" height="721.60" fill="url(#g62)"/><rect x="475.00" y="69.00" width="5.68" height="721.60" fill="url(#g63)"/><rect x="480.33" y="69.00" width="5.68" height="721.60" fill="url(#g64)"/><rect x="485.67" y="69.00" width="5.68" height="721.60" fill="url(#g65)"/><rect x="491.00" y="69.00" width="5.68" height="721.60" fill="url(#g66)"/><rect x="496.33" y="69.00" width="5.68" height="721.60" fill="url(#g67)"/><rect x="501.67" y="69.00" width="5.68" height="721.60" fill="url(#g68)"/><rect x="507.00" y="69.00" width="5.68" height="721.60" fill="url(#g69)"/><rect x="512.33" y="69.00" width="5.68" height="721.60" fill="url(#g70)"/><rect x="517.67" y="69.00" width="5.68" height="721.60" fill="url(#g71)"/><rect x="523.00" y="69.00" width="5.68" height="721.60" fill="url(#g72)"/><rect x="528.33" y="69.00" width="5.68" height="721.60" fill="url(#g73)"/><rect x="533.67" y="69.00" width="5.68" height="721.60" fill="url(#g74)"/><rect x="539.00" y="69.00" width="5.68" height="721.60" fill="url(#g75)"/><rect x="544.33" y="69.00" width="5.68" height="721.60" fill="url(#g76)"/><rect x="549.67" y="69.00" width="5.68" height="721.60" fill="url(#g77)"/><rect x="555.00" y="69.00" width="5.68" height="721.60" fill="url(#g78)"/><rect x="560.33" y="69.00" width="5.68" height="721.60" fill="url(#g79)"/><rect x="565.67" y="69.00" width="5.68" height="721.60" fill="url(#g80)"/><rect x="571.00" y="69.00" width="5.68" height="721.60" fill="url(#g81)"/><rect x="576.33" y="69.00" width="5.68" height="721.60" fill="url(#g82)"/><rect x="581.67" y="69.00" width="5.68" height="721.60" fill="url(#g83)"/><rect x="587.00" y="69.00" width="5.68" height="721.60" fill="url(#g84)"/><rect x="592.33" y="69.00" width="5.68" height="721.60" fill="url(#g85)"/><rect x="597.67" y="69.00" width="5.68" height="721.60" fill="url(#g86)"/><rect x="603.00" y="69.00" width="5.68" height="721.60" fill="url(#g87)"/><rect x="608.33" y="69.00" width="5.68" height="721.60" fill="url(#g88)"/><rect x="613.67" y="69.00" width="5.68" height="721.60" fill="url(#g89)"/><rect x="619.00" y="69.00" width="5.68" height="721.60" fill="url(#g90)"/><rect x="624.33" y="69.00" width="5.68" height="721.60" fill="url(#g91)"/><rect x="629.67" y="69.00" width="5.68" height="721.60" fill="url(#g92)"/><rect x="635.00" y="69.00" width="5.68" height="721.60" fill="url(#g93)"/><rect x="640.33" y="69.00" width="5.68" height="721.60" fill="url(#g94)"/><rect x="645.67" y="69.00" width="5.68" height="721.60" fill="url(#g95)"/><rect x="651.00" y="69.00" width="5.68" height="721.60" fill="url(#g96)"/><rect x="656.33" y="69.00" width="5.68" height="721.60" fill="url(#g97)"/><rect x="661.67" y="69.00" width="5.68" height="721.60" fill="url(#g98)"/><rect x="667.00" y="69.00" width="5.68" height="721.60" fill="url(#g99)"/><rect x="672.33" y="69.00" width="5.68" height="721.60" fill="url(#g100)"/><rect x="677.67" y="69.00" width="5.68" height="721.60" fill="url(#g101)"/><rect x="683.00" y="69.00" width="5.68" height="721.60" fill="url(#g102)"/><rect x="688.33" y="69.00" width="5.68" height="721.60" fill="url(#g103)"/><rect x="693.67" y="69.00" width="5.68" height="721.60" fill="url(#g104)"/><rect x="699.00" y="69.00" width="5.68" height="721.60" fill="url(#g105)"/><rect x="704.33" y="69.00" width="5.68" height="721.60" fill="url(#g106)"/><rect x="709.67" y="69.00" width="5.68" height="721.60" fill="url(#g107)"/><rect x="715.00" y="69.00" width="5.68" height="721.60" fill="url(#g108)"/><rect x="720.33" y="69.00" width="5.68" height="721.60" fill="url(#g109)"/><rect x="725.67" y="69.00" width="5.68" height="721.60" fill="url(#g110)"/><rect x="731.00" y="69.00" width="5.68" height="721.60" fill="url(#g111)"/><rect x="736.33" y="69.00" width="5.68" height="721.60" fill="url(#g112)"/><rect x="741.67" y="69.00" width="5.68" height="721.60" fill="url(#g113)"/><rect x="747.00" y="69.00" width="5.68" height="721.60" fill="url(#g114)"/><rect x="752.33" y="69.00" width="5.68" height="721.60" fill="url(#g115)"/><rect x="757.67" y="69.00" width="5.68" height="721.60" fill="url(#g116)"/><rect x="763.00" y="69.00" width="5.68" height="721.60" fill="url(#g117)"/><rect x="768.33" y="69.00" width="5.68" height="721.60" fill="url(#g118)"/><rect x="773.67" y="69.00" width="5.33" height="721.60" fill="url(#g119)"/>
<defs><linearGradient id="cb" x1="0" y1="0" x2="0" y2="1"><stop offset="0.0000" stop-color="#be0505"/><stop offset="0.0312" stop-color="#c31912"/><stop offset="0.0625" stop-color="#c82d1e"/><stop offset="0.0938" stop-color="#d0412f"/><stop offset="0.1250" stop-color="#d75541"/><stop offset="0.1562" stop-color="#dc6450"/><stop offset="0.1875" stop-color="#e1735f"/><stop offset="0.2188" stop-color="#e4806c"/><stop offset="0.2500" stop-color="#e68c78"/><stop offset="0.2812" stop-color="#e89886"/><stop offset="0.3125" stop-color="#eba594"/><stop offset="0.3438" stop-color="#eeb2a3"/><stop offset="0.3750" stop-color="#f0beb2"/><stop offset="0.4062" stop-color="#efcac1"/><stop offset="0.4375" stop-color="#eed7d0"/><stop offset="0.4688" stop-color="#ecdedc"/><stop offset="0.5000" stop-color="#ebe6e9"/><stop offset="0.5312" stop-color="#e4e1ec"/><stop offset="0.5625" stop-color="#dedcf0"/><stop offset="0.5938" stop-color="#d3d0ee"/><stop offset="0.6250" stop-color="#c8c4ec"/><stop offset="0.6562" stop-color="#bebaea"/><stop offset="0.6875" stop-color="#b4b0e8"/><stop offset="0.7188" stop-color="#a7a3e6"/><stop offset="0.7500" stop-color="#9b96e4"/><stop offset="0.7812" stop-color="#8e8be2"/><stop offset="0.8125" stop-color="#8280e1"/><stop offset="0.8438" stop-color="#7577e0"/><stop offset="0.8750" stop-color="#696ede"/><stop offset="0.9062" stop-color="#5a64dd"/><stop offset="0.9375" stop-color="#4b5adc"/><stop offset="0.9688" stop-color="#3752dc"/><stop offset="1.0000" stop-color="#234bdc"/></linearGradient></defs>
<rect x="792.5" y="69.5" width="26" height="721" fill="url(#cb)" stroke="#262626" stroke-width="1"/>
<g stroke="#262626" stroke-width="1">
<line x1="811.5" x2="818.5" y1="159.5" y2="159.5"/><line x1="811.5" x2="818.5" y1="250.5" y2="250.5"/><line x1="811.5" x2="818.5" y1="340.5" y2="340.5"/><line x1="811.5" x2="818.5" y1="430.5" y2="430.5"/><line x1="811.5" x2="818.5" y1="520.5" y2="520.5"/><line x1="811.5" x2="818.5" y1="610.5" y2="610.5"/><line x1="811.5" x2="818.5" y1="700.5" y2="700.5"/>
</g>
<g font-family="Liberation Serif, serif" font-size="47.6" fill="#262626">
<text x="126" y="86" text-anchor="end">0</text>
<text x="126" y="266" text-anchor="end">-5</text>
<text x="126" y="447" text-anchor="end">-10</text>
<text x="126" y="627.5" text-anchor="end">-15</text>
<text x="126" y="808" text-anchor="end">-20</text>
<text x="192.3" y="847.3" text-anchor="middle">-50</text>
<text x="459" y="847.3" text-anchor="middle">0</text>
<text x="726" y="847.3" text-anchor="middle">50</text>
<text x="832" y="175.8" >0.6</text>
<text x="832" y="265.8" >0.4</text>
<text x="832" y="356.3" >0.2</text>
<text x="832" y="446.8" >0</text>
<text x="832" y="537.3" >-0.2</text>
<text x="832" y="627.3" >-0.4</text>
<text x="832" y="717.3" >-0.6</text>
<text x="832" y="807.8" >-0.8</text>
</g>
<g font-family="Liberation Serif, serif" font-size="51.3" fill="#262626">
<text x="458" y="904.3" text-anchor="middle">Angle of incidence (deg)</text>
<text transform="translate(47,430.5) rotate(-90)" text-anchor="middle">z (nm)</text>
</g>
<g font-family="Liberation Serif, serif" fill="#262626" font-size="48">
<text x="712.6" y="35" font-style="italic">δ</text>
<text x="745" y="35">A</text>
<text x="781" y="57.5" font-size="36">g"</text>
<text x="826" y="35">(%)</text>
</g>
</svg>
</body></html>
